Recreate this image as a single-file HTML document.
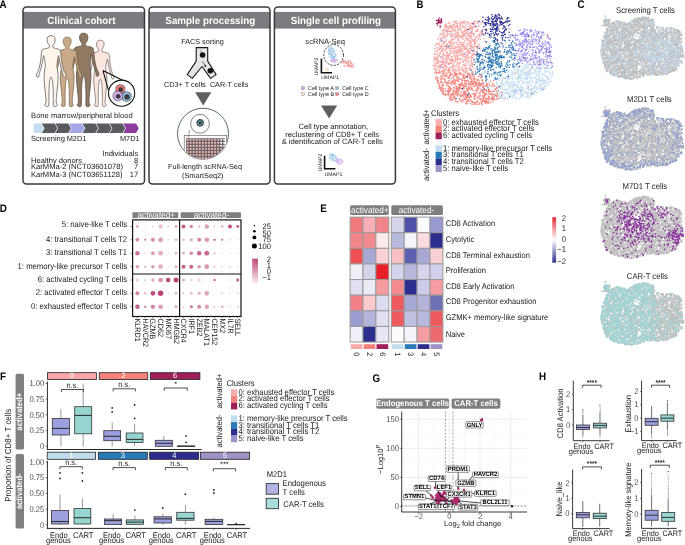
<!DOCTYPE html>
<html><head><meta charset="utf-8"><title>Figure</title>
<style>html,body{margin:0;padding:0;background:#fff;}svg{display:block;}text{font-family:"Liberation Sans", Arial, Helvetica, sans-serif;text-rendering:geometricPrecision;}</style>
</head><body>
<svg width="685" height="545" viewBox="0 0 685 545" font-family='"Liberation Sans", Arial, Helvetica, sans-serif'>
<rect x="23" y="7" width="121.5" height="177" fill="#fff" rx="3.5"/>
<rect x="23" y="11.9" width="121.5" height="16.7" fill="#7b7c80"/>
<rect x="23" y="7" width="121.5" height="177" fill="none" stroke="#3a3a3a" stroke-width="1.5" rx="3.5"/>
<text x="81.4" y="24.3" font-size="10.29" textLength="68.06" lengthAdjust="spacingAndGlyphs" text-anchor="middle" font-weight="bold" fill="#fff">Clinical cohort</text>
<rect x="149" y="7" width="121" height="177" fill="#fff" rx="3.5"/>
<rect x="149" y="11.9" width="121" height="16.7" fill="#7b7c80"/>
<rect x="149" y="7" width="121" height="177" fill="none" stroke="#3a3a3a" stroke-width="1.5" rx="3.5"/>
<text x="210.3" y="24.3" font-size="10.29" textLength="89.87" lengthAdjust="spacingAndGlyphs" text-anchor="middle" font-weight="bold" fill="#fff">Sample processing</text>
<rect x="274.4" y="7" width="121" height="177" fill="#fff" rx="3.5"/>
<rect x="274.4" y="11.9" width="121" height="16.7" fill="#7b7c80"/>
<rect x="274.4" y="7" width="121" height="177" fill="none" stroke="#3a3a3a" stroke-width="1.5" rx="3.5"/>
<text x="335.9" y="24.3" font-size="10.29" textLength="90.39" lengthAdjust="spacingAndGlyphs" text-anchor="middle" font-weight="bold" fill="#fff">Single cell profiling</text>
<text x="-0.4" y="7.8" font-size="11.07" textLength="7.08" lengthAdjust="spacingAndGlyphs" font-weight="bold">A</text>
<path d="M100.3 40.3C101.05 40.3 101.97 40.28 102.56 40.68C103.16 41.07 103.65 41.9 103.88 42.66C104.12 43.41 104.1 44.35 103.98 45.2C103.85 46.05 103.44 47.07 103.13 47.75C102.81 48.42 102.28 48.68 102.09 49.26C101.9 49.84 101.57 50.73 102 51.24C102.42 51.74 103.68 51.98 104.64 52.27C105.6 52.57 107.01 52.62 107.75 53.03C108.49 53.44 108.77 53.86 109.07 54.73C109.37 55.59 109.37 56.69 109.54 58.21C109.71 59.74 109.82 61.99 110.11 63.87C110.39 65.76 110.83 67.91 111.24 69.53C111.65 71.15 112.15 72.56 112.56 73.58C112.97 74.6 113.45 74.92 113.69 75.66C113.92 76.4 114.11 77.4 113.97 78.01C113.83 78.63 113.22 79.26 112.84 79.33C112.46 79.41 111.96 79.05 111.71 78.49C111.46 77.92 111.69 77.35 111.33 75.94C110.97 74.53 110.04 71.93 109.54 70C109.04 68.07 108.69 66.18 108.31 64.34C107.94 62.5 107.61 59.13 107.28 58.97C106.95 58.81 106.59 61.88 106.33 63.4C106.08 64.92 105.78 66.62 105.77 68.11C105.75 69.61 106.07 70.86 106.24 72.36C106.41 73.85 106.73 75.19 106.81 77.07C106.88 78.96 106.85 81.31 106.71 83.67C106.57 86.03 106.18 89.01 105.96 91.21C105.74 93.41 105.53 94.99 105.39 96.87C105.25 98.76 105 101.15 105.11 102.53C105.22 103.91 106.08 104.51 106.05 105.17C106.02 105.83 105.47 106.3 104.92 106.49C104.37 106.68 103.19 106.83 102.75 106.3C102.31 105.77 102.34 104.85 102.28 103.28C102.22 101.71 102.39 99.04 102.37 96.87C102.36 94.7 102.31 92.63 102.19 90.27C102.06 87.91 101.93 84.61 101.62 82.73C101.31 80.84 100.74 78.96 100.3 78.96C99.86 78.96 99.29 80.84 98.98 82.73C98.67 84.61 98.54 87.91 98.41 90.27C98.29 92.63 98.24 94.7 98.23 96.87C98.21 99.04 98.38 101.71 98.32 103.28C98.26 104.85 98.29 105.77 97.85 106.3C97.41 106.83 96.23 106.68 95.68 106.49C95.13 106.3 94.58 105.83 94.55 105.17C94.52 104.51 95.38 103.91 95.49 102.53C95.6 101.15 95.35 98.76 95.21 96.87C95.07 94.99 94.86 93.41 94.64 91.21C94.42 89.01 94.03 86.03 93.89 83.67C93.75 81.31 93.72 78.96 93.79 77.07C93.87 75.19 94.19 73.85 94.36 72.36C94.53 70.86 94.85 69.61 94.83 68.11C94.82 66.62 94.52 64.92 94.27 63.4C94.01 61.88 93.65 58.81 93.32 58.97C92.99 59.13 92.66 62.5 92.29 64.34C91.91 66.18 91.56 68.07 91.06 70C90.56 71.93 89.63 74.53 89.27 75.94C88.91 77.35 89.14 77.92 88.89 78.49C88.64 79.05 88.14 79.41 87.76 79.33C87.38 79.26 86.77 78.63 86.63 78.01C86.49 77.4 86.68 76.4 86.91 75.66C87.15 74.92 87.63 74.6 88.04 73.58C88.45 72.56 88.95 71.15 89.36 69.53C89.77 67.91 90.21 65.76 90.49 63.87C90.78 61.99 90.89 59.74 91.06 58.21C91.23 56.69 91.23 55.59 91.53 54.73C91.83 53.86 92.11 53.44 92.85 53.03C93.59 52.62 95 52.57 95.96 52.27C96.92 51.98 98.18 51.74 98.6 51.24C99.03 50.73 98.7 49.84 98.51 49.26C98.32 48.68 97.79 48.42 97.47 47.75C97.16 47.07 96.75 46.05 96.62 45.2C96.5 44.35 96.48 43.41 96.72 42.66C96.95 41.9 97.44 41.07 98.04 40.68C98.63 40.28 99.55 40.3 100.3 40.3Z" fill="#fce6de" stroke="#7a7070" stroke-width="0.8" stroke-linejoin="round"/>
<path d="M83.7 33.3C84.53 33.3 85.54 33.28 86.2 33.72C86.86 34.15 87.4 35.07 87.66 35.91C87.92 36.74 87.91 37.78 87.77 38.72C87.63 39.66 87.18 40.79 86.83 41.54C86.48 42.29 85.89 42.56 85.68 43.21C85.47 43.85 85.11 44.84 85.58 45.4C86.05 45.95 87.44 46.21 88.5 46.54C89.56 46.87 91.12 46.93 91.94 47.38C92.76 47.83 93.07 48.3 93.4 49.26C93.73 50.21 93.73 51.43 93.92 53.11C94.11 54.8 94.23 57.29 94.55 59.37C94.86 61.46 95.35 63.84 95.8 65.63C96.25 67.42 96.81 68.98 97.26 70.11C97.71 71.24 98.25 71.59 98.51 72.41C98.77 73.22 98.98 74.34 98.82 75.01C98.66 75.69 97.99 76.39 97.57 76.47C97.15 76.56 96.6 76.16 96.32 75.54C96.04 74.91 96.3 74.28 95.9 72.72C95.5 71.16 94.48 68.29 93.92 66.15C93.36 64.01 92.98 61.93 92.56 59.89C92.15 57.86 91.78 54.12 91.42 53.95C91.05 53.77 90.65 57.16 90.37 58.85C90.1 60.54 89.77 62.41 89.75 64.06C89.73 65.72 90.08 67.11 90.27 68.76C90.46 70.41 90.81 71.89 90.9 73.97C90.98 76.06 90.95 78.66 90.79 81.27C90.63 83.88 90.2 87.18 89.96 89.61C89.71 92.05 89.49 93.79 89.33 95.87C89.18 97.96 88.9 100.6 89.02 102.13C89.14 103.66 90.1 104.32 90.06 105.05C90.03 105.78 89.42 106.3 88.81 106.51C88.2 106.72 86.9 106.89 86.41 106.3C85.92 105.71 85.96 104.7 85.89 102.96C85.82 101.22 86.01 98.27 85.99 95.87C85.98 93.47 85.92 91.18 85.79 88.57C85.65 85.96 85.51 82.31 85.16 80.23C84.81 78.14 84.19 76.06 83.7 76.06C83.21 76.06 82.59 78.14 82.24 80.23C81.89 82.31 81.75 85.96 81.61 88.57C81.48 91.18 81.42 93.47 81.41 95.87C81.39 98.27 81.58 101.22 81.51 102.96C81.44 104.7 81.48 105.71 80.99 106.3C80.5 106.89 79.2 106.72 78.59 106.51C77.98 106.3 77.37 105.78 77.34 105.05C77.3 104.32 78.26 103.66 78.38 102.13C78.5 100.6 78.22 97.96 78.07 95.87C77.91 93.79 77.69 92.05 77.44 89.61C77.2 87.18 76.77 83.88 76.61 81.27C76.45 78.66 76.42 76.06 76.5 73.97C76.59 71.89 76.94 70.41 77.13 68.76C77.32 67.11 77.67 65.72 77.65 64.06C77.63 62.41 77.3 60.54 77.03 58.85C76.75 57.16 76.35 53.77 75.98 53.95C75.62 54.12 75.25 57.86 74.84 59.89C74.42 61.93 74.04 64.01 73.48 66.15C72.92 68.29 71.9 71.16 71.5 72.72C71.1 74.28 71.36 74.91 71.08 75.54C70.8 76.16 70.25 76.56 69.83 76.47C69.41 76.39 68.74 75.69 68.58 75.01C68.42 74.34 68.63 73.22 68.89 72.41C69.15 71.59 69.69 71.24 70.14 70.11C70.59 68.98 71.15 67.42 71.6 65.63C72.05 63.84 72.54 61.46 72.85 59.37C73.17 57.29 73.29 54.8 73.48 53.11C73.67 51.43 73.67 50.21 74 49.26C74.33 48.3 74.64 47.83 75.46 47.38C76.28 46.93 77.84 46.87 78.9 46.54C79.96 46.21 81.35 45.95 81.82 45.4C82.29 44.84 81.93 43.85 81.72 43.21C81.51 42.56 80.92 42.29 80.57 41.54C80.22 40.79 79.77 39.66 79.63 38.72C79.49 37.78 79.48 36.74 79.74 35.91C80 35.07 80.54 34.15 81.2 33.72C81.86 33.28 82.87 33.3 83.7 33.3Z" fill="#8f7963" stroke="#5e4e40" stroke-width="0.8" stroke-linejoin="round"/>
<path d="M67.2 37.2C67.99 37.2 68.94 37.18 69.57 37.59C70.19 38.01 70.7 38.88 70.95 39.66C71.19 40.45 71.18 41.44 71.04 42.33C70.91 43.21 70.49 44.28 70.16 44.99C69.83 45.69 69.27 45.96 69.07 46.56C68.88 47.17 68.53 48.11 68.97 48.63C69.42 49.16 70.73 49.41 71.73 49.72C72.74 50.03 74.22 50.08 74.99 50.51C75.76 50.93 76.06 51.38 76.37 52.28C76.68 53.19 76.68 54.34 76.86 55.93C77.04 57.52 77.16 59.87 77.45 61.84C77.75 63.81 78.21 66.07 78.63 67.76C79.06 69.45 79.59 70.93 80.01 72C80.44 73.06 80.95 73.39 81.2 74.16C81.44 74.94 81.64 75.99 81.49 76.63C81.34 77.27 80.7 77.93 80.31 78.01C79.92 78.09 79.39 77.71 79.13 77.12C78.86 76.53 79.11 75.94 78.73 74.46C78.36 72.98 77.39 70.27 76.86 68.25C76.33 66.23 75.97 64.26 75.58 62.34C75.18 60.41 74.84 56.88 74.49 56.72C74.15 56.55 73.77 59.76 73.51 61.35C73.25 62.94 72.93 64.72 72.92 66.28C72.9 67.84 73.23 69.15 73.41 70.71C73.59 72.28 73.92 73.67 74 75.64C74.08 77.61 74.05 80.08 73.9 82.54C73.75 85.01 73.34 88.13 73.11 90.43C72.88 92.73 72.67 94.37 72.52 96.34C72.38 98.31 72.11 100.81 72.23 102.26C72.34 103.7 73.25 104.33 73.21 105.02C73.18 105.71 72.61 106.2 72.03 106.4C71.45 106.59 70.22 106.76 69.76 106.2C69.3 105.64 69.34 104.69 69.27 103.05C69.2 101.4 69.39 98.61 69.37 96.34C69.35 94.08 69.3 91.91 69.17 89.44C69.04 86.98 68.91 83.53 68.58 81.56C68.25 79.59 67.66 77.61 67.2 77.61C66.74 77.61 66.15 79.59 65.82 81.56C65.49 83.53 65.36 86.98 65.23 89.44C65.1 91.91 65.05 94.08 65.03 96.34C65.02 98.61 65.2 101.4 65.13 103.05C65.06 104.69 65.1 105.64 64.64 106.2C64.18 106.76 62.95 106.59 62.37 106.4C61.8 106.2 61.22 105.71 61.19 105.02C61.15 104.33 62.06 103.7 62.17 102.26C62.29 100.81 62.02 98.31 61.88 96.34C61.73 94.37 61.52 92.73 61.29 90.43C61.06 88.13 60.65 85.01 60.5 82.54C60.35 80.08 60.32 77.61 60.4 75.64C60.48 73.67 60.81 72.28 60.99 70.71C61.17 69.15 61.5 67.84 61.48 66.28C61.47 64.72 61.15 62.94 60.89 61.35C60.63 59.76 60.25 56.55 59.91 56.72C59.56 56.88 59.22 60.41 58.82 62.34C58.43 64.26 58.07 66.23 57.54 68.25C57.01 70.27 56.05 72.98 55.67 74.46C55.29 75.94 55.54 76.53 55.27 77.12C55.01 77.71 54.48 78.09 54.09 78.01C53.7 77.93 53.05 77.27 52.91 76.63C52.76 75.99 52.96 74.94 53.2 74.16C53.45 73.39 53.96 73.06 54.39 72C54.81 70.93 55.34 69.45 55.77 67.76C56.19 66.07 56.65 63.81 56.95 61.84C57.24 59.87 57.36 57.52 57.54 55.93C57.72 54.34 57.72 53.19 58.03 52.28C58.35 51.38 58.64 50.93 59.41 50.51C60.19 50.08 61.66 50.03 62.67 49.72C63.67 49.41 64.98 49.16 65.43 48.63C65.87 48.11 65.52 47.17 65.33 46.56C65.13 45.96 64.57 45.69 64.24 44.99C63.91 44.28 63.49 43.21 63.36 42.33C63.22 41.44 63.21 40.45 63.45 39.66C63.7 38.88 64.21 38.01 64.83 37.59C65.46 37.18 66.41 37.2 67.2 37.2Z" fill="#c9a987" stroke="#7e684f" stroke-width="0.8" stroke-linejoin="round"/>
<path d="M51.1 35.7C51.91 35.7 52.88 35.68 53.52 36.1C54.16 36.52 54.68 37.41 54.93 38.22C55.18 39.02 55.16 40.03 55.03 40.94C54.89 41.84 54.46 42.93 54.12 43.66C53.79 44.38 53.22 44.65 53.01 45.27C52.81 45.89 52.46 46.85 52.91 47.38C53.37 47.92 54.71 48.17 55.73 48.49C56.76 48.81 58.27 48.86 59.06 49.3C59.85 49.73 60.15 50.19 60.47 51.11C60.79 52.03 60.79 53.21 60.97 54.84C61.15 56.46 61.27 58.86 61.57 60.88C61.88 62.89 62.35 65.19 62.78 66.92C63.22 68.65 63.76 70.16 64.19 71.25C64.63 72.34 65.15 72.68 65.4 73.47C65.65 74.26 65.85 75.33 65.7 75.99C65.55 76.64 64.9 77.31 64.5 77.4C64.09 77.48 63.55 77.09 63.29 76.49C63.02 75.88 63.27 75.28 62.88 73.77C62.5 72.26 61.51 69.49 60.97 67.42C60.43 65.36 60.06 63.35 59.66 61.38C59.26 59.42 58.91 55.81 58.55 55.64C58.2 55.47 57.81 58.75 57.55 60.38C57.28 62 56.96 63.82 56.94 65.41C56.92 67.01 57.26 68.35 57.45 69.94C57.63 71.54 57.97 72.96 58.05 74.98C58.13 76.99 58.1 79.51 57.95 82.03C57.8 84.55 57.38 87.74 57.14 90.09C56.91 92.44 56.69 94.11 56.54 96.13C56.39 98.14 56.12 100.69 56.24 102.17C56.35 103.65 57.28 104.29 57.24 104.99C57.21 105.7 56.62 106.2 56.04 106.4C55.45 106.6 54.19 106.77 53.72 106.2C53.25 105.63 53.28 104.66 53.22 102.98C53.15 101.3 53.33 98.45 53.32 96.13C53.3 93.81 53.25 91.6 53.11 89.08C52.98 86.56 52.85 83.04 52.51 81.02C52.17 79.01 51.57 76.99 51.1 76.99C50.63 76.99 50.03 79.01 49.69 81.02C49.35 83.04 49.22 86.56 49.09 89.08C48.95 91.6 48.9 93.81 48.88 96.13C48.87 98.45 49.05 101.3 48.98 102.98C48.92 104.66 48.95 105.63 48.48 106.2C48.01 106.77 46.75 106.6 46.16 106.4C45.58 106.2 44.99 105.7 44.96 104.99C44.92 104.29 45.85 103.65 45.96 102.17C46.08 100.69 45.81 98.14 45.66 96.13C45.51 94.11 45.29 92.44 45.06 90.09C44.82 87.74 44.4 84.55 44.25 82.03C44.1 79.51 44.07 76.99 44.15 74.98C44.23 72.96 44.57 71.54 44.76 69.94C44.94 68.35 45.28 67.01 45.26 65.41C45.24 63.82 44.92 62 44.65 60.38C44.39 58.75 44 55.47 43.65 55.64C43.29 55.81 42.94 59.42 42.54 61.38C42.14 63.35 41.77 65.36 41.23 67.42C40.69 69.49 39.7 72.26 39.32 73.77C38.93 75.28 39.18 75.88 38.91 76.49C38.65 77.09 38.11 77.48 37.7 77.4C37.3 77.31 36.65 76.64 36.5 75.99C36.35 75.33 36.55 74.26 36.8 73.47C37.05 72.68 37.57 72.34 38.01 71.25C38.44 70.16 38.98 68.65 39.42 66.92C39.85 65.19 40.32 62.89 40.63 60.88C40.93 58.86 41.05 56.46 41.23 54.84C41.41 53.21 41.41 52.03 41.73 51.11C42.05 50.19 42.35 49.73 43.14 49.3C43.93 48.86 45.44 48.81 46.47 48.49C47.49 48.17 48.83 47.92 49.29 47.38C49.74 46.85 49.39 45.89 49.19 45.27C48.98 44.65 48.41 44.38 48.08 43.66C47.74 42.93 47.31 41.84 47.17 40.94C47.04 40.03 47.02 39.02 47.27 38.22C47.52 37.41 48.05 36.52 48.68 36.1C49.32 35.68 50.29 35.7 51.1 35.7Z" fill="#fdf4ec" stroke="#5f5f5f" stroke-width="0.8" stroke-linejoin="round"/>
<path d="M103 70.6L108.4 90.2M103 70.6L123 80.4" fill="none" stroke="#111" stroke-width="1.1"/>
<circle cx="121.6" cy="93.2" r="13.1" fill="#fff" stroke="#111" stroke-width="1.1"/>
<path d="M125.5 89.4L124.56 90.37L124.99 91.66L123.72 92.12L123.54 93.47L122.2 93.34L121.46 94.47L120.3 93.77L119.14 94.47L118.4 93.34L117.06 93.47L116.88 92.12L115.61 91.66L116.04 90.37L115.1 89.4L116.04 88.43L115.61 87.14L116.88 86.68L117.06 85.33L118.4 85.46L119.14 84.33L120.3 85.03L121.46 84.33L122.2 85.46L123.54 85.33L123.72 86.68L124.99 87.14L124.56 88.43Z" fill="#f07b7b" stroke="#333" stroke-width="0.5"/>
<circle cx="120.7" cy="89.7" r="2.4" fill="#3b3b3b"/>
<path d="M131.9 96.6L130.94 97.59L131.38 98.9L130.08 99.38L129.9 100.74L128.53 100.61L127.78 101.77L126.6 101.05L125.42 101.77L124.67 100.61L123.3 100.74L123.12 99.38L121.82 98.9L122.26 97.59L121.3 96.6L122.26 95.61L121.82 94.3L123.12 93.82L123.3 92.46L124.67 92.59L125.42 91.43L126.6 92.15L127.78 91.43L128.53 92.59L129.9 92.46L130.08 93.82L131.38 94.3L130.94 95.61Z" fill="#8cbae2" stroke="#333" stroke-width="0.5"/>
<circle cx="127" cy="96.9" r="2.6" fill="#3b3b3b"/>
<path d="M123.1 96L122.14 96.99L122.58 98.3L121.28 98.78L121.1 100.14L119.73 100.01L118.98 101.17L117.8 100.45L116.62 101.17L115.87 100.01L114.5 100.14L114.32 98.78L113.02 98.3L113.46 96.99L112.5 96L113.46 95.01L113.02 93.7L114.32 93.22L114.5 91.86L115.87 91.99L116.62 90.83L117.8 91.55L118.98 90.83L119.73 91.99L121.1 91.86L121.28 93.22L122.58 93.7L122.14 95.01Z" fill="#d4aeee" stroke="#333" stroke-width="0.5"/>
<circle cx="118.2" cy="96.3" r="2.4" fill="#3b3b3b"/>
<text x="31.1" y="117.9" font-size="7.58" fill="#1a1a1a">Bone marrow/peripheral blood</text>
<path d="M33.7 123.5L41.1 123.5L43.8 128.3L41.1 133.1L33.7 133.1Z" fill="#c6dcf0"/>
<path d="M41.8 123.5L54.67 123.5L57.37 128.3L54.67 133.1L41.8 133.1L44.5 128.3Z" fill="#5a5b5e"/>
<path d="M55.37 123.5L68.24 123.5L70.94 128.3L68.24 133.1L55.37 133.1L58.07 128.3Z" fill="#5a5b5e"/>
<path d="M68.94 123.5L81.81 123.5L84.51 128.3L81.81 133.1L68.94 133.1L71.64 128.3Z" fill="#a3a6e4"/>
<path d="M82.51 123.5L95.38 123.5L98.08 128.3L95.38 133.1L82.51 133.1L85.21 128.3Z" fill="#5a5b5e"/>
<path d="M96.08 123.5L108.95 123.5L111.65 128.3L108.95 133.1L96.08 133.1L98.78 128.3Z" fill="#5a5b5e"/>
<path d="M109.65 123.5L122.52 123.5L125.22 128.3L122.52 133.1L109.65 133.1L112.35 128.3Z" fill="#5a5b5e"/>
<path d="M123.22 123.5L136.09 123.5L138.79 128.3L136.09 133.1L123.22 133.1L125.92 128.3Z" fill="#8e3b9e"/>
<text x="31" y="141.3" font-size="7.55" fill="#1a1a1a">Screening</text>
<text x="66.7" y="141.3" font-size="7.4" fill="#1a1a1a">M2D1</text>
<text x="139.6" y="141.3" font-size="7.4" text-anchor="end" fill="#1a1a1a">M7D1</text>
<text x="138.2" y="156.4" font-size="7.6" text-anchor="end" fill="#1a1a1a">Individuals</text>
<text x="31" y="162.6" font-size="7.6" fill="#1a1a1a">Healthy donors</text>
<text x="138.2" y="162.6" font-size="7.6" text-anchor="end" fill="#1a1a1a">8</text>
<text x="31" y="169.2" font-size="7.6" fill="#1a1a1a">KarMMa-2 (NCT03601078)</text>
<text x="138.2" y="169.2" font-size="7.6" text-anchor="end" fill="#1a1a1a">7</text>
<text x="31" y="176.9" font-size="7.6" fill="#1a1a1a">KarMMa-3 (NCT03651128)</text>
<text x="138.2" y="176.9" font-size="7.6" text-anchor="end" fill="#1a1a1a">17</text>
<text x="202.5" y="43.9" font-size="7.25" text-anchor="middle" fill="#1a1a1a">FACS sorting</text>
<path d="M196.2 47.6L207.7 47.6L207.7 61.1L216.1 74.6L210.6 78.4L202 66.5L192.3 78.4L187.2 74.6L196.2 61.1Z" fill="#e6e6e6" stroke="#1a1a1a" stroke-width="1.1" stroke-linejoin="round"/>
<circle cx="202.6" cy="55" r="2.8" fill="#111"/>
<circle cx="210.3" cy="70.7" r="2.8" fill="#111"/>
<line x1="200.2" y1="50.3" x2="201.6" y2="52.4" stroke="#333" stroke-width="0.5"/>
<line x1="202.3" y1="61.4" x2="205" y2="65.6" stroke="#222" stroke-width="0.6"/>
<path d="M203.9 65.9L206.2 67.2L205.9 64.6Z" fill="#222"/>
<text x="164" y="86.8" font-size="7.3" fill="#1a1a1a">CD3+ T cells</text>
<text x="209.9" y="86.8" font-size="7.24" fill="#1a1a1a">CAR-T cells</text>
<path d="M195.2 92.2L211.3 92.2L203.2 105.4Z" fill="#5e5f62"/>
<defs><clipPath id="cpB"><circle cx="203" cy="133.7" r="25.2"/></clipPath></defs>
<circle cx="203" cy="133.7" r="25.5" fill="#fff" stroke="#5d6b6c" stroke-width="1"/>
<g clip-path="url(#cpB)">
<rect x="184.2" y="135.5" width="42.5" height="30" fill="#fff" stroke="#555" stroke-width="0.6"/>
<rect x="186" y="138.2" width="39" height="28" fill="#6c6565"/>
<circle cx="187.6" cy="139.8" r="1.05" fill="#f4b9b9"/><circle cx="190.65" cy="139.8" r="1.05" fill="#f4b9b9"/><circle cx="193.7" cy="139.8" r="1.05" fill="#f4b9b9"/><circle cx="196.75" cy="139.8" r="1.05" fill="#f4b9b9"/><circle cx="199.8" cy="139.8" r="1.05" fill="#f4b9b9"/><circle cx="202.85" cy="139.8" r="1.05" fill="#f4b9b9"/><circle cx="205.9" cy="139.8" r="1.05" fill="#f4b9b9"/><circle cx="208.95" cy="139.8" r="1.05" fill="#f4b9b9"/><circle cx="212" cy="139.8" r="1.05" fill="#f4b9b9"/><circle cx="215.05" cy="139.8" r="1.05" fill="#f4b9b9"/><circle cx="218.1" cy="139.8" r="1.05" fill="#f4b9b9"/><circle cx="221.15" cy="139.8" r="1.05" fill="#ffffff"/><circle cx="224.2" cy="139.8" r="1.05" fill="#ffffff"/><circle cx="187.6" cy="142.85" r="1.05" fill="#f4b9b9"/><circle cx="190.65" cy="142.85" r="1.05" fill="#f4b9b9"/><circle cx="193.7" cy="142.85" r="1.05" fill="#f4b9b9"/><circle cx="196.75" cy="142.85" r="1.05" fill="#f4b9b9"/><circle cx="199.8" cy="142.85" r="1.05" fill="#f4b9b9"/><circle cx="202.85" cy="142.85" r="1.05" fill="#f4b9b9"/><circle cx="205.9" cy="142.85" r="1.05" fill="#f4b9b9"/><circle cx="208.95" cy="142.85" r="1.05" fill="#f4b9b9"/><circle cx="212" cy="142.85" r="1.05" fill="#f4b9b9"/><circle cx="215.05" cy="142.85" r="1.05" fill="#f4b9b9"/><circle cx="218.1" cy="142.85" r="1.05" fill="#f4b9b9"/><circle cx="221.15" cy="142.85" r="1.05" fill="#ffffff"/><circle cx="224.2" cy="142.85" r="1.05" fill="#ffffff"/><circle cx="187.6" cy="145.9" r="1.05" fill="#f4b9b9"/><circle cx="190.65" cy="145.9" r="1.05" fill="#f4b9b9"/><circle cx="193.7" cy="145.9" r="1.05" fill="#f4b9b9"/><circle cx="196.75" cy="145.9" r="1.05" fill="#f4b9b9"/><circle cx="199.8" cy="145.9" r="1.05" fill="#f4b9b9"/><circle cx="202.85" cy="145.9" r="1.05" fill="#f4b9b9"/><circle cx="205.9" cy="145.9" r="1.05" fill="#f4b9b9"/><circle cx="208.95" cy="145.9" r="1.05" fill="#f4b9b9"/><circle cx="212" cy="145.9" r="1.05" fill="#f4b9b9"/><circle cx="215.05" cy="145.9" r="1.05" fill="#f4b9b9"/><circle cx="218.1" cy="145.9" r="1.05" fill="#f4b9b9"/><circle cx="221.15" cy="145.9" r="1.05" fill="#ffffff"/><circle cx="224.2" cy="145.9" r="1.05" fill="#ffffff"/><circle cx="187.6" cy="148.95" r="1.05" fill="#f4b9b9"/><circle cx="190.65" cy="148.95" r="1.05" fill="#f4b9b9"/><circle cx="193.7" cy="148.95" r="1.05" fill="#f4b9b9"/><circle cx="196.75" cy="148.95" r="1.05" fill="#f4b9b9"/><circle cx="199.8" cy="148.95" r="1.05" fill="#f4b9b9"/><circle cx="202.85" cy="148.95" r="1.05" fill="#f4b9b9"/><circle cx="205.9" cy="148.95" r="1.05" fill="#f4b9b9"/><circle cx="208.95" cy="148.95" r="1.05" fill="#f4b9b9"/><circle cx="212" cy="148.95" r="1.05" fill="#f4b9b9"/><circle cx="215.05" cy="148.95" r="1.05" fill="#f4b9b9"/><circle cx="218.1" cy="148.95" r="1.05" fill="#f4b9b9"/><circle cx="221.15" cy="148.95" r="1.05" fill="#f4b9b9"/><circle cx="224.2" cy="148.95" r="1.05" fill="#f4b9b9"/><circle cx="187.6" cy="152" r="1.05" fill="#f4b9b9"/><circle cx="190.65" cy="152" r="1.05" fill="#f4b9b9"/><circle cx="193.7" cy="152" r="1.05" fill="#f4b9b9"/><circle cx="196.75" cy="152" r="1.05" fill="#f4b9b9"/><circle cx="199.8" cy="152" r="1.05" fill="#f4b9b9"/><circle cx="202.85" cy="152" r="1.05" fill="#f4b9b9"/><circle cx="205.9" cy="152" r="1.05" fill="#f4b9b9"/><circle cx="208.95" cy="152" r="1.05" fill="#f4b9b9"/><circle cx="212" cy="152" r="1.05" fill="#f4b9b9"/><circle cx="215.05" cy="152" r="1.05" fill="#f4b9b9"/><circle cx="218.1" cy="152" r="1.05" fill="#f4b9b9"/><circle cx="221.15" cy="152" r="1.05" fill="#f4b9b9"/><circle cx="224.2" cy="152" r="1.05" fill="#f4b9b9"/><circle cx="187.6" cy="155.05" r="1.05" fill="#f4b9b9"/><circle cx="190.65" cy="155.05" r="1.05" fill="#f4b9b9"/><circle cx="193.7" cy="155.05" r="1.05" fill="#f4b9b9"/><circle cx="196.75" cy="155.05" r="1.05" fill="#f4b9b9"/><circle cx="199.8" cy="155.05" r="1.05" fill="#f4b9b9"/><circle cx="202.85" cy="155.05" r="1.05" fill="#f4b9b9"/><circle cx="205.9" cy="155.05" r="1.05" fill="#f4b9b9"/><circle cx="208.95" cy="155.05" r="1.05" fill="#f4b9b9"/><circle cx="212" cy="155.05" r="1.05" fill="#f4b9b9"/><circle cx="215.05" cy="155.05" r="1.05" fill="#f4b9b9"/><circle cx="218.1" cy="155.05" r="1.05" fill="#f4b9b9"/><circle cx="221.15" cy="155.05" r="1.05" fill="#f4b9b9"/><circle cx="224.2" cy="155.05" r="1.05" fill="#f4b9b9"/><circle cx="187.6" cy="158.1" r="1.05" fill="#f4b9b9"/><circle cx="190.65" cy="158.1" r="1.05" fill="#f4b9b9"/><circle cx="193.7" cy="158.1" r="1.05" fill="#f4b9b9"/><circle cx="196.75" cy="158.1" r="1.05" fill="#f4b9b9"/><circle cx="199.8" cy="158.1" r="1.05" fill="#f4b9b9"/><circle cx="202.85" cy="158.1" r="1.05" fill="#f4b9b9"/><circle cx="205.9" cy="158.1" r="1.05" fill="#f4b9b9"/><circle cx="208.95" cy="158.1" r="1.05" fill="#f4b9b9"/><circle cx="212" cy="158.1" r="1.05" fill="#f4b9b9"/><circle cx="215.05" cy="158.1" r="1.05" fill="#f4b9b9"/><circle cx="218.1" cy="158.1" r="1.05" fill="#f4b9b9"/><circle cx="221.15" cy="158.1" r="1.05" fill="#f4b9b9"/><circle cx="224.2" cy="158.1" r="1.05" fill="#f4b9b9"/><circle cx="187.6" cy="161.15" r="1.05" fill="#f4b9b9"/><circle cx="190.65" cy="161.15" r="1.05" fill="#f4b9b9"/><circle cx="193.7" cy="161.15" r="1.05" fill="#f4b9b9"/><circle cx="196.75" cy="161.15" r="1.05" fill="#f4b9b9"/><circle cx="199.8" cy="161.15" r="1.05" fill="#f4b9b9"/><circle cx="202.85" cy="161.15" r="1.05" fill="#f4b9b9"/><circle cx="205.9" cy="161.15" r="1.05" fill="#f4b9b9"/><circle cx="208.95" cy="161.15" r="1.05" fill="#f4b9b9"/><circle cx="212" cy="161.15" r="1.05" fill="#f4b9b9"/><circle cx="215.05" cy="161.15" r="1.05" fill="#f4b9b9"/><circle cx="218.1" cy="161.15" r="1.05" fill="#f4b9b9"/><circle cx="221.15" cy="161.15" r="1.05" fill="#f4b9b9"/><circle cx="224.2" cy="161.15" r="1.05" fill="#f4b9b9"/><circle cx="187.6" cy="164.2" r="1.05" fill="#f4b9b9"/><circle cx="190.65" cy="164.2" r="1.05" fill="#f4b9b9"/><circle cx="193.7" cy="164.2" r="1.05" fill="#f4b9b9"/><circle cx="196.75" cy="164.2" r="1.05" fill="#f4b9b9"/><circle cx="199.8" cy="164.2" r="1.05" fill="#f4b9b9"/><circle cx="202.85" cy="164.2" r="1.05" fill="#f4b9b9"/><circle cx="205.9" cy="164.2" r="1.05" fill="#f4b9b9"/><circle cx="208.95" cy="164.2" r="1.05" fill="#f4b9b9"/><circle cx="212" cy="164.2" r="1.05" fill="#f4b9b9"/><circle cx="215.05" cy="164.2" r="1.05" fill="#f4b9b9"/><circle cx="218.1" cy="164.2" r="1.05" fill="#f4b9b9"/><circle cx="221.15" cy="164.2" r="1.05" fill="#f4b9b9"/><circle cx="224.2" cy="164.2" r="1.05" fill="#f4b9b9"/>
</g>
<circle cx="200" cy="123.8" r="9.4" fill="#fff" stroke="#333" stroke-width="0.6"/>
<line x1="189.6" y1="130" x2="188.2" y2="137.8" stroke="#444" stroke-width="0.5"/>
<path d="M204 122.8L203.31 123.51L203.62 124.45L202.7 124.79L202.57 125.77L201.58 125.68L201.05 126.5L200.2 125.99L199.35 126.5L198.82 125.68L197.83 125.77L197.7 124.79L196.78 124.45L197.09 123.51L196.4 122.8L197.09 122.09L196.78 121.15L197.7 120.81L197.83 119.83L198.82 119.92L199.35 119.1L200.2 119.61L201.05 119.1L201.58 119.92L202.57 119.83L202.7 120.81L203.62 121.15L203.31 122.09Z" fill="#3d3d3d" stroke="#333" stroke-width="0.5"/>
<circle cx="200.6" cy="123.1" r="0.1" fill="#3b3b3b"/>
<circle cx="200.2" cy="122.8" r="2.6" fill="#5f9aa0"/>
<circle cx="200.2" cy="122.8" r="1.4" fill="#333"/>
<text x="205" y="168.8" font-size="7.28" text-anchor="middle" fill="#1a1a1a">Full-length scRNA-Seq</text>
<text x="202.8" y="177.6" font-size="7.34" text-anchor="middle" fill="#1a1a1a">(SmartSeq2)</text>
<text x="325.2" y="43.9" font-size="7.6" text-anchor="middle" fill="#1a1a1a">scRNA-Seq</text>
<path d="M329.23 49.11h0M331.09 47.33h0M331.63 51.25h0M329.04 54.18h0M328.57 53.32h0M332.97 57.24h0M328.2 50.5h0M334.89 58.24h0M332.05 51.53h0M333.47 49.51h0M332.14 57.39h0M330.21 54.8h0M332.36 51.07h0M330.34 47.46h0M332.89 51.66h0M331.13 54.52h0M330.78 50.63h0M334.89 54.74h0M330.61 54.55h0M333.87 57.59h0M332.59 49.8h0M332.61 56.39h0M329.6 53.72h0M329.64 56.22h0M334.12 53.25h0M333.7 49.76h0M333.75 53.69h0M332.34 52.26h0M332.57 55.1h0M329.94 56.58h0M333.2 49.53h0M331.99 55.37h0M328.6 53.7h0M328.35 50.79h0M332.94 57.87h0M328.93 53.41h0M334.07 57.63h0M335.81 56.73h0M330.12 52.5h0M332.78 58.11h0M328.6 50.48h0M330.13 53.47h0M331.53 49.84h0M331.42 54.15h0M335.93 54.24h0M332.64 54.42h0M331.17 47.03h0M335.97 55.49h0M335.88 55.77h0M330.81 52.01h0M329.93 55.64h0M328.5 49.53h0M328.89 47.85h0M328.69 52.29h0M331.18 48.36h0M329.63 51.72h0M329.37 48.66h0M331.7 52.88h0M329.87 50.47h0M332.69 47.99h0M330.59 48.55h0M330.15 47.03h0M334.36 58.86h0M335.35 54.54h0M329.78 51.94h0M330.98 57.19h0M333.48 56.38h0M329.59 49.99h0M335.77 55.92h0M335.24 55.19h0M330.23 53.89h0M328.89 47.52h0M331.24 55.98h0M334.85 51.22h0M334.46 50.2h0M328.87 50.3h0M328.61 50.08h0M334.65 57.66h0M334.21 51.9h0M334.39 56.34h0M329.92 56.02h0M336.05 55.49h0M333.59 52.11h0M331.13 57.38h0M332.23 57.14h0M334.72 50.54h0M333.36 58.78h0M332.03 48.35h0M331.08 57.92h0M331.21 53.97h0M335.86 53.69h0M334.14 58.31h0M333.23 57.77h0M332.9 48.61h0M329.38 51.05h0" fill="none" stroke="#9cc6e6" stroke-width="1.1" stroke-linecap="round"/>
<path d="M332.13 60.93h0M332.27 60.29h0M332.95 60.44h0M334.6 62.14h0M333.43 62.19h0M334.01 60.72h0M334.17 58.77h0M333.57 59.4h0M331.64 60.5h0M335.62 60.81h0M332.75 60.67h0M334.4 61.68h0M331.16 60.83h0M332.19 59.75h0M335.96 60.63h0M334.44 61.59h0M336.97 60.38h0M334.81 60.62h0M334.09 61.33h0M333.66 60.73h0M333.84 62.28h0M335.43 62.03h0M334.43 62.28h0M336.45 59.22h0M331.28 60.38h0M330.92 59.61h0M330.93 61.24h0M336.04 62.11h0M331.51 61.42h0M335.15 59.24h0M333.27 60.55h0M331.56 60.34h0M334.11 59.99h0M331.81 59.91h0M334.39 60.37h0M334.89 60.65h0M331.15 59.71h0M332.35 59.19h0M333.44 62.16h0M336.3 59.68h0" fill="none" stroke="#cfaaee" stroke-width="1.1" stroke-linecap="round"/>
<path d="M348.51 65.39h0M350.6 64.07h0M349.14 66.3h0M347.72 62.57h0M347.83 66.79h0M345.73 60.46h0M348.88 62.21h0M345.95 61.78h0M351.79 63.48h0M348.65 61.71h0M350.93 65.07h0M344.02 62.39h0M352.28 64.64h0M347.26 65.95h0M346.6 63.41h0M345.29 65.33h0M350.41 65.51h0M347.07 62.43h0M341.94 63.64h0M345.5 60.63h0M352.47 66.4h0M345.68 61.25h0M345.39 62.7h0M343.66 62.07h0M354.05 66.01h0M345.81 62.1h0M347.67 63.72h0M344.11 62.63h0M342.87 61.5h0M345.99 61.28h0M349.05 64.33h0M350.94 65.83h0M350.04 67.13h0M346.91 62.23h0M350.62 65.63h0M352.84 66.2h0M350.41 66.77h0M343.27 62.5h0M347.38 65.99h0M351.3 67.14h0M348.3 66.69h0M349.99 65.79h0M343.51 61.42h0M348.5 64.87h0M349.28 65.48h0M348.86 60.53h0M351.37 66.61h0M347.97 64.04h0M350.94 61.62h0M351.57 63.14h0M342.94 60.57h0M351.57 62.81h0M348.16 63.01h0M347.36 64.91h0M351.23 65.63h0M350.7 61.63h0M343.91 60.78h0M351.55 63.51h0M349.86 60.91h0M342.76 60.53h0M349.85 65.74h0M350.7 63.15h0M348.29 63.64h0M348.33 61.19h0M353.72 63.43h0M341.81 61.59h0M347.81 62.09h0M344.08 63.17h0M343.3 62.52h0M352.14 65.14h0M352.62 66.68h0M343.71 65.3h0M348.77 60.66h0M341.57 61.75h0M347.76 62.32h0M343.65 61.34h0M344.93 65.27h0M353.11 66.9h0M353.64 64.05h0M346.56 62.59h0M346.33 62.77h0M344.34 65.77h0M345.21 61.27h0M348.77 61.83h0M345.44 66.25h0" fill="none" stroke="#f39a9a" stroke-width="1.1" stroke-linecap="round"/>
<path d="M327.98 70.27h0M327.07 70.56h0M328.19 69.54h0M327.44 69.26h0M327.51 69.8h0M325.83 68.14h0M326.5 68.96h0M325.87 70.07h0M327.16 68.84h0M326.81 69.1h0M325.4 68.45h0M326.59 68.62h0" fill="none" stroke="#f6d4b4" stroke-width="1.1" stroke-linecap="round"/>
<ellipse cx="333.6" cy="55.0" rx="9.8" ry="10.4" fill="none" stroke="#222" stroke-width="0.9" stroke-dasharray="2 1.4"/>
<path d="M321.4 58.8V72.8H332" fill="none" stroke="#111" stroke-width="1.6"/>
<text x="318.5" y="66.6" font-size="5.2" text-anchor="middle" fill="#1a1a1a" transform="rotate(-90 318.5 66.6)">UMAP2</text>
<text x="330.3" y="79.4" font-size="5.2" text-anchor="middle" fill="#1a1a1a">UMAP1</text>
<rect x="301.6" y="86.8" width="2.8" height="2.8" fill="#c9a6ea" stroke="#666" stroke-width="0.3"/>
<text x="308" y="90.1" font-size="5.4" fill="#1a1a1a">Cell type A</text>
<rect x="335.8" y="86.8" width="2.8" height="2.8" fill="#8fbfe0" stroke="#666" stroke-width="0.3"/>
<text x="342.2" y="90.1" font-size="5.4" fill="#1a1a1a">Cell type C</text>
<rect x="301.6" y="92.8" width="2.8" height="2.8" fill="#f8dcc0" stroke="#666" stroke-width="0.3"/>
<text x="308" y="96.1" font-size="5.4" fill="#1a1a1a">Cell type B</text>
<rect x="335.8" y="92.8" width="2.8" height="2.8" fill="#f08080" stroke="#666" stroke-width="0.3"/>
<text x="342.2" y="96.1" font-size="5.4" fill="#1a1a1a">Cell type D</text>
<path d="M321 105.4L337.2 105.4L329.1 118.5Z" fill="#5e5f62"/>
<text x="333.3" y="129.4" font-size="7.66" text-anchor="middle" fill="#1a1a1a">Cell type annotation,</text>
<text x="332.2" y="136.9" font-size="7.66" text-anchor="middle" fill="#1a1a1a">reclustering of CD8+ T cells</text>
<text x="332.2" y="144.3" font-size="7.66" text-anchor="middle" fill="#1a1a1a">&amp; identification of CAR-T cells</text>
<path d="M334.12 155.04h0M333.48 154.22h0M332.09 154.57h0M332.33 159.61h0M335.41 158.04h0M332.46 156.88h0M332.85 155.71h0M330.68 153.75h0M332.76 157.9h0M336.98 157.58h0M332.37 154.68h0M332.63 156.39h0M336.3 159.11h0M330.83 158.89h0M334.39 160.77h0M332.71 158.28h0M335.75 160.66h0M333.36 159.36h0M332.69 157.25h0M329.65 158.03h0M335.01 156.92h0M331.27 153.96h0M333.52 158.96h0M333.09 157.76h0M333.35 155.16h0M335.74 155.14h0M331.83 155.96h0M336.16 160.35h0M336.2 159.06h0M332.1 154.49h0M332.56 158.11h0M333.47 155.5h0M332.93 160.32h0M332.26 155.94h0M335.68 156.55h0M334.59 160.01h0M334.3 155.67h0M336.6 157.44h0M330.14 157.13h0M330.01 158.52h0M334.3 155.53h0M331.4 155.32h0M332.83 160.43h0M330.9 154.8h0M330.25 154.35h0M337.09 158.54h0M334.89 157.41h0M332.85 155.66h0M332.06 155.27h0M330.95 158.15h0M335.89 158.52h0M329.87 154.72h0M330.72 158.75h0M331.36 154.89h0M331.4 158.38h0M337.27 158.1h0M333.64 160.59h0M332.8 155.16h0M336.25 160.2h0M330.61 157.11h0M332.62 155.06h0M335.88 160.07h0M331.27 155.69h0M333.24 155.3h0M332.69 156.8h0M334.64 160.03h0M334.66 160.32h0M334.64 156.85h0M332.33 155.53h0M329.99 156.96h0M329.47 155.06h0M332.92 153.78h0M330.14 155.1h0M334.98 158.01h0M331.48 155.38h0" fill="none" stroke="#9cc6e6" stroke-width="1.1" stroke-linecap="round"/>
<path d="M340.27 162.64h0M341.19 163.68h0M340.58 159.33h0M341.85 160.36h0M339.88 160.84h0M341.11 159.8h0M337.58 160.07h0M339.96 160.56h0M339.45 159.99h0M341.62 162.52h0M339.22 163.51h0M336.66 159.74h0M342.81 162.1h0M342.5 160.83h0M342.04 161.29h0M337.67 163.27h0M340.09 162.32h0M337.37 160.81h0M336.82 159.82h0M337.64 162.2h0M340.49 159.82h0M340.68 159.71h0M338.05 159.82h0M341.53 161.89h0M338.65 161.9h0M340.4 159.15h0M336.98 162.77h0M338.75 160.3h0M338.01 164.32h0M338.05 162h0M338.37 161.1h0M338.42 159.78h0M341.04 159.82h0M338.85 163.52h0M338.72 163.9h0M339.12 159.58h0M335.91 161.91h0M340.41 164.06h0M336.44 162.33h0M338.47 161.63h0M336.85 160.3h0M339.55 164.15h0M336.58 161.54h0M337.22 159.36h0M339.28 158.92h0M342.47 160.93h0M342.31 162.32h0M341.74 159.56h0M341.46 159.93h0M338.71 163.68h0M341.77 159.7h0M337.37 161h0M339.53 160.9h0M336.69 160.08h0M341.02 163.98h0" fill="none" stroke="#d4b4f0" stroke-width="1.1" stroke-linecap="round"/>
<path d="M324.6 155.7V168.8H335.4" fill="none" stroke="#111" stroke-width="1.6"/>
<text x="321.8" y="162.5" font-size="5.2" text-anchor="middle" fill="#1a1a1a" transform="rotate(-90 321.8 162.5)">UMAP2</text>
<text x="333.4" y="176.2" font-size="5.2" text-anchor="middle" fill="#1a1a1a">UMAP1</text>
<text x="416.4" y="7.7" font-size="10.85" textLength="6.93" lengthAdjust="spacingAndGlyphs" font-weight="bold">B</text>
<path d="M433.2 65.3h0m.7-5.7h0m.1 8.1h0m.1-5.8h0m.1-2.8h0m0 6.8h0m.1-11.6h0m0 15h0m.2-13.1h0m0 3.1h0m.1-10.7h0m0 23.6h0m.2-20.6h0m0 18h0m.2-11.9h0m.1 5.9h0m0 1.8h0m.1-5.4h0m.1-5.8h0m.1 4.9h0m0 5.6h0m0 7.2h0m.2-18.1h0m0 6h0m.1-14.1h0m0 11.9h0m0 15.8h0m.2-29h0m0 25.2h0m.1-11.5h0m0 8.1h0m.1-8.6h0m.1 8.1h0m.1 7.9h0m0 3.1h0m.2-7.2h0m.1 2.5h0m.1-18.7h0m0 4.5h0m0 1.2h0m0 11.4h0m.1-10.6h0m0 3.1h0m.1-12.2h0m0 7.2h0m0 3.6h0m0 6.7h0m.1-20.2h0m0 11.8h0m.1-11.4h0m0 3h0m0 12h0m0 4.8h0m.2-5.7h0m.2-12h0m.1 5.1h0m.1 4.7h0m.1-20.8h0m0 20.1h0m0 13.3h0m.1-33.2h0m0 17.6h0m.1 3.4h0m.1-16.9h0m0 12.9h0m0 8.5h0m.1-17.8h0m0 19.1h0m.2-5.1h0m.1-23.1h0m.1 17.6h0m0 7.3h0m.1-.3h0m.2-6.9h0m0 11h0m.1-17h0m0 20.3h0m.1-17.1h0m0 2h0m0 17.1h0m0 5.6h0m.1-10h0m.1-.2h0m.1-2.6h0m0 5.8h0m.1-27.1h0m0 5.8h0m0 22.9h0m.1-22.2h0m.1-1.8h0m0 21.4h0m0 1.5h0m.1-35.4h0m0 25.1h0m0 5.8h0m.1-22h0m.1-3.2h0m0 4.7h0m0 6.9h0m0 .6h0m.1 13.1h0m.1-33h0m0 23.8h0m0 16h0m.1-35.3h0m0 15h0m.2 8.5h0m0 10h0m.1-9.8h0m.1-23.4h0m0 8.3h0m0 19.8h0m0 9.2h0m.1-27.9h0m0 3.8h0m0 12.7h0m.1 2.7h0m0 1.3h0m0 7.8h0m.1-42.4h0m0 6.7h0m.1-7.3h0m0 31.6h0m0 .7h0m0 .8h0m.1-28.6h0m.2 9.3h0m0 4h0m.1-2.3h0m.1 22.8h0m.1-26.3h0m0 12.3h0m0 3.7h0m.1-31h0m.1 16.2h0m0 13.3h0m0 4.2h0m.2-33.8h0m0 19.7h0m0 11.8h0m0 .6h0m.1-16.2h0m.3 3.8h0m0 4.4h0m.1-4.6h0m0 14.7h0m.1-26.6h0m0 5.8h0m0 13.3h0m0 5.6h0m0 12.4h0m.1-42h0m0 1.5h0m0 .3h0m0 16.7h0m0 21.1h0m.1-5.2h0m.2-19.3h0m0 22.8h0m0 2.3h0m.1-42.5h0m0 42.6h0m.1-14.7h0m0 2.6h0m0 9.1h0m.1-37.5h0m0 15.8h0m0 4.5h0m0 3.1h0m0 7.6h0m.1-34.3h0m0 7.3h0m0 5h0m0 .6h0m0 13h0m0 6.3h0m0 .7h0m.1-26.4h0m0 19.3h0m0 15h0m.1-17.7h0m0 14.3h0m.1-8.5h0m.1-23.5h0m0 8.9h0m0 16.4h0m.1-28.1h0m0 14.3h0m0 15.3h0m0 6.9h0m.1-32.6h0m0 1.4h0m0 20.8h0m0 8.1h0m0 12.6h0m.1-46.7h0m0 9h0m0 20.3h0m.1-6.8h0m0 9.3h0m.1 7.5h0m.1-45.5h0m.2 16.5h0m0 22.9h0m0 8.2h0m.2-43.8h0m0 19.5h0m.1-21.3h0m0 10.6h0m0 2.3h0m0 25.2h0m0 2.7h0m.1-23h0m0 1h0m0 23.4h0m.1-6.2h0m.1-37.8h0m0 2.3h0m.1 22.2h0m.1-26h0m.1 17.3h0m0 13.7h0m.1-6.4h0m0 10.1h0m.1-24h0m.1-8.2h0m0 3.8h0m0 15.1h0m0 12.9h0m0 3.8h0m0 2.9h0m0 2.9h0m.1-34.3h0m.2-10.3h0m0 24.4h0m.1-23.3h0m0 35.4h0m0 6.2h0m.1-35h0m0 12.5h0m0 13.2h0m0 7.9h0m.1-8.7h0m0 9.3h0m0 7.5h0m.1-47.2h0m0 29.3h0m0 12.2h0m0 2.6h0m.1-33.4h0m0 3.1h0m0 7.9h0m0 5.2h0m0 5.6h0m.1-31.4h0m0 24.7h0m0 2.8h0m0 12.6h0m.1-40.9h0m.1 33.4h0m0 15.5h0m.1-45.9h0m0 6.4h0m0 15.8h0m0 7.6h0m0 2.3h0m0 13.8h0m0 1.4h0m.1-47.6h0m0 1.5h0m.1 2.8h0m0 12.7h0m0 10.4h0m.1-23.9h0m0 2.9h0m0 36.7h0m.1-28.5h0m0 1.3h0m.1-18.1h0m0 26.1h0m.1-5.5h0m.1-2.9h0m0 10.8h0m0 7.2h0m0 1.3h0m.2-19.2h0m.1 4.2h0m0 6.7h0m.1-21.5h0m.1-11.9h0m0 58.4h0m.1-34.3h0m0 11.4h0m.1-26.5h0m0 23.1h0m.1-25.7h0m0 13.2h0m0 21h0m.1-36.2h0m0 1.9h0m0 41.6h0m0 2.3h0m.1-8.2h0m.1-7.6h0m.1-33.4h0m0 18.6h0m0 26.4h0m0 1.8h0m0 2.9h0m0 3.5h0m.1-42.6h0m0 21h0m0 9.6h0m0 4.9h0m.1-38.6h0m.1 40.5h0m0 6.9h0m.1-15.3h0m.1-14.6h0m0 10.3h0m0 1.4h0m.1-32h0m0 18.3h0m.1-20.1h0m0 4.8h0m0 22.2h0m0 14.2h0m0 2.8h0m.1-27.1h0m0 12.2h0m0 7.6h0m0 .8h0m0 16.1h0m.1-54.7h0m0 2.9h0m0 12.9h0m0 4.2h0m.1-4.2h0m.1-9.8h0m0 31.1h0m0 5.5h0m.1-42.2h0m0 23.3h0m0 1.6h0m.1-23.6h0m0 .3h0m0 26.1h0m.1-16.9h0m.1-13.3h0m0 12.3h0m0 24.2h0m0 7.9h0m0 5.5h0m.1-45.6h0m0 14.6h0m0 17.7h0m0 .3h0m.1-33.9h0m.1 25h0m0 1.2h0m.1-21.8h0m0 12.7h0m.1 2.7h0m0 21.3h0m.1-34.1h0m0 11.7h0m0 18.2h0m.1-37.3h0m0 17.3h0m0 4h0m0 26.7h0m.1-42.5h0m0 3.6h0m0 4.4h0m0 22.8h0m.1-30.5h0m0 10.9h0m.1 32.2h0m.1-25.8h0m0 7.7h0m0 6.6h0m0 7.3h0m0 4.8h0m.1-14.1h0m0 13.7h0m.1-46.7h0m0 12.3h0m.1-14.6h0m0 9.4h0m0 23h0m0 15.9h0m.1-20.8h0m.1-10.5h0m0 20.7h0m0 11.3h0m.1-37.5h0m.1-1.9h0m0 1.5h0m0 30h0m.1-39.7h0m0 13.1h0m0 16.8h0m0 2.3h0m.1-25.3h0m0 26h0m.1-33.2h0m0 2h0m0 2h0m.1 8.5h0m0 29h0m.1-20.4h0m0 16.6h0m0 1.1h0m.1-19.1h0m0 4.4h0m0 9.5h0m.1-.3h0m0 10.3h0m.2 .8h0m.1-47h0m0 1.4h0m0 41.7h0m0 4.2h0m0 3.3h0m.1-53.1h0m0 23h0m.1-.9h0m0 22.1h0m.1-29.2h0m0 7.4h0m0 15.9h0m.1-35.5h0m0 4h0m0 37.1h0m.1-44.1h0m0 26.9h0m0 4.6h0m0 2.6h0m0 19.5h0m.1-35.9h0m.1 21.9h0m.1-7.5h0m0 11.9h0m0 3.9h0m.1-28h0m0 1.7h0m0 8.6h0m.1-26.3h0m0 10.4h0m.1-4.1h0m0 20.9h0m0 1h0m0 9.2h0m0 9.7h0m.1-42.8h0m0 5.7h0m0 .6h0m0 7.2h0m0 25.7h0m.1-30.5h0m.1-13.3h0m0 8.6h0m0 16.1h0m.1-28.5h0m.1 9.2h0m0 3.5h0m0 14.1h0m.1-20.6h0m0 30.2h0m.1-27.1h0m0 4.6h0m0 10.9h0m0 2h0m0 22.8h0m.1-37.6h0m0 14.7h0m0 3.1h0m0 .2h0m0 18.4h0m.1-39.5h0m0 25.9h0m0 10.3h0m.1-43.6h0m0 33.6h0m0 2.4h0m0 .7h0m0 1.8h0m0 8.4h0m0 .6h0m.1-48.5h0m0 8.4h0m0 45.2h0m0 .5h0m.1-28.8h0m.1-9.6h0m0 19.4h0m.1-30.4h0m0 2.9h0m0 44.2h0m.2-47.5h0m0 1.1h0m0 9.1h0m0 18.1h0m.1-6.6h0m0 8.2h0m0 3.7h0m.1-24.3h0m0 .8h0m0 18.8h0m0 5.2h0m.2-36.8h0m0 29.2h0m0 20.5h0m0 2.8h0m0 4.2h0m.1-47h0m0 9.4h0m0 4.6h0m0 6h0m0 13.7h0m.1-45.3h0m0 15.2h0m0 14.9h0m0 19.4h0m.1-44.6h0m0 .2h0m0 15.8h0m0 4.4h0m0 3.2h0m.1-5.5h0m0 20.1h0m.1-6h0m.1-37.5h0m0 3.8h0m0 52.3h0m.2-44.6h0m.1-7h0m0 36.4h0m0 1.2h0m0 5.9h0m.1-16.7h0m0 4.2h0m.1-22.4h0m0 2.1h0m0 1.9h0m0 12.3h0m.1-17.5h0m0 40.7h0m.1-42.3h0m0 12.9h0m.1-20.9h0m0 5.5h0m0 11.5h0m0 6.7h0m0 5.5h0m0 2.9h0m0 4.5h0m.1-32.7h0m0 47h0m.1-47.6h0m0 9.7h0m0 21.4h0m0 16h0m.2-37.9h0m0 11.4h0m0 6.1h0m0 11.7h0m0 .6h0m.1-35.9h0m0 5.3h0m0 2.8h0m0 2.2h0m0 11.9h0m.1-12.8h0m0 10.3h0m0 13.5h0m.1-30.1h0m0 25.5h0m0 12.3h0m.1-47h0m0 41.9h0m.1-16.4h0m0 .8h0m0 17.5h0m0 1.9h0m.1-23.1h0m.1-4.1h0m.1-.2h0m0 16.6h0m0 13.5h0m.1-27.7h0m0 6.2h0m0 15.2h0m0 3.4h0m.1-40.1h0m0 6.3h0m0 6h0m0 3.4h0m0 .2h0m.1 6.6h0m.1 7.6h0m.1-3.9h0m0 .3h0m0 3.1h0m.1 5.1h0m0 6.1h0m.1-44h0m0 41.8h0m.1-31.6h0m.1 11.9h0m0 2.9h0m0 1.4h0m0 2.5h0m.1-29.5h0m0 21.9h0m0 7.6h0m0 .2h0m.1-27.5h0m0 2.1h0m0 14.3h0m0 19.3h0m.1-33.7h0m0 6.8h0m0 12.9h0m0 1.5h0m.1-27.9h0m0 .4h0m0 12.6h0m0 26.5h0m.1-34.5h0m0 33.5h0m.1-34.5h0m0 2.1h0m0 29.8h0m0 13.4h0m0 1.6h0m.1-49.3h0m0 12.9h0m.1-16.5h0m0 21h0m.2 17.6h0m.1-36.7h0m0 9.1h0m0 12.2h0m.1 6.1h0m0 1.7h0m.2-16.3h0m0 15h0m0 3.5h0m.1-21.9h0m0 3.4h0m0 2.2h0m0 11.4h0m0 19h0m.1-21.3h0m0 2.1h0m.1-2.9h0m0 7.3h0m.1-17.3h0m0 9h0m.2-14.6h0m0 18.5h0m.1-25.8h0m0 47h0m.1-27.5h0m0 1.6h0m0 11.5h0m.1-30.8h0m0 23.4h0m0 19.1h0m.2-42.5h0m0 8.1h0m0 21.9h0m0 5.9h0m0 8.5h0m.1-42h0m0 31h0m.1-36.3h0m0 29h0m0 14.7h0m.1-38.3h0m0 5.4h0m0 18.2h0m0 18.4h0m.2-47.8h0m0 .2h0m0 5.4h0m0 23.3h0m.1-24.2h0m0 9.4h0m0 1h0m0 1.6h0m0 .2h0m0 1h0m0 5.9h0m0 .7h0m.1-11.2h0m0 10h0m0 .7h0m.1 10.5h0m.2-24.5h0m0 2.2h0m0 19.3h0m0 1h0m0 17.6h0m.1-50.2h0m0 14.6h0m0 24.7h0m0 1.6h0m.1-39.4h0m0 19.8h0m0 18.2h0m.1-25.3h0m0 28.6h0m.1-30.9h0m0 2.1h0m0 9.4h0m0 9h0m.1-31h0m0 24.4h0m0 28.2h0m.1-49.1h0m0 48h0m.1-48.2h0m0 22.5h0m.1-18.1h0m0 29.2h0m.1-13.2h0m0 1.9h0m0 7.8h0m.1-13.8h0m.1-7.8h0m0 5.7h0m0 24.7h0m0 7.1h0m.1-50.9h0m0 8.6h0m0 19h0m0 .5h0m0 4.8h0m0 15h0m.1-37.8h0m.1-7.8h0m.1 13.3h0m0 10.7h0m.1-16.6h0m0 21.3h0m.1-22.4h0m0 .8h0m0 3.9h0m0 21.5h0m.1 3.8h0m0 6.8h0m0 5h0m.1-44.8h0m0 1h0m0 17.5h0m0 23h0m.1-35.2h0m.2 15.4h0m.1-15.6h0m0 5.7h0m0 13.7h0m0 7.5h0m0 13.2h0m.1-15.3h0m.1-30.6h0m0 33.7h0m.1-4.1h0m0 13.7h0m.1-40.5h0m0 8.8h0m0 26.6h0m.1-35h0m0 14.8h0m0 3.4h0m0 16.9h0m0 7h0m0 5.1h0m.1-19.6h0m.1-26h0m.1-7.3h0m0 7.8h0m0 3.6h0m0 .4h0m0 23.1h0m0 8.2h0m0 3.9h0m.1-49.7h0m.1-.4h0m0 10h0m0 1.1h0m.1-10.2h0m0 18.5h0m0 6.7h0m0 7.6h0m0 2.3h0m0 13.7h0m.1-37.7h0m.1 9.7h0m0 3.1h0m0 2.8h0m0 2h0m.3-13h0m0 23.3h0m0 7.4h0m.2-29.8h0m0 11.4h0m.1-16.9h0m0 15.6h0m.1 4.9h0m.1-14.5h0m0 12.2h0m0 3.4h0m.1-32.6h0m0 30h0m0 4.8h0m.2-28.6h0m0 2.1h0m0 19h0m0 7h0m0 .3h0m0 5.1h0m.1 .6h0m.2-40.5h0m.1 .5h0m0 4.8h0m0 1.5h0m0 5h0m0 .7h0m0 18.8h0m0 21.5h0m.1-36.7h0m.1 1.9h0m.1 25h0m.1-29.1h0m0 14.4h0m0 8.2h0m0 10.2h0m0 4.5h0m.1-30.4h0m0 1.1h0m0 .4h0m0 7.6h0m0 7.9h0m0 13.1h0m.1-40.5h0m0 2.9h0m0 14.5h0m0 6.9h0m0 12.9h0m.1-32h0m.2 5.9h0m.1-2h0m0 3.9h0m0 6.9h0m.1-24h0m0 7.2h0m0 16.4h0m.1-19h0m0 15.1h0m.1-22.1h0m0 3.7h0m0 2.9h0m0 34.5h0m.1-15.8h0m.1-25.6h0m0 15.5h0m0 33.7h0m.2-51.9h0m0 12h0m0 .7h0m0 .7h0m.1 9.7h0m.1-22.1h0m0 .6h0m0 36.8h0m.1-13.1h0m0 17.4h0m.1-36.4h0m0 6.1h0m0 4.4h0m0 3.6h0m0 9.3h0m0 10.7h0m.1-37.1h0m0 1h0m0 2h0m0 3h0m0 9h0m0 4.2h0m0 2.6h0m0 19.8h0m0 .3h0m.1-40.3h0m0 15.5h0m.1-14.6h0m0 7.7h0m0 12.5h0m.1-6.8h0m0 13.8h0m.1-33.3h0m0 5.2h0m0 30.6h0m.1 15.7h0m.1-42.2h0m0 1.1h0m0 5.5h0m0 8.6h0m0 17.3h0m.1-37.7h0m0 14.7h0m.1 .3h0m0 3.1h0m0 .6h0m.1-11h0m0 22.8h0m0 2.9h0m.1-29.4h0m0 48.6h0m.1-32h0m0 8.3h0m0 6.4h0m0 7.6h0m.1-32.9h0m0 8.3h0m0 .6h0m0 32.4h0m.2-31.1h0m0 11.2h0m0 18.5h0m.1-50.8h0m0 4.6h0m.1-7.1h0m0 21.9h0m0 8.8h0m0 9.3h0m.2-36.3h0m0 1h0m0 38.9h0m.1-37.8h0m0 3.9h0m0 7.3h0m0 14.8h0m0 9.6h0m.1-25.7h0m.1 1.5h0m0 13.4h0m0 .6h0m0 11.4h0m.1-33.3h0m0 14.4h0m.1-24.6h0m0 34.5h0m0 7.9h0m.1-17.2h0m0 4h0m.1 22.4h0m.1-41.1h0m0 29.1h0m0 9.4h0m.1-31.3h0m0 9.4h0m0 9.6h0m.1-32.4h0m0 .6h0m0 26.9h0m.1-32.8h0m0 1.6h0m0 20.4h0m0 3.9h0m0 .7h0m0 2.8h0m.1-16.8h0m.1-11.2h0m0 4h0m.1-3.9h0m0 18.3h0m.1-5.4h0m0 4.1h0m0 6.3h0m.1-22h0m0 9.2h0m.1 20.3h0m.1-31.7h0m0 28h0m0 9.2h0m.1-15.6h0m0 55h0m.1-76.9h0m0 3.1h0m0 .2h0m0 9h0m0 8.9h0m0 11.4h0m.1-8.6h0m.1-7h0m.1 1.8h0m.1-19.4h0m0 20.6h0m.3 .7h0m.1-16.6h0m0 .1h0m.1-5.5h0m0 22.7h0m0 11.1h0m0 14.5h0m.1-30.8h0m.1 13.7h0m.1-21.5h0m.2 1.2h0m.1 11h0m.1 2.7h0m0 .8h0m.2-9.1h0m0 10.3h0m.4-16.8h0m0 10.1h0m0 15.3h0m.1-1.9h0m.1-6.4h0m.1-10.9h0m.1-13.5h0m0 25h0m.1-19.3h0m0 11.2h0m0 6.5h0m0 22.7h0m.1-18.6h0m.4-15.4h0m.1-6.2h0m0 1h0m0 20.3h0m.2-19.9h0m.1 .7h0m.3-8.8h0m.1 22h0m.1-6.4h0m0 .7h0m.1-13.5h0m0 23.1h0m.1-21.9h0m.1 49.7h0m.2-39.3h0m0 9.9h0m0 6.8h0m.1-18.4h0m0 1.5h0m.1-3.4h0m.1 10.9h0m.1-9.8h0m.3 .6h0m0 11.5h0m0 14.4h0m.5-21.7h0m.2-3.6h0m0 14.4h0m.1-14.7h0m.1-11.5h0m.1 8.3h0m.6 22.6h0m.1-32.4h0m.3 10.4h0m.2 28.2h0m.1-29.2h0m.2-1.8h0m.1 3.2h0m.3-3.9h0m.3 4.2h0m.3 36.1h0m.5-22.3h0m.2-8.6h0m1.1 13.4h0m.1-25.5h0m0 5.4h0m0 24.3h0m.1-14.5h0m2.9-7.2h0m4.8-14.4h0m7.2 33h0m27.1 43.3h0m3.9-59.8h0m.7 53.8h0m1.2-40.1h0m1.9 41.6h0m4.6-11.7h0" fill="none" stroke="#f9aaa8" stroke-width="1.5" stroke-linecap="round"/>
<path d="M435.9 77.6h0m0 1.4h0m.6-5.7h0m.8 7.6h0m.1-.8h0m.1-36.4h0m0 34.2h0m.1 4.8h0m.1-3.5h0m.1 4.1h0m.5-11h0m.3 8.5h0m.2 7.5h0m.1-15.3h0m.1 15.3h0m.1-5.6h0m0 5h0m.2-2.7h0m.1 1.3h0m.1-13.9h0m0 12.8h0m.1-.5h0m0 .2h0m.1 .6h0m0 .5h0m.7 2.1h0m.1 1.6h0m.2-10.5h0m0 3.2h0m.1-1h0m.2 6.4h0m.1-8.9h0m0 11.9h0m.1-14.3h0m.4 10.9h0m.1 2.8h0m.1-9h0m.1 7.5h0m.1-10.8h0m0 .9h0m0 13.2h0m.2-8.1h0m0 1.5h0m0 .2h0m0 .5h0m.2-14.6h0m0 18.9h0m.3-2.4h0m0 5.5h0m.1-10.2h0m.1-9.6h0m0 1.3h0m0 18.4h0m.3-5h0m.1-18h0m0 6.7h0m0 16.8h0m.1-8.7h0m.2 5.4h0m.1 2.2h0m.4-13.4h0m.3 15.1h0m.1-19.1h0m.2 7.2h0m.1-9.5h0m0 5.6h0m0 1h0m.1 2.9h0m.1 11.7h0m.1-3.1h0m.1-10.1h0m0 7.5h0m.1-6.5h0m.3-6.3h0m.1 15.3h0m0 4.3h0m.4-18.9h0m0 17.9h0m.5-9.2h0m.1-2.9h0m.1-7.3h0m.1 9h0m.4 7.8h0m.1-8.2h0m.2 10.3h0m.3-23.5h0m0 12.1h0m.1-4.2h0m0 7.8h0m0 3.8h0m0 1.6h0m.1-1.9h0m0 6.4h0m.1-6.8h0m.1 4.5h0m.2-2h0m.1-14h0m0 11.2h0m0 5.6h0m.1-25h0m0 11.2h0m0 5.2h0m0 6.8h0m.1-9.7h0m.4 3.7h0m.1-15h0m0 15.7h0m0 3.1h0m.1-13.8h0m.1-1.6h0m.2 16.5h0m0 6.7h0m0 .9h0m.1-16h0m0 8.4h0m.1-3.1h0m.1 0h0m.2-5h0m0 3.4h0m0 7.6h0m.2 4.1h0m.1-23h0m0 21.1h0m.1-23.5h0m0 16h0m0 5.5h0m.1-4.9h0m0 1h0m.1-1.6h0m0 6.9h0m.3-14.2h0m0 15.5h0m0 3h0m.1-11.9h0m.1-14h0m0 3.6h0m0 4.2h0m.2-.6h0m0 13h0m.1 5.4h0m.1-.5h0m0 .6h0m.2-16.4h0m.1-23.6h0m0 22.4h0m.1 11.2h0m.1 .4h0m.1-13.3h0m0 3.8h0m.2 8.3h0m.1 5.7h0m.2-8.8h0m.2 5h0m0 4h0m.3-2.8h0m.1-15.8h0m.1 2.5h0m.1-5.7h0m0 15.1h0m0 1h0m.1-5.4h0m0 6.4h0m.2-12.4h0m0 15.3h0m.2-9.5h0m.1-4.5h0m0 7.4h0m.1-.2h0m.1-10.9h0m0 4.8h0m0 12h0m.1-22.9h0m0 10.5h0m0 12.8h0m0 .7h0m0 .7h0m.2-10h0m.1-13h0m.1 16.5h0m.2-9.5h0m0 18.5h0m.1-27h0m0 25.1h0m.1-25.6h0m0 7.9h0m.1-6h0m0 19.4h0m0 4.8h0m.1-13h0m.1 15h0m.1-8.6h0m.1-8.7h0m0 10.9h0m0 3.7h0m.1-6.8h0m.1-11.5h0m0 8.9h0m.1-2.8h0m.2-11.7h0m.1 1.3h0m0 1.7h0m.3 24h0m.1-14.4h0m0 1.5h0m0 .7h0m0 4.6h0m.1-2h0m.2-11.1h0m0 9.7h0m.2 2.2h0m0 1.5h0m0 1.7h0m.1-3.8h0m.1 3.6h0m.1-16.6h0m.2 2h0m0 8h0m.1-1.5h0m.1-7h0m0 8.9h0m0 12.5h0m.1-11.5h0m.1-13.8h0m0 2.4h0m.1 .4h0m0 14.3h0m.2-8.9h0m0 9.4h0m.1-3.5h0m.1-12.6h0m0 3.6h0m.1 8.7h0m.1 1.1h0m.3-17.3h0m0 13h0m0 12.5h0m.1-10.7h0m.2-4.9h0m0 13.8h0m.1-12.3h0m0 2.5h0m0 11.4h0m.1-11.9h0m.1-14.4h0m.2 21.8h0m.1-16.4h0m0 6h0m.1 2.4h0m.1-2h0m.1 10.9h0m.1-16.9h0m0 9h0m.1-3h0m0 7.8h0m.1-9.1h0m0 12.5h0m.1-22.2h0m.1-.5h0m0 9.9h0m.1-3.9h0m0 20.6h0m.3-15.4h0m0 7.5h0m0 9.3h0m.2-16.3h0m0 10.2h0m.1-6.5h0m0 7.3h0m.2-16.5h0m0 .6h0m.1-.2h0m0 5.6h0m.2-1.7h0m0 11.5h0m.2-21h0m0 .3h0m0 7.6h0m.2 17.6h0m.3-19.7h0m0 14.4h0m.1-4.1h0m0 8.8h0m.1-14.5h0m.2-7.7h0m0 10.3h0m0 7.5h0m.1-16.9h0m0 23h0m.1-30.9h0m.1 15.5h0m0 6.8h0m.1-16.5h0m0 .4h0m0 10.8h0m0 .1h0m0 .6h0m0 5.6h0m.1-18.3h0m.1 21.1h0m.2-7.7h0m0 4.1h0m0 1.5h0m.2 3.7h0m.1-3.5h0m.1-17h0m0 5.6h0m.1-3.2h0m0 11.7h0m0 3.2h0m0 4.2h0m.1-21h0m0 8.7h0m.1 7.6h0m.1-1.9h0m.1-9.4h0m0 3.6h0m.1-5.5h0m0 3.7h0m0 9.5h0m.2-11h0m.1-19.4h0m0 16.9h0m0 18.9h0m.1-14.6h0m0 13.8h0m.1-21.7h0m0 14.9h0m.2-.8h0m.1-15.5h0m0 18h0m0 2h0m0 1.3h0m0 5.2h0m.1-18.2h0m0 .1h0m0 14.8h0m.1-17.4h0m0 2.5h0m0 12.4h0m.1-12.5h0m0 19.7h0m.1-17.1h0m.1-6.2h0m.1 14.5h0m0 .1h0m.1-6.3h0m0 8.4h0m.1-10.6h0m0 15.1h0m.1-7.5h0m0 3.6h0m.1-20.4h0m0 20.4h0m.1-13.6h0m0 12.9h0m.1-8.1h0m0 6.8h0m.1-5.1h0m.1 5.9h0m0 6.9h0m.1-28.4h0m0 21h0m0 1.1h0m0 4.2h0m.1-.5h0m.2-27.5h0m.1 26.7h0m.1-11.1h0m0 6.9h0m.2-15.5h0m.1 11.6h0m0 4.2h0m.1-14.5h0m0 5.5h0m0 3.1h0m.1 7.4h0m.1 3.3h0m.1-19.8h0m0 13.6h0m0 5.4h0m.2-16.9h0m0 4.9h0m.1 .4h0m.1-3.9h0m.1-11.1h0m0 1.5h0m0 .2h0m0 9.1h0m0 .6h0m0 16.3h0m.2-13.1h0m0 .2h0m0 5.5h0m0 3.7h0m.1-14h0m.1-5.7h0m.1 .1h0m0 11.2h0m0 8.7h0m.1-22.2h0m.1-.3h0m.2 8.8h0m.1 12h0m.1-27h0m0 9.6h0m.2 8.3h0m0 8.8h0m0 1.3h0m.1 2.5h0m0 4h0m.1-9.1h0m.1-18.3h0m0 1.2h0m0 4.9h0m0 1.1h0m.2-1.8h0m0 .7h0m0 13.8h0m.1-11.7h0m0 16.9h0m.2-12.4h0m.2-4.1h0m.1-3.1h0m.2-8.8h0m0 23.5h0m.1-16.4h0m0 2.3h0m0 7.3h0m.1-2.5h0m.1-5h0m0 18.9h0m.1-12.8h0m0 16.1h0m.4-28.8h0m0 14.1h0m0 12.5h0m.1-8h0m0 7.4h0m0 .8h0m.1-19.3h0m0 .4h0m0 1.4h0m.1-12.7h0m0 12.9h0m.3 8.8h0m.2-12.5h0m.1 3.1h0m.1-2.9h0m0 2h0m.1 7.1h0m.1-11.8h0m0 25.4h0m.2-26.2h0m.1 24.5h0m.1-22.2h0m.1-3.8h0m0 2.9h0m0 7h0m.1-33h0m0 24.9h0m.1-3.5h0m0 4.1h0m0 4.7h0m0 10.1h0m0 5h0m0 3.7h0m.1-15.8h0m0 8.6h0m.1 1.9h0m.1 5.6h0m.2-19.8h0m.1 12h0m0 4.1h0m.2-17.4h0m0 12.2h0m.1-10.2h0m0 15.2h0m0 4.3h0m.1-20.6h0m.1 3.2h0m.1 10.6h0m.2-6.3h0m0 5.2h0m0 7.6h0m.1 1.3h0m.1-18.4h0m0 18.5h0m.1-25h0m.1 5.5h0m.1 8.3h0m.1-18.7h0m0 17h0m.2-9.5h0m0 1.3h0m.1 18.7h0m.1-17.5h0m.2 4.3h0m0 15.8h0m.3-2.4h0m.1-10.9h0m.1-69.5h0m0 58.6h0m0 17.5h0m.1 .5h0m.1-11.5h0m.1 .9h0m0 .7h0m.1 9.7h0m0 2.7h0m.2-10.9h0m.1-10.4h0m0 6.2h0m.1-1.6h0m.1-4.3h0m.1 6.1h0m0 2.2h0m0 7.9h0m.1-12.8h0m.2 13.5h0m.1-20.1h0m.2 16.8h0m.1-12.4h0m0 22h0m0 1.5h0m.3-21.3h0m0 20.1h0m.1-18.1h0m0 13.7h0m.1-14.4h0m.1 8.6h0m.2 5.3h0m.1-11.6h0m.1-1.7h0m0 3.9h0m0 6.3h0m0 .7h0m.1-2.9h0m0 2.6h0m.1-10h0m.2-10.4h0m0 2.3h0m0 22.4h0m.2-16.5h0m.1 7.7h0m.2 8.5h0m.1-21.8h0m.2 7.2h0m0 16.7h0m0 1.6h0m0 .5h0m.1-28h0m.1 4.5h0m0 18.7h0m.1-8.9h0m.1-6.6h0m.1 .6h0m0 6.6h0m.4-7h0m0 14.7h0m0 3.7h0m0 2.4h0m.2-24.6h0m.1 .8h0m0 2.5h0m0 8.5h0m0 4.4h0m.1-8.6h0m.2 2.2h0m0 3.1h0m0 7.9h0m.1-8.8h0m.1-5.5h0m0 5.5h0m0 9.6h0m.2-13.7h0m.1 4.9h0m.1-10.1h0m0 9.4h0m0 6.9h0m.1-14.1h0m0 12.4h0m0 3h0m.2-4.5h0m.2-3.7h0m.1-1.7h0m.1-4.3h0m0 2.4h0m.1-.3h0m0 8.4h0m.1-3.5h0m0 2.2h0m0 6.6h0m.1-4.8h0m.3-2.9h0m0 7h0m.3 .8h0m.1-8h0m0 1.5h0m0 3.1h0m.1-4.7h0m.1 4.4h0m0 2.1h0m0 3.2h0m.1-13.8h0m.3-3.6h0m.1 8.3h0m0 3.7h0m.2 2.2h0m.1 2.5h0m.1-19.5h0m.1 8.4h0m0 2h0m0 7.4h0m.1-15.5h0m.1-1.5h0m0 17.3h0m0 .1h0m.1-11.7h0m0 .7h0m.1-11.1h0m0 .3h0m.1 6.7h0m0 4.7h0m.2-5.6h0m0 13.8h0m0 3.3h0m.6-18.4h0m.2 17.2h0m0 1.6h0m.2-8.6h0m0 8.3h0m.1-4.5h0m.1-.9h0m.1 4.3h0m.2-9.2h0m.1-3.2h0m0 .5h0m0 1.9h0m0 .6h0m0 7.4h0m.1-9.2h0m.1-.8h0m0 6.7h0m.2 6.7h0m.1-19.9h0m.1 2.1h0m.1 6.1h0m.1 5.7h0m0 1h0m.4-8.2h0m.2-4h0m0 7.6h0m0 .8h0m.2 5.8h0m.2-8.6h0m.1-10.1h0m.4 12.9h0m0 8.4h0m.5-8.7h0m0 5.3h0m.1-1.5h0m.4-6h0m0 2.5h0m.2-7.7h0m.1-3.1h0m.1-20.7h0m0 33h0m0 2.6h0m.1 1h0m.3-2.1h0m.1-12.3h0m.1 9.2h0m0 7.4h0m.1-2h0m.1-.8h0m.1-7.3h0m.3-11h0m.1 16.4h0m.2 2.2h0m.1-2.2h0m.2-11.9h0m0 1.3h0m0 12.2h0m.1-7.3h0m.1 8.8h0m.1-5.6h0m.1-4.3h0m.4-48.4h0m0 53.8h0m.3-6.7h0m.1 1.1h0m.5 5.4h0m.4 1.5h0m.1 2.8h0m.2-9h0m.2-2.8h0m.1 .6h0m0 4.4h0m0 2.9h0m.2-.3h0m.1-.3h0m.4-74.7h0m0 67.7h0m0 10.6h0m.1-4.8h0m0 2.4h0m.1-8.1h0m1.2 10.5h0m1.6-1.1h0m.5 .4h0m.1-35.4h0m0 29.2h0m.4 1h0m.1 2.5h0m.9 .6h0m2.8 2.9h0m2.7-16.8h0m1.3-53.1h0m6.1 44.6h0m2.3 14.2h0m5 7.3h0m5.5-7.2h0m10.1-23.3h0m.4-2.3h0m5.4 18.8h0m3.2-46.3h0m0 2.1h0" fill="none" stroke="#f4837c" stroke-width="1.5" stroke-linecap="round"/>
<path d="M445.7 36h0m5-3.3h0m3.9 2.8h0m1.9 8.1h0m3.5-15.7h0m13.3 18.6h0m13.7 30.4h0m5.9 0h0m.6-2.6h0m.1 12.6h0m.4 10h0m.3-18.6h0m.3 1.2h0m0 10.6h0m0 7.4h0m.8-11.2h0m.2 7.5h0m.1-18.2h0m.4-12.5h0m.4 20.6h0m.5-4.5h0m.1 2.4h0m.1 1.1h0m0 2.5h0m.3-6h0m.2 3.8h0m.4-4.3h0m.3-2.8h0m0 2h0m.1 17.8h0m.5-15.4h0m.1 6.6h0m.1-1.1h0m.4-12h0m.2 5h0m0 16.9h0m0 1.7h0m.1-12.6h0m.2-17.9h0m0 30.8h0m.2-3.5h0m.1-15.5h0m0 6.4h0m0 3.3h0m.1 4.8h0m0 3.8h0m.1-13.7h0m.2-16.3h0m0 26.4h0m.3-10.2h0m0 14.7h0m.1-10.9h0m.1-1.7h0m.1-4.2h0m.2 2h0m0 13.4h0m.1-8.2h0m.1-7.7h0m.1 3h0m.2-4.4h0m0 8h0m.1 8.8h0m.2-14.6h0m.1-2.5h0m.1 13.5h0m.1 1.6h0m0 3.5h0m.1-3.1h0m.1-14.7h0m0 5.3h0m0 4.7h0m.2 2.8h0m0 2.4h0m.1-17.4h0m.2 6h0m.2 15.2h0m.3-13.7h0m.1 7.2h0m.4-14.8h0m.1 20.2h0m.1-8.1h0m0 .7h0m.1-11.6h0m0 6.3h0m.4-7.6h0m0 5.4h0m.1 5.2h0m0 5.7h0m.2-15.3h0m.1 19.1h0m.5-19.6h0m0 4.4h0m0 7.3h0m.1 2h0m.1-7.9h0m0 .2h0m.1 9h0m.1-14.6h0m0 2.2h0m0 .7h0m0 12.9h0m.2-1.4h0m.4-15.4h0m0 12h0m.1 3.8h0m.1-10.6h0m0 2.9h0m.3-17.6h0m0 9.3h0m0 12.6h0m0 9.2h0m.1-23.5h0m0 3.2h0m.1-8.6h0m.1 7.1h0m0 4.9h0m.1-9.5h0m0 17.2h0m0 7.7h0m.1-35.1h0m0 16.6h0m0 14.8h0m.1-17.4h0m0 5.4h0m0 8h0m0 3.8h0m.1 .9h0m.1-26.7h0m0 4.3h0m.1 14.5h0m0 3.4h0m.1-11h0m.1-11.3h0m0 7.5h0m0 14.6h0m0 9.2h0m.1-24.3h0m.1-4.5h0m0 19.2h0m.1-4.1h0m.2 7.1h0m.1-8h0m.1 2.3h0m0 7.3h0m.1-18h0m0 11.4h0m.2-4.2h0m0 10.9h0m.1-15.2h0m0 9h0m.2-10.9h0m.2 19.5h0m0 1.3h0m.2-9.8h0m.1 3.1h0m.2-6.4h0m.3-10.8h0m.1 17.8h0m.2-5.5h0m0 3.6h0m.1 4.8h0m.1-23.6h0m0 7.5h0m.1 3.6h0m0 2h0m.1-13.1h0m0 13.4h0m.2-13.2h0m0 10.7h0m0 5.1h0m.1 10.6h0m.1-24.6h0m0 3.3h0m.2 12h0m.1 .1h0m0 2.8h0m0 4.4h0m.1-23.1h0m0 2.6h0m0 6.7h0m.1 4.4h0m.1-7.1h0m0 9h0m0 3.5h0m.1-7.3h0m0 3.8h0m.2-20.1h0m.1 16.5h0m0 13.1h0m.1-23.6h0m0 16.7h0m.2-24.9h0m0 30h0m.1-17.9h0m0 16h0m.2-15.2h0m0 3.7h0m0 9.9h0m0 .9h0m0 2.5h0m.1-5h0m.2-4.9h0m.1 .9h0m0 4.9h0m.1-20.3h0m0 22.6h0m.2-26.5h0m0 18.1h0m.2-2.3h0m0 10.5h0m.1 2.4h0m.1-11.9h0m0 .7h0m.1-12.2h0m0 13.1h0m.1-18.6h0m0 26.2h0m.2-23.7h0m0 20.1h0m0 1.7h0m.1-20.7h0m0 13.4h0m0 5.2h0m.1-19.9h0m0 21.5h0m0 1.9h0m.2-8h0m.1-20.5h0m0 15.5h0m0 17.5h0m.1-33.2h0m.2 27h0m.1-1.2h0m.2 3h0m0 1h0m0 5.1h0m.1-32.6h0m0 27.8h0m.2-34h0m0 7h0m.2 25.2h0m.1-2.9h0m0 9h0m.1-21.1h0m0 2.2h0m0 6.1h0m0 .4h0m.1 4.6h0m.2-17.7h0m0 11.9h0m.1-24.8h0m0 21.5h0m0 0h0m.1-10.1h0m0 .8h0m.1-2.7h0m.1 17.5h0m.1-21.1h0m0 11.9h0m.1-9.5h0m0 .3h0m0 12.9h0m.1 1.9h0m0 3.1h0m.1-24.1h0m0 1.8h0m0 6.6h0m0 1.4h0m0 .8h0m.1 6.4h0m.1-1.8h0m.1-4.8h0m0 3h0m0 .7h0m0 12.6h0m.1-18h0m0 7.7h0m0 12.5h0m.1-20.4h0m0 5.6h0m.2 1.2h0m.1-7.3h0m0 23.1h0m.1-17.9h0m0 14.4h0m.1-12.7h0m.1-3h0m.1 7.6h0m0 8.2h0m0 8.6h0m.1-29.7h0m0 7.1h0m0 12h0m.3-13.4h0m.1-14.9h0m0 16.4h0m0 1.8h0m.1-14.7h0m.2-3.1h0m0 6h0m0 15.5h0m0 3.3h0m0 4.6h0m.1-8.8h0m.1-21.9h0m.1 17.9h0m0 17.9h0m.1-28.3h0m.1 8h0m0 4h0m.1-6.4h0m0 1.4h0m0 23.4h0m.1-6.4h0m.1-19.6h0m0 6.4h0m0 10.4h0m.1 5.2h0m0 3.3h0m.2-9.9h0m0 7.9h0m.1-19.2h0m.1 22.9h0m.1-1.7h0m.1-27.2h0m.1 18.8h0m0 .1h0m.1 1.2h0m0 1.9h0m.1-21.1h0m0 10.2h0m.1-14.5h0m0 4h0m0 22.6h0m.1-8.2h0m.1 5.5h0m0 5.3h0m.1-24h0m0 .9h0m0 15.6h0m0 2.8h0m.1-11.9h0m.2-2.3h0m.1 18.1h0m.1-21.1h0m0 .3h0m0 9.8h0m.1 9h0m.1-3h0m.1 8.1h0m.1-1.7h0m.2-26.6h0m0 11.5h0m.1-5h0m0 6.5h0m.2 1.4h0m.1-8.2h0m.1 12.3h0m.1-20.3h0m0 5.6h0m.2-13.1h0m.2 6.4h0m0 24.1h0m0 .4h0m.2-20.8h0m0 3h0m0 18.2h0m0 .1h0m.1-36.7h0m.1 12.1h0m0 31.2h0m.1-18.2h0m0 13.5h0m.2-19.7h0m.1 9.8h0m.1-5.2h0m.2-10.7h0m0 5.4h0m0 .5h0m0 2h0m0 18.7h0m.1-14.8h0m.1-3.7h0m.1-10.6h0m0 14.3h0m.1-10.2h0m0 5.2h0m0 4.1h0m.2 14.7h0m.1-10.1h0m.1-14.7h0m0 8.1h0m0 12.8h0m.1-16.3h0m0 20.5h0m.1-11h0m.1-7.5h0m.2 3.6h0m.1 1.8h0m0 1.7h0m0 10.3h0m.2-27.8h0m0 6.8h0m0 2.8h0m0 23.9h0m.2-17.8h0m0 6.4h0m.1-23h0m0 2.8h0m0 1h0m0 18.6h0m0 .5h0m.1-13.9h0m0 5.1h0m0 19h0m.1-22h0m0 3.1h0m0 10.6h0m0 6.6h0m.1-11.5h0m0 5h0m.1-11.3h0m0 16.4h0m0 2.5h0m.1-29.2h0m0 8.8h0m0 2.8h0m0 11.4h0m.2-.3h0m0 6.1h0m.1-11.3h0m.1-16.5h0m0 .5h0m0 14.7h0m0 13.9h0m.1-24.5h0m0 6h0m0 11.6h0m0 7.2h0m.1-23.7h0m.1 16.2h0m.2-24.9h0m0 7.1h0m0 2.7h0m0 .9h0m0 20h0m.1-22.6h0m0 14h0m0 5.6h0m.1-9.9h0m.1 .3h0m0 15.3h0m.4-27.5h0m0 2.4h0m0 12.9h0m.1 .7h0m.1-16.2h0m.1-7.5h0m0 12.2h0m0 6h0m.1-.2h0m0 9.1h0m0 2.7h0m.2-22.6h0m.1 7.8h0m0 .7h0m0 2.7h0m.1-10h0m0 5.8h0m.1-.4h0m.1 13.5h0m.1-11.9h0m0 4.4h0m.1-11.1h0m0 3h0m0 7.7h0m0 8.5h0m.2-21.1h0m0 18.9h0m0 6.4h0m0 1.6h0m.3-4.8h0m.1-5.4h0m.1-17.5h0m.1 17.6h0m0 7.7h0m.1-20.5h0m.1 22.7h0m.1-23.2h0m0 5.8h0m.1-11.1h0m0 .3h0m0 5.7h0m.1 10.8h0m.1 4.3h0m0 1.2h0m0 .1h0m.3-22.5h0m0 14.5h0m.2-14.7h0m.1-.1h0m0 11.1h0m0 14.8h0m.1-19.6h0m.1-8.6h0m0 16.2h0m.2 .7h0m.2-16.1h0m0 22.5h0m0 4.6h0m.1 1.6h0m.1-20.7h0m.1-7.9h0m.2-.7h0m.2 22.4h0m0 4h0m0 1.3h0m.1-15.4h0m0 16.5h0m.1-28.9h0m.4 4.6h0m0 8.5h0m0 8.2h0m0 2.9h0m.1 2.9h0m.2-18.9h0m.1 14.6h0m.1-14.9h0m.1 13h0m.1-13.8h0m0 .2h0m.2-1.5h0m.1 7.1h0m0 6.6h0m0 6.3h0m.2-8.4h0m.1-18.5h0m0 6.3h0m0 7.2h0m.1-7.2h0m0 11.2h0m.1 .6h0m.2-2.2h0m.1 3.5h0m.1 3.3h0m0 1h0m0 5.1h0m.1-29.1h0m0 12h0m0 6.5h0m0 6.3h0m.1 .1h0m.1-25.4h0m0 16.2h0m.1-8h0m0 .8h0m0 9.2h0m.3 8.5h0m.4-24h0m0 17h0m.1-19.1h0m0 5.7h0m0 6.4h0m0 4.3h0m.1 9.6h0m.1-7.1h0m.1-7.7h0m.3-5.9h0m0 4.1h0m.1-3.9h0m.2 23.4h0m.2-24.6h0m0 10.6h0m0 1.5h0m0 6.9h0m.2-15.5h0m0 3h0m0 3.5h0m.2 3.2h0m0 9.3h0m.3-20.4h0m0 7.3h0m.1-12.2h0m0 18.1h0m0 2.1h0m0 2.9h0m.2-16.5h0m0 1.6h0m.1 6.7h0m0 8.5h0m.1-27.1h0m0 6.1h0m0 1.4h0m.2 19.5h0m.2-1.9h0m.1-10h0m.1-5.2h0m.1-5.5h0m0 23.4h0m.1-5.3h0m.1-12.8h0m.1-2.9h0m.1 10.7h0m.1 2.4h0m.1 4.5h0m0 .7h0m0 3.3h0m.3-5.5h0m.2-23.4h0m0 19.4h0m0 10.4h0m.1-2.2h0m.1-20.8h0m0 6.1h0m.2-9.3h0m0 16.7h0m.4 8h0m.3-14h0m0 13.4h0m.1-8.5h0m0 7.7h0m.1-3.8h0m0 4.1h0m.3-9.6h0m.1 3.3h0m0 7.3h0m.1-23.4h0m.1 22.4h0m0 1h0m.1-.2h0m.1-.1h0m.1-15.3h0m0 .3h0m.1-3.9h0m0 4.1h0m.1 9.4h0m.1-9.1h0m.1-14.3h0m0 26.1h0m.1-4h0m0 1.3h0m.1-20.2h0m.1 12.3h0m.1 11.2h0m.2-5.4h0m0 7.1h0m.1-16.7h0m0 11.5h0m.4-3h0m.3-21h0m.1 26.8h0m.1-13.8h0m.3-1.5h0m0 5.3h0m.1 10.3h0m.2-24.8h0m.1 10.3h0m.2 11.4h0m.1-.9h0m.2-5.8h0m0 1h0m.2 4.2h0m.2-14.6h0m0 1.1h0m.2 10.7h0m.3-.4h0m.2-1.7h0m.2-6.5h0m0 13.7h0m0 .7h0m.3-4.9h0m.1-14.1h0m.2 5.6h0m.1 8h0m.2-10.8h0m.1 14.3h0m.3-9.8h0m0 .6h0m.2 8h0m.2-13.2h0m.2-4.6h0m.4 5.2h0m0 6.3h0m0 2h0m.1 .2h0m.1-8.9h0m.3 12.2h0m.4-15.6h0m.5-.3h0m.1 7.4h0m.1 1.3h0m.4 2h0m.4-3.6h0" fill="none" stroke="#c4def0" stroke-width="1.5" stroke-linecap="round"/>
<path d="M440.4 66.2h0m.6-9.5h0m.2-16.9h0m1.1 27.5h0m2.9-5h0m2.3-31.3h0m5.6 47h0m12.4-23.7h0m6-22.3h0m.2 18.5h0m18.9-20.9h0m2.2 23.9h0m10.7-7.9h0m6.1-10.5h0m.3 5.1h0m.2-4.4h0m.1 1.4h0m.3 14h0m1-16.5h0m.8 11.4h0m0 3.8h0m.3-9.2h0m.8-3.8h0m0 9.8h0m0 1.2h0m.1 2.2h0m.7 .4h0m.4 9.7h0m.2-24.5h0m0 30.7h0m.1-11.2h0m0 35.4h0m.2-52.4h0m.1 20.5h0m.2-24.3h0m.4 3.4h0m0 2.4h0m0 5.4h0m.2-10.1h0m.1 14.9h0m.2 3.2h0m.1-13.5h0m0 5.2h0m.1-1.4h0m0 9.5h0m.1-8.2h0m.6-.3h0m.1-5.3h0m.4-4.3h0m.2 15.8h0m.1-.4h0m.1 0h0m0 3.4h0m.1 5.6h0m0 2.1h0m.3-17.7h0m0 7.1h0m.1-11.1h0m.3-9.4h0m0 18h0m.1 .5h0m.2-3.2h0m.2-4.6h0m0 3.1h0m.1 14.1h0m.1-2.3h0m0 3.3h0m.4-1.1h0m.1-25.1h0m0 9.6h0m.1 .8h0m.1-13.6h0m0 21.4h0m.2 39.1h0m.1-56.3h0m0 10.1h0m0 16.8h0m.1-17.4h0m0 16.5h0m.2-17.1h0m.2 11h0m.1-8.9h0m0 5.5h0m.2-3.9h0m0 4.4h0m0 8.3h0m.1-26.8h0m0 .9h0m0 .4h0m.3 17.5h0m0 4.7h0m.2-20.2h0m.2-3.6h0m0 13.4h0m0 .5h0m0 3.4h0m.1 13.4h0m.1-21.1h0m.1 1.1h0m.1-9.8h0m0 12.8h0m0 1.2h0m0 13.4h0m.2-28.1h0m0 8.1h0m0 16.8h0m.1-7.8h0m0 5.4h0m.3-21h0m0 6.1h0m0 1.5h0m.1 2.5h0m0 .2h0m0 10.7h0m.1-10.5h0m0 12.5h0m.1-25.6h0m.1 21.7h0m.3-24.1h0m0 3.9h0m.1 15.4h0m.2 6.7h0m.1-23.8h0m.1 10.4h0m.1-5.9h0m0 .3h0m.3-6.8h0m0 5.2h0m0 25.6h0m.1-20.4h0m0 4.5h0m0 8.7h0m0 7.3h0m.2-21.6h0m0 .6h0m0 18.1h0m.1-19.6h0m0 19.8h0m.1-6.8h0m0 7.8h0m.1-16.8h0m.3 7.6h0m.1-13.3h0m.1 6.1h0m.1-7.2h0m0 4.3h0m.1-.7h0m0 2.1h0m0 13.4h0m.1-23.8h0m0 20.2h0m0 4.6h0m0 5h0m.3-18.8h0m0 4.8h0m0 .9h0m0 2.4h0m.2-16.3h0m0 25.3h0m0 3.5h0m.1-21.5h0m0 12.7h0m.2-18.8h0m.1-.6h0m.1-4h0m.1 12.3h0m.1-5.6h0m0 21.3h0m.1-12.6h0m.1 2.7h0m.1-14.7h0m0 11.2h0m.2 8.9h0m.2-9.4h0m0 17.3h0m.1-25.4h0m.3 5.6h0m.3-1.7h0m.1-4.9h0m.1 16.1h0m.3 4.4h0m.1-12.4h0m.1 17.2h0m.2-12.7h0m.1-17.2h0m0 13.4h0m0 2.6h0m0 18.1h0m.6-32.6h0m.1 26.7h0m0 1.6h0m.1-13.1h0m.1-3h0m.1-13.6h0m0 10.9h0m.3-11.1h0m0 26.9h0m.1-26.9h0m.2 7.1h0m.1 28.1h0m.2-30.2h0m0 19.2h0m.1 5.2h0m.1-28.3h0m0 13.1h0m.1-3.2h0m0 8.7h0m.1-10.4h0m0 1.9h0m0 2.6h0m.3 23.8h0m.1-25.4h0m0 5.2h0m0 6.5h0m.1-9.8h0m.1 11.6h0m0 3.3h0m.3-.1h0m.1-8.4h0m.2-15.5h0m0 4.8h0m0 12.8h0m.3 5.4h0m0 4.4h0m.1-27.9h0m0 3.1h0m0 23.2h0m.2-13.6h0m.1 15.2h0m.1-29.7h0m.1 2.5h0m.1 6.6h0m.2 4.9h0m.1 9h0m.2-9.1h0m.1 17.5h0m.3-24.6h0m0 19.2h0m.1-28.7h0m0 9.7h0m0 10.7h0m0 .1h0m.1-11h0m0 17.4h0m.2 7.5h0m.2-9.1h0m.3-23.7h0m0 22.5h0m.1-13.4h0m0 11.5h0m0 5.4h0m.1-14.1h0m.2-7h0m0 4.1h0m.1-6.9h0m0 5.9h0m.2 18.8h0m.1-11.3h0m.1 11.7h0m.1-10.3h0m0 12.9h0m.1-25.7h0m0 31.6h0m.1-33.2h0m0 27.2h0m.6-29.4h0m.3 11.9h0m0 13.2h0m.1-20.2h0m.1 9.3h0m0 3.2h0m.2-18h0m0 1.3h0m0 9.8h0m0 9.8h0m.3-20.4h0m0 33h0m.1-24.3h0m.1-7.1h0m0 8.6h0m0 18.7h0m.1-22.7h0m.1 1.1h0m0 11.3h0m0 2.8h0m0 5.8h0m.1-18.7h0m0 20.6h0m.1-3.9h0m.2-15.8h0m0 10.6h0m.1 12.1h0m.1-17.9h0m.1 16.5h0m.1-17.3h0m.3-7.5h0m0 22.5h0m.1-10.5h0m.2-13.1h0m.1 9.8h0m.1-9.1h0m0 27.2h0m.1-14.5h0m0 .9h0m0 13h0m0 4.2h0m.2-21.7h0m0 2.6h0m.1 1.5h0m.3-14.9h0m0 .6h0m0 23.9h0m.1-28h0m0 6.4h0m0 6.8h0m0 3h0m.2 10.4h0m.1-26.8h0m0 11.4h0m.2-9.3h0m.1 13.3h0m.2 .9h0m.2-6.6h0m.1 5.9h0m.2 5h0m.1 37h0m.1-57.1h0m0 29.8h0m.1-18.2h0m0 18.6h0m.1-16.3h0m.1 15.2h0m.1-29.4h0m0 27.6h0m.1-6.1h0m0 6.4h0m.2 1.2h0m.1-26.8h0m0 28.8h0m.7-14.5h0m.3-3.7h0m0 19.4h0m0 3.4h0m.1-25.4h0m.2-1.5h0m0 3.4h0m0 .6h0m.1 11.5h0m.1-11.5h0m0 7.3h0m0 4.5h0m.4-2h0m.1-6.4h0m0 4.2h0m.1-4.4h0m0 2.4h0m.2-.6h0m.2 1h0m0 10.8h0m0 6.1h0m.1-19.9h0m0 .9h0m.2-1.7h0m.1 1.5h0m0 3.6h0m0 5.6h0m0 2h0m0 2h0m.1-18.8h0m.2 7.9h0m0 11.8h0m0 2.7h0m.2-15.9h0m.1 5.8h0m.3-12.9h0m0 14.3h0m0 8.6h0m.1-30h0m.3 1.5h0m.1 19h0m.2-12.6h0m0 19.2h0m.1-10.1h0m.1-14.2h0m0 4.2h0m.2-.5h0m0 13.9h0m.1-12h0m.2 3.4h0m.1 1h0m0 1.3h0m0 .1h0m.1-5.2h0m.1 4.6h0m0 9.5h0m.1-6.2h0m0 2.1h0m0 .1h0m.3 2h0m0 6h0m.1-23.7h0m0 16.7h0m.2-15.9h0m.1 5.4h0m.2 15.7h0m.1-9.8h0m0 1.5h0m.4-6h0m.2 10h0m.1-9.5h0m.1 9.9h0m.2 5.8h0m.1 4.8h0m.4-3.9h0m.5 3.1h0" fill="none" stroke="#9e90f0" stroke-width="1.5" stroke-linecap="round"/>
<path d="M441.9 41h0m4.3 5.3h0m2.6 .4h0m7.4 51.9h0m11.5-3.9h0m1.1-1.5h0m2.4-22.7h0m1.2-19.7h0m.3 23.2h0m1.5-13.9h0m.1 4.3h0m1-1.9h0m.3 9.4h0m.4 1.9h0m.4-15.1h0m.3-3.7h0m0 3.6h0m.1-5.6h0m.3 8.5h0m0 6.6h0m.1-15.4h0m.1 13.5h0m.1-6.9h0m.2-12.6h0m.1 6.9h0m.1 6.6h0m0 9.2h0m.1-12.7h0m0 15.9h0m.1-10.6h0m.1-7.2h0m0 16.4h0m.1-17h0m.2 5.3h0m.4 2h0m.1-3.1h0m0 3.7h0m.2-6.2h0m.2 .7h0m.2-8.2h0m0 22.9h0m.1-13.9h0m0 7.6h0m0 3.1h0m.1-13.8h0m0 1.5h0m0 18.5h0m.1-4.2h0m.4-6.7h0m0 2.2h0m.1-10.4h0m.1 14.6h0m.1-6h0m.1-1.5h0m.1-6.5h0m.5-1.5h0m.1 13.4h0m.2-4.9h0m.4 11.3h0m.1-14.7h0m.1 17.4h0m.4-21h0m.1-5.6h0m0 9.4h0m.1-8h0m0 10.2h0m.1-11.3h0m.1 19h0m.1-5.8h0m0 .1h0m.3-1.5h0m.2 6.1h0m.1-19.4h0m.5 17.2h0m0 1.3h0m.1 21.7h0m.1-38.3h0m.1 17h0m.2-17.9h0m0 10.4h0m.3 11.5h0m.2-4.4h0m.1-11h0m.1-23.1h0m.3 16.1h0m0 5.1h0m0 21.8h0m0 4.5h0m.2-39.5h0m0 6.5h0m.1 30.4h0m.1-28.2h0m0 7.3h0m.2 18.1h0m.1-28.1h0m0 14.6h0m.1 14.9h0m.1-34.8h0m.1 37.6h0m.3-27.8h0m.2 .8h0m.2 1.7h0m.1 11.5h0m.1-17.4h0m0 24.9h0m.2-8.6h0m.2-6.8h0m.1-10.2h0m0 14.5h0m0 9.4h0m0 16.1h0m.1-18.1h0m.2-22.3h0m0 1.7h0m0 9.9h0m0 10h0m.1-7.5h0m0 5.5h0m.1-2.8h0m.1-2.2h0m.2-15.4h0m0 8.1h0m.1-1.6h0m.1 3.8h0m.1 1.1h0m0 3.6h0m0 12.5h0m.2-26.6h0m0 17.4h0m.2-6.7h0m0 18.1h0m.2-16.4h0m.1 1.2h0m.1 6.7h0m.1-22.6h0m0 .6h0m0 11.5h0m0 8.5h0m.1-12.5h0m.1 1.3h0m.1 4.9h0m.1-5.7h0m.2 8.8h0m.2-13.7h0m0 18.6h0m0 2.1h0m.1-4.9h0m.1-3h0m0 8.8h0m.1-5.1h0m.2-31.3h0m0 26.4h0m0 5.1h0m.2-47.6h0m0 19h0m.1 25.9h0m0 4.4h0m0 7.4h0m.1-7.9h0m.1-17.8h0m0 13h0m.2-3.1h0m0 2.4h0m.1-9.7h0m0 1h0m0 3.3h0m0 10.7h0m.2-11.7h0m.1-4.3h0m0 14.6h0m.3-14.1h0m.1 2.3h0m.1-11.8h0m0 18.3h0m0 5.6h0m.1 4.1h0m.2-28.5h0m0 15.6h0m0 6h0m0 1.1h0m.1-6.7h0m.2-19.2h0m.1 22.7h0m.1-30.9h0m.1 20.2h0m0 19.6h0m.2 4.1h0m.1-31.4h0m.1 30h0m0 1.6h0m.3-24.6h0m.1 1.9h0m.1-3.8h0m0 13.3h0m.1-19.3h0m0 11.4h0m.1-.9h0m.1 3.1h0m.1 2.1h0m.2-1.7h0m0 7.5h0m0 14.9h0m.1-34.2h0m0 4.6h0m0 6.4h0m0 24.6h0m.1-39.5h0m0 14.3h0m.1 18.4h0m.1-23.2h0m0 10.6h0m.1-5.6h0m0 4.2h0m.1-19.3h0m0 6.6h0m0 6.1h0m0 10.1h0m.1 1.2h0m0 10.3h0m.1-17.9h0m0 23.9h0m.1-24.1h0m0 4h0m0 8.2h0m.1-23.7h0m0 1.6h0m0 18.8h0m.1-19.3h0m.1-21.4h0m0 31.1h0m0 3.3h0m.1-1.7h0m.2-3.5h0m.1 6.6h0m.1 .1h0m0 2.2h0m.2-13.6h0m0 16.4h0m0 14.2h0m.1-38.8h0m0 3.6h0m.1 8.3h0m.1-2.7h0m.1 0h0m0 13.2h0m.2-7h0m0 1.8h0m0 17.8h0m.2-11.6h0m0 1.6h0m.1-2h0m0 9.9h0m.1-58h0m0 28.9h0m0 3.8h0m.1 4.5h0m0 .6h0m.1 12.2h0m0 26.3h0m.2-32.4h0m.2-13.7h0m0 14.5h0m0 1.5h0m0 4.1h0m0 1.8h0m.2-15.8h0m.1 7.1h0m0 6.6h0m.1-8h0m0 .3h0m.1 15.2h0m.1-15.6h0m0 7.1h0m.3-17h0m.3 29.1h0m.2-24h0m.1 14.1h0m0 1.5h0m0 .5h0m.1-11.9h0m0 .2h0m0 1.2h0m.1 14.6h0m.1-16.1h0m.2 20h0m.1-18.7h0m.1 17.1h0m.3-16.2h0m0 3.8h0m0 2.2h0m.2-.5h0m.1-7.8h0m0 10.4h0m.2-8.6h0m.1-1.4h0m.1 9.1h0m.2 6h0m.1-13.7h0m.1-18.7h0m0 5.3h0m.6 3h0m.4 21.9h0m.2-11.9h0m.1 14.3h0m.2-14.9h0m.3-4.2h0m0 5.2h0m.1-17.2h0m.2 28.2h0m0 3.1h0m.2-21.8h0m0 20.4h0m.1-18.7h0m.2 20.7h0m.4-31.2h0m.3 24.9h0m.3-18.5h0m.3 7.1h0m.2 9.5h0m.1 3.2h0m0 3.4h0m.1-18.8h0m0 .2h0m.2 .8h0m.4 10h0m.3-1.7h0m.1 4.2h0m.1 0h0m.1-12.3h0m.1-2.3h0m0 14.8h0m.1-28.1h0m.7 9.7h0m0 4.6h0m.2-11.5h0m0 7.3h0m0 3.8h0m.2-6h0m.1 22h0m.1-5.7h0m.2-11.7h0m0 46.4h0m.2-35.5h0m.1-3.7h0m.1 7.7h0m.4-19.3h0m.3 7.3h0m.3-5.1h0m.3 9.6h0m.1-14.6h0m.1 9.9h0m.3-8.3h0m.1 3.7h0m0 6.2h0m.1 .9h0m.1-6.4h0m.1 10.9h0m.4-12.5h0m.1-5.4h0m.1 24.3h0m.2-1.3h0m.3 2.2h0m.2-16.8h0m.3 3.6h0m0 .1h0m.1-5h0m0 14.8h0m.1-5.2h0m.3-3.2h0m.3-11.9h0m.3 14.1h0m.6-6.8h0m.3 5.2h0m.5 8.6h0m1.1-.7h0m1.4-.6h0m12.8 30.6h0" fill="none" stroke="#2d79b5" stroke-width="1.5" stroke-linecap="round"/>
<path d="M462.4 88.4h0m4.9-11.7h0m.4-47.2h0m5.4-5.8h0m2.9 2.7h0m1 28.4h0m2.1-33.5h0m2.9 9.6h0m0 3.2h0m.7-12.8h0m.2-4h0m.9 9.4h0m0 .1h0m.1 8.2h0m.2-12.2h0m.7 .3h0m.4 6.4h0m.1-10.3h0m0 5.3h0m.4-2.1h0m0 1.6h0m0 9.1h0m.4-7.8h0m.1-.4h0m.1 5.6h0m.3-1h0m.1-9.2h0m.5 2.5h0m.7-5.2h0m0 15.6h0m.1-13.5h0m.3-2.1h0m.1-.6h0m0 6.6h0m.2-1.9h0m.3-1.5h0m.2-1.3h0m.4 15.7h0m.2-15.8h0m0 5h0m.1 13.2h0m.1-1.5h0m.3-12.1h0m.1 2h0m.2 3.3h0m0 2.7h0m.1-6h0m.3-.4h0m0 4.6h0m.1-5.9h0m.4 10h0m.1-12.3h0m.2-2.9h0m.2-3.8h0m0 16.6h0m.3-9.7h0m0 .5h0m0 5.7h0m.2 1.7h0m.1-13.1h0m0 3.4h0m.3 4.1h0m.2 1.3h0m.1-2.5h0m0 2.8h0m.1-3.2h0m.1 1.5h0m0 .6h0m0 1.7h0m0 7h0m.2-13.8h0m0 7.8h0m.6-1.8h0m0 10.3h0m.1-17.4h0m.1 22.2h0m.1-18.9h0m0 7.2h0m.2-3.8h0m0 9.7h0m.3-18.3h0m0 21.4h0m.1-20.1h0m0 6.4h0m0 5.6h0m.1-.9h0m.1-7.4h0m0 3.7h0m.2-10h0m0 9h0m0 8.7h0m.1 5.7h0m.1-23.4h0m0 5.8h0m0 11h0m.1-6.1h0m.1-5.4h0m.3-2.6h0m0 11.9h0m.1-13.6h0m0 13.7h0m0 4.3h0m.2-16.1h0m0 4.1h0m0 11.7h0m.2-5.8h0m.1-6.4h0m0 5.7h0m0 3.6h0m.2-11.9h0m0 5.9h0m0 0h0m0 9.4h0m.1-5h0m.1-13.3h0m.1 3.8h0m0 20.3h0m.1-20.3h0m0 8.5h0m0 .2h0m.1-4.6h0m0 7.3h0m0 3.8h0m.1-15.8h0m0 5.2h0m0 16.6h0m.3-14.7h0m0 .7h0m.4-9.5h0m.4 16.6h0m.2-4.7h0m.1-15h0m.2 .6h0m.1 3.6h0m0 68.3h0m.2-68.8h0m.1 7.3h0m.1 6.1h0m.1-15.7h0m.1 6.5h0m.2-.7h0m.2-.5h0m.1-2.3h0m.3 5h0m.5-1.4h0m.1 10.3h0m0 10.4h0m.1-21.6h0m.1 .6h0m0 2.4h0m0 11h0m.1-18.3h0m.3 1.5h0m.1 5.6h0m.1-2h0m.1 .2h0m0 2.3h0m.1 12.9h0m.2-18.5h0m0 13.8h0m.2 7.2h0m.1-4.8h0m.2-12.4h0m0 5.7h0m.6-5.2h0m0 12.7h0m.2-10.1h0m0 6.4h0m.1-.7h0m.2-4.6h0m.3-4.6h0m.2 7.9h0m0 1.3h0m0 2.9h0m.1-8.1h0m.4 .5h0m.2 1.9h0m.2 5.3h0m.4-13h0m0 16.3h0m.2-15h0m.1 7.4h0m.2-8.3h0m0 7.3h0m.8-10.4h0m.1 1.6h0m.3-2.4h0m.2 4.3h0m.6-.7h0m0 55.1h0m.2-58.7h0m.1 7.9h0m.5 6.7h0m.2-11.3h0m.5-.2h0m0 3.7h0m2.8 10.7h0m6.6 31.4h0m4.7-8.5h0m4.7-21.8h0m7.1 15.9h0m14.1-.8h0" fill="none" stroke="#2f2f8f" stroke-width="1.5" stroke-linecap="round"/>
<path d="M436.5 20.4h0m0 3h0m.9 1.5h0m.4-4.1h0m0 2.1h0m.5-3.4h0m.1 2.2h0m.2-.9h0m.1-.6h0m0 .2h0m.1 2.5h0m.4-5h0m.2 4.3h0m.6-1.9h0m0 1.1h0m0 1.2h0m.1 3.2h0m.2-3.4h0m0 4.5h0m.2-5h0m.1 0h0m.4 1h0m.3-1h0m.1-3.1h0m0 .9h0m0 .2h0m0 2.2h0m.5-1.2h0" fill="none" stroke="#9c1b5a" stroke-width="1.5" stroke-linecap="round"/>
<text x="429.2" y="127" font-size="8.28" textLength="34.86" lengthAdjust="spacingAndGlyphs" text-anchor="middle" fill="#1a1a1a" transform="rotate(-90 429.2 127)">activated+</text>
<text x="429.2" y="164.6" font-size="8.28" textLength="32.95" lengthAdjust="spacingAndGlyphs" text-anchor="middle" fill="#1a1a1a" transform="rotate(-90 429.2 164.6)">activated-</text>
<text x="430.9" y="115.9" font-size="8.39" textLength="28.24" lengthAdjust="spacingAndGlyphs" fill="#1a1a1a">Clusters</text>
<rect x="435.6" y="119.1" width="6.2" height="6.75" fill="#f9aeae"/>
<text x="442.9" y="124.5" font-size="8.39" textLength="95.88" lengthAdjust="spacingAndGlyphs" fill="#1a1a1a">0: exhausted effector T cells</text>
<rect x="435.6" y="125.8" width="6.2" height="6.75" fill="#f5837a"/>
<text x="442.9" y="131.2" font-size="8.39" textLength="91.17" lengthAdjust="spacingAndGlyphs" fill="#1a1a1a">2: activated effector T cells</text>
<rect x="435.6" y="132.5" width="6.2" height="6.75" fill="#9e1f5a"/>
<text x="442.9" y="137.9" font-size="8.39" textLength="89.16" lengthAdjust="spacingAndGlyphs" fill="#1a1a1a">6: activated cycling T cells</text>
<rect x="435.6" y="145.2" width="6.2" height="6.75" fill="#c0dcee"/>
<text x="442.9" y="150.6" font-size="8.39" textLength="109.26" lengthAdjust="spacingAndGlyphs" fill="#1a1a1a">1: memory-like precursor T cells</text>
<rect x="435.6" y="151.9" width="6.2" height="6.75" fill="#2a7ab8"/>
<text x="442.9" y="157.3" font-size="8.39" textLength="80.89" lengthAdjust="spacingAndGlyphs" fill="#1a1a1a">3: transitional T cells T1</text>
<rect x="435.6" y="158.6" width="6.2" height="6.75" fill="#2b2e8c"/>
<text x="442.9" y="164" font-size="8.39" textLength="80.89" lengthAdjust="spacingAndGlyphs" fill="#1a1a1a">4: transitional T cells T2</text>
<rect x="435.6" y="165.3" width="6.2" height="6.75" fill="#9d94c8"/>
<text x="442.9" y="170.7" font-size="8.39" textLength="65.19" lengthAdjust="spacingAndGlyphs" fill="#1a1a1a">5: naive-like T cells</text>
<text x="577.4" y="7.7" font-size="11.07" textLength="7.08" lengthAdjust="spacingAndGlyphs" font-weight="bold">C</text>
<defs><g id="grayC">
<path d="M601.1 34.1h0m.1-.8h0m0 1.9h0m.1 1.9h0m.1-1.9h0m.1 1.1h0m.1-5.7h0m0 3.4h0m0 4.7h0m.2-6.8h0m0 1.8h0m0 4.9h0m.3-29.9h0m0 22.2h0m0 8.6h0m.1-16h0m0 .8h0m0 4.5h0m0 1.6h0m0 1.9h0m.1-7.1h0m0 15.7h0m.1-13.1h0m.1 7.8h0m0 6.2h0m.1-13.4h0m0 .6h0m0 1.3h0m0 2.3h0m.2-6.2h0m0 12.2h0m.3-11.4h0m0 9.9h0m.1-13.2h0m0 11h0m0 2.4h0m0 7.5h0m0 .9h0m.2-17h0m.1 12.8h0m0 2.5h0m0 .1h0m.1-14.7h0m.1-24.9h0m0 15.7h0m0 4.8h0m0 2.1h0m.1-7.6h0m0 8.4h0m0 .3h0m0 4.9h0m0 .9h0m0 11.8h0m.1-41.8h0m0 37.1h0m0 3.7h0m0 2h0m.1-12.3h0m0 8.7h0m.1-38.6h0m0 4.5h0m0 15.7h0m0 10h0m.1-14h0m0 11.8h0m.1-27.3h0m0 .9h0m0 32.7h0m0 3.4h0m0 1.9h0m.1-38.6h0m0 21.9h0m0 7.7h0m0 .5h0m.1-1.3h0m0 10.4h0m.1-41.3h0m0 4.2h0m0 28.9h0m0 9.1h0m.1-39.6h0m0 1.9h0m0 12.8h0m0 7.7h0m0 12.9h0m0 .5h0m0 5.8h0m0 1.4h0m.1-27.8h0m0 11.2h0m0 18h0m.1-44h0m0 34.6h0m.1-37.2h0m0 3.8h0m0 9h0m0 11.7h0m0 4.1h0m0 11h0m.1-38h0m0 .6h0m0 17h0m0 6.3h0m0 .7h0m0 21.2h0m.1-51.7h0m0 7.8h0m0 11.5h0m0 1.2h0m0 1.8h0m0 .7h0m0 15.1h0m0 4.7h0m0 2.4h0m.1-41.9h0m0 13h0m0 7.4h0m0 8h0m.1-26.6h0m.1 .9h0m0 39.8h0m.1-43h0m0 1.8h0m0 4.6h0m0 11.5h0m0 .2h0m.1-15.8h0m0 .5h0m0 10.8h0m0 6.6h0m0 6.1h0m0 4.6h0m.1-15.7h0m0 5.4h0m.1-17.9h0m0 .2h0m0 20.5h0m0 1h0m0 6h0m.1-27.2h0m0 .8h0m0 .7h0m0 29.6h0m0 .1h0m0 8.1h0m0 2.2h0m0 1.7h0m0 1.6h0m.1-32h0m0 13.8h0m0 19.6h0m0 .2h0m.1-34h0m0 33.8h0m.1-49.5h0m0 2.7h0m0 1.1h0m0 33.3h0m0 14.7h0m.1-49.6h0m0 1.5h0m0 13.8h0m0 .2h0m0 3.3h0m0 15.8h0m0 6.5h0m.1-41.9h0m0 .6h0m0 2.3h0m0 6.8h0m0 8.2h0m0 7.9h0m0 11.9h0m0 11.4h0m.1-48.6h0m0 .9h0m0 .7h0m0 21.9h0m.1-21.1h0m0 1h0m0 .5h0m0 7.7h0m0 10.2h0m0 12.3h0m0 13.7h0m.1-47.6h0m0 0h0m0 1.1h0m0 7h0m0 2.8h0m0 .3h0m0 1.2h0m0 30.1h0m0 1.7h0m0 2.2h0m0 .5h0m.1-42.4h0m0 5.9h0m0 1.5h0m0 3.1h0m0 5.7h0m0 8.4h0m0 7.6h0m.1-37.7h0m0 2.3h0m0 28.5h0m0 4h0m0 .2h0m0 6.9h0m0 .8h0m0 8.7h0m.1-50.3h0m0 7.6h0m0 18.5h0m0 1.4h0m0 5.8h0m0 12.5h0m.1-32.7h0m0 17.4h0m0 9.5h0m0 .2h0m.1-30.6h0m0 2.1h0m0 6.6h0m0 3.4h0m0 14h0m0 13.1h0m0 .8h0m.1-39h0m0 13h0m0 2.7h0m0 3.3h0m0 20.1h0m.1-48.3h0m0 2.2h0m0 7.8h0m0 30.4h0m.1-39.2h0m0 6.1h0m0 28h0m0 10.6h0m.1-45.9h0m0 27.5h0m0 7.6h0m0 .8h0m0 .4h0m0 4.5h0m.1-42.7h0m0 .3h0m0 .7h0m0 .6h0m0 1.1h0m0 12.8h0m0 10.3h0m0 13.2h0m0 3.7h0m.1-43h0m0 1.8h0m0 13.6h0m0 21.4h0m.1-32h0m0 12.1h0m0 33.1h0m.1-50.5h0m0 8.3h0m0 9.6h0m0 9.3h0m0 15.4h0m0 6.5h0m.1-31.8h0m0 3.8h0m0 4.5h0m0 1h0m0 9.8h0m.1-16.9h0m.1 10h0m.1-6.3h0m0 7.3h0m0 5h0m0 9.2h0m0 1.2h0m0 1.1h0m.1-29.4h0m0 4.4h0m0 4.4h0m0 12.8h0m0 0h0m0 7.8h0m.1-43.6h0m0 16.5h0m0 27.1h0m.1-27h0m0 8.2h0m0 20.9h0m.1-43.7h0m0 1.3h0m0 .3h0m.1-4.7h0m0 1.4h0m0 10.4h0m0 1.6h0m0 1.8h0m0 30.4h0m0 1.2h0m.1-42.8h0m0 13.2h0m0 6h0m0 3.8h0m0 11.9h0m.1-31.2h0m0 14.4h0m0 13.5h0m0 4.4h0m.1-41.8h0m0 5.5h0m0 10.6h0m0 11.7h0m0 9.9h0m0 .6h0m0 2.7h0m0 1h0m0 2.3h0m.1-33.2h0m0 15.7h0m0 12.6h0m.2-40.4h0m0 17h0m0 22.7h0m0 12.6h0m.1-50.3h0m0 30.9h0m0 12.6h0m.1-24h0m0 15.1h0m0 10.4h0m0 .9h0m.1-40.2h0m0 4.8h0m0 2.7h0m0 8.6h0m0 6h0m.1-16.8h0m0 12.6h0m0 27.9h0m.1-37h0m0 6h0m0 7.6h0m0 6.7h0m0 8.9h0m.1-34.7h0m0 33.8h0m0 2.9h0m0 3.1h0m.1-40.6h0m0 2.2h0m.1 3h0m0 15.5h0m0 .9h0m0 12.2h0m0 7.4h0m.1-27.6h0m0 5.7h0m0 4.8h0m0 7.2h0m0 3.3h0m0 .2h0m0 5.8h0m0 2.6h0m.1-42h0m0 34.1h0m.1-36.2h0m0 4.6h0m0 5.9h0m0 24.7h0m0 0h0m0 9.3h0m.1-15.3h0m0 5.2h0m0 10.8h0m.1-46.7h0m0 4.6h0m0 1.8h0m0 16.4h0m0 20.3h0m0 2.1h0m.1-48.1h0m0 16.2h0m0 23.8h0m0 1.1h0m0 8.5h0m.1-48.5h0m0 12.9h0m0 5.4h0m.1-18.9h0m0 3.5h0m0 18h0m0 13.9h0m.1-36.4h0m0 6h0m0 12.7h0m0 11.1h0m0 8.7h0m0 1.7h0m.1-38.7h0m0 37.9h0m0 9.3h0m.1-39h0m0 7h0m0 .3h0m0 11.4h0m0 12.5h0m0 5.1h0m0 1.2h0m0 1.9h0m.1-45.9h0m0 1.6h0m0 26.6h0m0 7.4h0m0 8.8h0m0 .2h0m.1-21.6h0m0 7.3h0m0 2.1h0m0 .2h0m0 8.7h0m0 .9h0m0 .8h0m0 4.3h0m.1-39.6h0m0 5.7h0m0 12.2h0m0 2.9h0m0 5.8h0m.1-37.9h0m0 22.2h0m0 8.5h0m0 .5h0m0 4.6h0m.1-32h0m0 6.6h0m0 26.1h0m0 .4h0m.1-34h0m0 18.1h0m0 9.1h0m0 9.2h0m0 1.2h0m0 8h0m.1-41.4h0m0 20.6h0m0 6.8h0m0 2.6h0m.1-37.3h0m0 36.6h0m0 9.7h0m0 3.6h0m.1-39h0m0 7.3h0m0 2.3h0m0 2.3h0m0 3.6h0m.1-4.2h0m0 .6h0m0 10.3h0m0 7.2h0m.1-38.8h0m0 .2h0m0 19.8h0m0 6h0m0 3h0m0 7h0m0 4.3h0m.1-33.6h0m0 3.4h0m0 3.5h0m0 2.9h0m0 11.5h0m0 6.4h0m0 10h0m0 3h0m0 1.6h0m.1-44.3h0m0 2.8h0m0 2.5h0m0 29.1h0m0 4.4h0m0 2.5h0m.1-35.7h0m0 7.4h0m0 1h0m0 4.5h0m.1-23.2h0m0 12.2h0m0 26.2h0m0 6.5h0m.1-46.9h0m0 6.1h0m0 31.4h0m0 5h0m.1-30.2h0m0 6.8h0m0 10.7h0m0 2.1h0m0 15.9h0m.1-45.5h0m0 7.3h0m0 3.2h0m0 3h0m0 21h0m0 7.1h0m0 3.3h0m0 .1h0m.1-12.3h0m0 1.8h0m0 1.5h0m0 9.4h0m0 5.1h0m.1-51.9h0m0 5.9h0m0 2.7h0m0 16.7h0m0 3.3h0m.1-29.1h0m0 4.4h0m0 9h0m0 2.4h0m0 1.3h0m0 4.2h0m0 .9h0m0 8.4h0m.1-22h0m0 16.4h0m.2-25.2h0m0 31.1h0m0 2h0m0 16.5h0m.1-25h0m0 14.9h0m0 1.2h0m0 6.6h0m.1-39.6h0m.1-3.4h0m0 13.6h0m0 20.4h0m0 8.3h0m0 4.7h0m.1-28h0m0 3.2h0m0 3.1h0m0 14.1h0m0 .3h0m0 1.8h0m.1-35.9h0m0 1h0m0 1.9h0m0 2.4h0m0 5.6h0m.1-16.9h0m0 10.8h0m0 9h0m0 .1h0m0 9.4h0m0 15.5h0m.1-37.4h0m0 .1h0m0 10.4h0m0 5.9h0m0 1.4h0m.1-30.1h0m0 5.8h0m0 2.2h0m0 13.7h0m0 4h0m0 2h0m0 4.7h0m0 2.7h0m0 14.2h0m.1-47.1h0m0 5.9h0m0 6.5h0m0 38.4h0m0 .1h0m0 .8h0m.1-47.9h0m0 2.8h0m0 0h0m0 7.9h0m0 18.9h0m0 15h0m.1-47.3h0m0 15.2h0m0 20.6h0m0 10.1h0m.1-16.3h0m0 17.5h0m.1-30.7h0m0 33.7h0m.1-46.9h0m0 1h0m0 6.4h0m0 3.3h0m0 36h0m.1-27.7h0m0 3.8h0m0 11.1h0m0 3.4h0m0 5.7h0m.1-45.4h0m0 25.6h0m0 7.3h0m0 7h0m0 5.9h0m.1-30.4h0m0 6.8h0m0 2.9h0m0 21.1h0m.1-46.3h0m0 18.3h0m0 4.3h0m0 4.4h0m0 4.2h0m0 9.6h0m0 3.3h0m.1-6.7h0m0 11.8h0m0 .4h0m.1-39.5h0m0 .2h0m0 24.5h0m0 4h0m.1-34.3h0m0 3.5h0m0 .7h0m0 .2h0m0 21.2h0m0 .6h0m0 3.3h0m.1-36.3h0m0 7.3h0m0 13.9h0m0 3.8h0m0 .9h0m0 14.5h0m0 3.9h0m.1-39.7h0m0 20.5h0m0 .3h0m0 13.4h0m0 11h0m.1-45.2h0m0 7.9h0m0 29.9h0m0 .9h0m.1-39.8h0m0 33.6h0m0 12.3h0m.1-44.4h0m0 5.8h0m0 4.7h0m0 1.6h0m0 20.1h0m.1-39.5h0m0 33.3h0m0 .1h0m0 9.6h0m0 2.4h0m0 3h0m.1-37.2h0m0 13h0m0 6.9h0m0 6.3h0m0 14.7h0m.1-52.1h0m0 5.5h0m0 24.1h0m0 .3h0m0 12h0m0 7.5h0m0 3h0m0 1.8h0m.1-51.7h0m0 18.7h0m0 9.1h0m0 10.1h0m0 1.7h0m.1-30.7h0m0 15.6h0m.1-24.4h0m0 .5h0m0 23.8h0m0 3.7h0m0 3.8h0m0 12.9h0m.1-37.4h0m0 2h0m0 9.5h0m0 .9h0m0 10.2h0m0 17.6h0m.1-41.7h0m0 3.5h0m0 37.5h0m0 3.6h0m.1-53h0m0 2.2h0m0 13.6h0m0 .9h0m0 11.9h0m0 1.4h0m0 22.4h0m0 2.3h0m.1-52.9h0m0 21.5h0m0 13.5h0m0 1.1h0m0 3.1h0m0 4h0m.1-18.6h0m0 12.3h0m.1-38h0m0 8.9h0m0 14.6h0m0 2.6h0m0 .6h0m0 14h0m.1-33.7h0m0 10.6h0m0 .6h0m0 21h0m0 3.9h0m0 .5h0m0 6.4h0m0 4.1h0m.1-42.6h0m0 11.5h0m.1 3h0m0 2.2h0m0 4.7h0m.1-7.5h0m0 .6h0m0 13.9h0m0 8.2h0m.1-47h0m0 28.9h0m.1-30.7h0m0 18.1h0m0 13.8h0m0 6.5h0m0 17.7h0m.1-51.1h0m0 9.3h0m0 12h0m0 6.5h0m0 3.3h0m0 18.1h0m.1-49.7h0m0 .5h0m0 2.5h0m0 2.6h0m0 4.4h0m0 4.8h0m0 3.4h0m0 13.3h0m0 8.5h0m0 3.2h0m0 4.7h0m.1-47h0m0 30.2h0m0 .9h0m0 3.3h0m0 8.5h0m.1-30.7h0m0 .3h0m0 2.4h0m0 2.2h0m0 22.6h0m.1-44.8h0m0 1h0m0 10.5h0m0 1.6h0m0 32.5h0m.1-26.6h0m0 26.3h0m.1-44.2h0m0 3h0m0 21.5h0m0 20h0m0 9.1h0m.1-52.5h0m0 8.8h0m0 21.8h0m0 4.1h0m.1-36.7h0m0 1.1h0m0 26.8h0m.1-7.3h0m0 27.1h0m.1-34.2h0m0 .8h0m0 8.6h0m0 15.1h0m0 7.8h0m0 2.4h0m.1-36.9h0m0 11.5h0m0 10.9h0m0 12.1h0m.1-45.6h0m0 10.9h0m0 1.9h0m0 2h0m0 13.8h0m0 3.8h0m0 7.8h0m0 10.1h0m.1-45.5h0m0 11.8h0m0 10.6h0m0 6.7h0m0 .5h0m0 1.3h0m0 3.9h0m.1-20.1h0m0 4.1h0m0 12.9h0m0 18.5h0m.1-40h0m0 13.4h0m0 4h0m0 5.3h0m0 3.2h0m0 3h0m.1-41.6h0m0 20.8h0m0 6.8h0m0 7h0m.1-33.3h0m0 2.2h0m0 5.8h0m0 .2h0m0 11.4h0m.1-18.1h0m0 10.5h0m0 18.4h0m0 4.2h0m0 .1h0m0 3.4h0m0 8.3h0m.1-49.2h0m0 9.6h0m0 7.1h0m0 6.8h0m0 3.7h0m0 26h0m0 .5h0m.1-54.6h0m0 21.5h0m0 4h0m.1-21.1h0m0 1.1h0m0 6.1h0m0 14.9h0m0 19.8h0m0 2.5h0m0 5.7h0m.1-44.6h0m0 5.7h0m0 28.7h0m0 2.8h0m0 2.5h0m.1-46.2h0m0 13.1h0m0 6.7h0m0 10.4h0m0 11h0m0 2.6h0m.1-45.7h0m0 4.1h0m0 4.3h0m0 3.2h0m0 .4h0m0 9.1h0m0 5.9h0m0 13.8h0m.1-33.3h0m0 1.1h0m0 15.1h0m0 7h0m0 3h0m0 5.2h0m0 11.3h0m0 2.4h0m.1-45.5h0m0 4.4h0m0 4.5h0m0 .1h0m0 14.7h0m0 6.3h0m0 4.1h0m0 9.1h0m.1-43.4h0m0 9.1h0m0 21.9h0m0 4.1h0m0 9.9h0m.1-32.6h0m0 2h0m0 1h0m0 17.9h0m0 .4h0m.1-39h0m0 2.4h0m0 44.6h0m.1-49.1h0m0 7.9h0m0 32.1h0m0 5.1h0m.1-27.7h0m.1-17.9h0m0 22.3h0m0 9.1h0m0 18.7h0m.1-38.6h0m0 7.6h0m.1-17.2h0m0 7.7h0m0 6.2h0m0 3.4h0m0 7.8h0m0 4.2h0m0 .2h0m0 6h0m0 16.7h0m.1-19.4h0m0 .5h0m0 9.5h0m0 6.1h0m0 3.9h0m.1-37.3h0m0 10.3h0m0 9.8h0m.1-35.1h0m0 16.3h0m0 27h0m.1-24.2h0m0 6.6h0m0 12.7h0m0 .2h0m0 10.2h0m0 3.4h0m.1-47.9h0m0 1.9h0m0 4.7h0m0 29.5h0m0 10.5h0m.1-12.9h0m0 1.2h0m.1-30.9h0m0 5.9h0m0 27.4h0m0 1.4h0m0 6.5h0m0 .6h0m.1-52.2h0m0 30h0m0 8.3h0m0 12.7h0m.1-42.3h0m0 19.9h0m0 13.4h0m0 3h0m.1-40.1h0m0 6.3h0m0 9.6h0m0 25.7h0m0 2.3h0m.1-46.7h0m0 3h0m0 12.6h0m0 26.3h0m0 10h0m.1-40.1h0m0 1.1h0m0 21.5h0m.1-32.7h0m0 2.8h0m0 2.2h0m0 19h0m0 22.2h0m.1-40.3h0m0 5.7h0m0 11.2h0m0 24.3h0m0 .6h0m.1-35.5h0m0 .1h0m0 23.5h0m0 1.2h0m0 12.9h0m0 .3h0m.1-47.5h0m0 25.1h0m0 19.8h0m0 .4h0m.1-48.2h0m0 3.6h0m0 8h0m0 10.7h0m0 1h0m0 14.7h0m0 8.7h0m.1-32.4h0m0 12.8h0m.1-19.3h0m0 15.5h0m0 11h0m0 1.8h0m0 4.1h0m.1-41.6h0m0 11.8h0m0 21.7h0m0 10.6h0m0 .5h0m0 3h0m0 .5h0m0 .7h0m.1-39.7h0m.1-11.4h0m0 4.4h0m0 6.4h0m0 13.5h0m0 2.6h0m.1 19.9h0m0 2h0m0 6.3h0m.1-50.3h0m0 1.3h0m0 1.7h0m0 6.3h0m0 1.1h0m0 36.7h0m.1-49.9h0m0 7.3h0m0 6.5h0m0 .5h0m0 13.5h0m0 4h0m0 11.2h0m0 8h0m.1-25.1h0m0 23.7h0m.1-51.6h0m0 10.4h0m0 9.1h0m0 5.2h0m0 10.8h0m0 4.3h0m.1-10.7h0m0 7.6h0m0 2.1h0m0 15.2h0m.1-53.7h0m0 17.1h0m0 3.1h0m.1-7.9h0m0 7.3h0m0 1.3h0m0 5.5h0m0 3.1h0m0 9.8h0m0 7.7h0m.1-30.2h0m0 5.7h0m0 10.1h0m0 15.5h0m0 4.1h0m.1-50.5h0m0 .6h0m0 13.3h0m0 9.2h0m0 1.9h0m0 15.9h0m0 1.9h0m.1-27.8h0m0 33.4h0m.1-39.9h0m0 .1h0m0 2.4h0m0 5.1h0m0 3.6h0m0 7.9h0m0 8.9h0m.1-15.5h0m0 1h0m0 .7h0m0 1.2h0m0 26h0m0 4.3h0m.1-8.8h0m0 1.6h0m0 3.3h0m.1-45.8h0m0 6h0m0 .8h0m0 .5h0m0 .9h0m0 17.2h0m0 0h0m0 .4h0m0 3.3h0m0 17.7h0m.1-51.6h0m0 13.8h0m0 3.1h0m0 4.2h0m0 8.7h0m0 15.1h0m0 8.1h0m.1-52.3h0m0 6.4h0m.1-3.5h0m0 26.7h0m0 14.1h0m.1-23.3h0m.1-17.9h0m0 1.3h0m0 .5h0m0 8.4h0m0 2.7h0m0 20.8h0m0 10.8h0m0 3.1h0m.1-45h0m0 7.7h0m0 24h0m0 10h0m.1-28.9h0m0 0h0m.1-7.6h0m0 8.3h0m0 1.7h0m.1-20.2h0m0 31.1h0m0 7.8h0m0 .9h0m0 11.8h0m.1-46h0m0 14.4h0m0 18.6h0m.1-38.6h0m0 21.7h0m0 4.5h0m0 20.8h0m.1-29.2h0m0 14.9h0m0 11.6h0m0 9.4h0m.1-44h0m0 9.5h0m0 3.6h0m0 3.4h0m0 18.9h0m0 5.1h0m0 2.6h0m.1-40.5h0m0 12h0m0 15.2h0m0 1.8h0m0 8.6h0m.1-50.6h0m0 3.6h0m0 5.7h0m0 2.3h0m0 19.3h0m.1-29.4h0m0 19.2h0m0 10.5h0m.1-30.9h0m0 2.3h0m0 7.2h0m0 7h0m0 7.7h0m0 15.3h0m0 11.2h0m0 .1h0m.1-51.6h0m0 1.3h0m0 23h0m0 13.2h0m0 7.1h0m.1-39.7h0m0 7.5h0m0 20.7h0m0 8.8h0m0 3.7h0m.1-39.6h0m0 1.4h0m0 4.7h0m0 1.4h0m0 3.9h0m0 3.4h0m.1-6.9h0m0 8.1h0m0 .7h0m0 3.6h0m0 7h0m0 5.8h0m0 6.1h0m0 1.2h0m0 7.5h0m0 .6h0m.1-40.8h0m0 2h0m0 1.7h0m0 18.2h0m0 2.8h0m0 6.1h0m0 9.5h0m.1-13.6h0m.1-40.3h0m0 12.1h0m0 2.2h0m0 10.7h0m0 18.3h0m0 1.7h0m0 1.5h0m.1-17.3h0m0 8.3h0m0 .7h0m0 1.1h0m0 1.1h0m0 13.8h0m.1-5.2h0m0 2h0m.1-50.8h0m0 4.5h0m0 3.7h0m0 2.6h0m.1-5.8h0m0 4.1h0m0 7.3h0m0 7.8h0m0 13.8h0m0 4.5h0m.1-23.8h0m0 .9h0m0 17.9h0m.1-28.3h0m0 13.7h0m0 1.5h0m0 3.3h0m0 15.1h0m.1-41.6h0m0 19.5h0m0 15h0m0 4.3h0m.1-40.3h0m0 1.1h0m0 6.4h0m0 13.4h0m0 14.3h0m0 2.2h0m.1-15.6h0m0 4.8h0m0 5.1h0m0 .5h0m0 8.3h0m0 6.9h0m0 5.1h0m.1-49.8h0m0 15.9h0m0 9.6h0m0 20h0m0 5.3h0m.1-54.1h0m0 9.2h0m0 21.9h0m.1-21.4h0m0 2.7h0m0 8h0m0 .4h0m0 2.6h0m0 5.7h0m0 7.9h0m0 15.5h0m.1-52.4h0m0 1.4h0m0 8.1h0m0 27.3h0m.1-29.5h0m0 2.6h0m0 2.1h0m0 7.6h0m0 5h0m0 2.7h0m.1-18.5h0m0 13h0m0 13.7h0m.1-21.1h0m0 3.6h0m0 5.2h0m0 22.6h0m.1-46.2h0m0 9.5h0m0 .5h0m0 4.7h0m0 15.1h0m0 10.1h0m0 7.7h0m0 4.1h0m0 1.1h0m.1-52.1h0m0 22.8h0m0 2.8h0m0 1.5h0m0 .8h0m0 9.3h0m0 11.6h0m0 6.1h0m.1-56.2h0m0 5.3h0m0 10.1h0m0 27.5h0m0 .6h0m0 2.4h0m0 2.7h0m.1-47.8h0m.1 7.5h0m0 6.8h0m0 6h0m0 16h0m.1-22.3h0m0 .2h0m0 2.9h0m0 1.2h0m0 1.2h0m0 2.2h0m.1-9.7h0m0 .6h0m0 6.2h0m0 8.7h0m0 6.4h0m0 13.9h0m0 4.6h0m.1-43h0m0 .9h0m0 18.8h0m0 3.4h0m.1-23.8h0m0 43.5h0m.1-51.9h0m0 4.5h0m0 27.4h0m0 9.3h0m0 0h0m0 1.1h0m0 7.6h0m0 2.1h0m.1-40.2h0m0 4.8h0m0 2.3h0m0 8.8h0m0 6.9h0m0 21h0m.1-44.5h0m0 5.5h0m0 21.4h0m0 1.2h0m0 15.6h0m.1-56.3h0m0 2.2h0m0 30.2h0m0 2h0m.1-32.8h0m0 2.7h0m0 8.4h0m0 20.7h0m0 4.7h0m0 15.8h0m0 2.8h0m.1-28h0m0 2.7h0m0 13.6h0m0 .9h0m0 10h0m.1-53.6h0m0 7.6h0m0 .1h0m0 3.7h0m0 10.3h0m0 12.9h0m.1-33.7h0m0 1h0m0 5.9h0m0 3.6h0m0 4.7h0m0 14h0m0 4.7h0m.1-29.2h0m0 14.6h0m.1-23.1h0m0 8.4h0m0 19.8h0m0 5.6h0m0 1.7h0m0 1.9h0m0 4.6h0m0 10.9h0m0 .6h0m.1-47.9h0m0 4.5h0m0 2.9h0m0 23.5h0m0 1.3h0m0 4h0m0 5.4h0m.1-40.2h0m0 10.4h0m0 11.6h0m0 18.1h0m.1-43.8h0m0 9.4h0m0 18.2h0m0 19.7h0m.1-5.6h0m0 7.3h0m0 5.6h0m.1-30.3h0m0 8.8h0m0 16.1h0m.1-52.3h0m0 5h0m0 8.1h0m0 16h0m0 10.3h0m0 5.2h0m.1-45.1h0m0 6.3h0m0 1.3h0m0 6.8h0m0 28.6h0m.1-31h0m0 20.8h0m0 3.4h0m0 4.8h0m0 .4h0m0 4.5h0m0 .8h0m0 7.5h0m.1-13.4h0m0 6.9h0m.1-39.8h0m0 10.4h0m0 1.9h0m0 7.5h0m0 .9h0m0 5.4h0m0 16.2h0m.1-39.6h0m0 12.2h0m0 .4h0m0 3.4h0m0 .4h0m0 23.3h0m.1-8h0m0 8.9h0m.1-50.6h0m0 11.4h0m0 30.2h0m.1-41.3h0m0 15.4h0m0 15.9h0m0 8.7h0m0 11.2h0m0 2.4h0m0 3h0m.1-23.9h0m0 4.9h0m0 7.1h0m0 6.8h0m.1-44.9h0m.1-4.3h0m0 2.2h0m0 1.4h0m0 3h0m0 6h0m0 7.8h0m0 19.6h0m0 5.9h0m.1-49.6h0m0 7h0m0 25h0m0 .3h0m0 7.3h0m0 1.4h0m0 11.5h0m.1-44.8h0m0 28.9h0m0 4.6h0m0 14.4h0m.1-18.1h0m0 11.4h0m0 3.3h0m.1-44.4h0m0 16.3h0m0 17.2h0m0 15.5h0m0 .2h0m.1-45.3h0m0 18.3h0m0 6.6h0m0 5.7h0m0 2.2h0m0 4.1h0m0 2.8h0m.1-48.4h0m0 11.4h0m0 11.8h0m0 6.1h0m0 .2h0m0 .2h0m0 24.4h0m0 .4h0m.1-57.1h0m0 3.4h0m0 26.2h0m0 4.5h0m0 6.4h0m0 13.2h0m0 3h0m.1-34.7h0m0 2.2h0m0 3.3h0m0 13.1h0m0 14.7h0m.1-45.5h0m0 8.5h0m0 12h0m0 19.2h0m.1-39.5h0m0 27h0m0 .2h0m0 13.8h0m.1-45.2h0m0 .4h0m0 16.9h0m0 22.7h0m.1-47.6h0m0 14.1h0m0 7.5h0m0 10.2h0m0 22h0m.1-26.4h0m0 23.3h0m0 1.2h0m0 0h0m0 2h0m.1-50.9h0m0 5.4h0m0 .8h0m0 10.5h0m0 19.1h0m0 3.8h0m0 10.7h0m0 1.3h0m.1-45.4h0m0 19.2h0m0 3.1h0m0 15.8h0m0 2.4h0m0 3.2h0m.1-53h0m0 5.9h0m0 2.4h0m0 1.4h0m0 1.5h0m0 .8h0m0 2.2h0m0 17h0m0 8.1h0m0 3.8h0m0 4.7h0m0 9.6h0m0 0h0m.1-36.9h0m0 5.8h0m0 15.4h0m.1-40.2h0m0 3.1h0m0 .9h0m0 18.3h0m0 8.7h0m0 .1h0m0 11.1h0m.1-32.1h0m0 12.3h0m0 15.2h0m0 2.3h0m0 10.4h0m0 2.8h0m.1-49.9h0m0 .3h0m.1-5h0m0 1.8h0m0 27.7h0m0 8.5h0m0 19.4h0m.1-53.3h0m0 20.5h0m0 6.9h0m0 7.9h0m0 3.8h0m0 10.5h0m.1-32.6h0m0 33.1h0m0 3.1h0m.1-49.9h0m0 14h0m0 18h0m0 6.8h0m.1-35.5h0m0 12h0m0 1.4h0m0 13.8h0m0 6.9h0m0 7.5h0m0 2.1h0m.1-19.5h0m0 18.3h0m.1-50.4h0m0 26.9h0m0 5.6h0m0 19.6h0m.1-54.8h0m0 6.9h0m0 13.9h0m0 14.6h0m0 .6h0m.1-24.6h0m0 16.4h0m0 21.9h0m0 9.5h0m.1-55.8h0m0 2.6h0m0 7h0m0 .1h0m0 3.4h0m0 5.6h0m0 3.7h0m0 4.1h0m0 3.1h0m0 9.3h0m0 6.9h0m0 1.4h0m0 1.7h0m.1-19.3h0m0 5.1h0m0 12.7h0m.1-45.9h0m0 20.9h0m0 24.9h0m0 3.6h0m.1-47.9h0m0 23.1h0m0 3.1h0m0 11.5h0m0 2.1h0m0 1h0m.1-10.3h0m0 2h0m0 14.8h0m.1-53.1h0m0 4.4h0m0 0h0m0 1.7h0m.1 14.5h0m0 2.3h0m0 6.3h0m0 7.7h0m.1-35.7h0m0 31.5h0m0 1.4h0m0 1h0m.1-24.9h0m0 15.2h0m0 3.4h0m.1-19.6h0m0 38.9h0m.1-46.4h0m0 1.8h0m0 6.3h0m0 16.4h0m0 15.6h0m0 16.2h0m.1-35.3h0m0 15.8h0m0 3.2h0m0 13.5h0m.1-27h0m0 20.3h0m.1-47.1h0m0 5.7h0m0 21.3h0m0 2.7h0m0 13.5h0m0 2h0m0 6.8h0m0 3.5h0m.1-57.6h0m0 1.3h0m0 11.9h0m0 16.8h0m.1-26.8h0m0 33.4h0m0 16.1h0m.1-53.7h0m0 14.7h0m0 25.4h0m0 1.4h0m.1-36.8h0m0 4.3h0m0 49.5h0m.1-56.1h0m0 .4h0m0 4.6h0m0 8.5h0m0 26.7h0m0 2.5h0m.1-29.8h0m0 7.6h0m0 5.2h0m0 7.9h0m0 9.5h0m.1-45.4h0m0 12h0m0 47.5h0m.1-53.4h0m0 5.2h0m0 .9h0m0 23.9h0m0 18.2h0m0 4.8h0m.1-48.5h0m0 17.7h0m0 .3h0m.1-27.3h0m0 .9h0m0 .8h0m0 5.2h0m0 13.6h0m0 3.1h0m0 3.6h0m.1-27.7h0m0 3.6h0m0 6.1h0m0 4.2h0m0 20.9h0m0 .6h0m0 2.6h0m.1-38.5h0m0 9.8h0m0 12.8h0m0 17.7h0m0 .6h0m.1 13.1h0m.1-39.6h0m0 26.6h0m0 .9h0m.1-2.1h0m0 13.3h0m.1-47.8h0m0 33.7h0m.1-37.8h0m0 4.3h0m0 39h0m0 8.7h0m.1-48h0m0 13.7h0m0 11.1h0m.1-21.1h0m0 12.5h0m0 13.8h0m0 5h0m0 .8h0m.1-38h0m0 22.3h0m0 12.1h0m.1-35.1h0m0 8.5h0m0 12.4h0m0 23.1h0m0 10.6h0m0 1.2h0m.1-48.2h0m0 16.6h0m0 4.5h0m0 10.6h0m0 10.4h0m.1-49.7h0m0 3.2h0m0 6.2h0m0 16.9h0m0 1.8h0m0 .1h0m0 24.3h0m.1-55.1h0m0 .3h0m0 21.1h0m0 9.9h0m0 21.8h0m.1-48.5h0m0 36.4h0m0 15.8h0m.1-47.2h0m0 .1h0m0 1.8h0m0 13.8h0m0 16.3h0m.1-33.6h0m0 3.6h0m0 20.4h0m0 .8h0m0 .7h0m.1-28.8h0m0 7.2h0m0 4.4h0m0 11.3h0m0 29.2h0m0 1.2h0m.1-53.6h0m0 16.4h0m0 .3h0m0 1.2h0m0 6.6h0m0 29.8h0m.1-58.3h0m0 6.8h0m.1-2.5h0m0 19.3h0m0 12.1h0m0 .1h0m0 21.5h0m.1-52.7h0m0 .5h0m0 6.2h0m0 6h0m0 23h0m0 14.8h0m.1-49.5h0m0 25.4h0m0 9.9h0m.1-39.4h0m0 5.2h0m0 10.9h0m0 6.3h0m0 4.2h0m0 3.1h0m0 4h0m0 8h0m.1-40.5h0m0 3.9h0m0 19.2h0m0 9.2h0m0 .9h0m0 .3h0m0 3.6h0m0 12.2h0m.1-23.1h0m0 .8h0m0 8.8h0m0 4.7h0m0 8.1h0m.1-48.6h0m0 33.8h0m0 5.2h0m0 4.9h0m.1-32.8h0m0 12.4h0m0 2.3h0m0 1.8h0m0 8.1h0m0 2.7h0m0 .6h0m0 1.9h0m0 10.1h0m0 1.2h0m.1-47.3h0m0 6.8h0m0 1.9h0m0 13.3h0m0 2.9h0m0 8.9h0m.1-22.8h0m0 10h0m0 7h0m.1-26.7h0m0 35.5h0m0 6.2h0m0 .2h0m.1-50.7h0m0 8h0m0 4.8h0m0 7.5h0m0 9.9h0m0 21.4h0m.1-50.4h0m0 21.6h0m0 12.7h0m.1-34.4h0m0 7.2h0m0 5h0m0 27.4h0m0 .1h0m0 9.1h0m0 4.1h0m.1-35.1h0m0 4h0m0 2.9h0m0 14.9h0m0 13.2h0m.1-54.8h0m0 2.5h0m0 14.9h0m0 6.7h0m0 11h0m0 4.5h0m.1-26.1h0m0 14.8h0m0 20.8h0m0 2.4h0m.1-51.2h0m0 19.8h0m.1-18.9h0m0 14.2h0m0 11.9h0m0 2h0m0 10.1h0m0 17.8h0m.1-37.6h0m0 1.9h0m0 12.9h0m0 15.9h0m.1-33.6h0m0 24.4h0m.1-39.7h0m0 8.8h0m0 2.9h0m0 6.1h0m0 0h0m0 1.2h0m0 18.6h0m.1-32.9h0m0 10.2h0m0 .6h0m0 1h0m.1-10.2h0m0 5.6h0m0 10.7h0m0 17.1h0m.1-17.9h0m0 18.4h0m0 6h0m0 6.9h0m0 1h0m.1-56h0m0 1.5h0m0 2.3h0m0 12.9h0m0 3.3h0m0 12.6h0m0 6.7h0m0 .4h0m0 5.8h0m0 11.6h0m0 .7h0m0 1.2h0m.1-36.7h0m0 8.7h0m0 14.3h0m.1-37.8h0m0 6.4h0m0 13.7h0m0 2.7h0m0 .1h0m0 .8h0m0 4.7h0m0 2.5h0m0 4.7h0m0 8.1h0m.1-41.6h0m0 4.8h0m0 18h0m0 22.1h0m0 2.2h0m.1-45.3h0m0 10.6h0m0 .7h0m0 4.6h0m0 7.3h0m0 7.4h0m0 6.9h0m0 10.2h0m.1-55.7h0m0 11.9h0m0 3.4h0m0 21.8h0m.1-21.9h0m0 .1h0m0 18.9h0m0 .3h0m0 10.9h0m0 6.1h0m.1-51.2h0m0 1.6h0m0 4.3h0m0 1.7h0m0 6.7h0m0 12.9h0m0 12.7h0m0 9.7h0m.1-44.2h0m0 4.6h0m0 11.1h0m0 4.1h0m0 1h0m0 6.9h0m.1-35.7h0m0 .5h0m0 4.2h0m.1-6h0m0 13.1h0m0 2.1h0m0 .7h0m0 19.2h0m0 6.5h0m0 7.1h0m0 3.8h0m.1-33.7h0m0 30.2h0m.1-38.6h0m0 10.1h0m0 .9h0m0 13.6h0m0 7.4h0m0 5.8h0m0 7.5h0m0 .4h0m.1-50.1h0m0 .4h0m0 37.4h0m0 14.1h0m.1-52.9h0m0 11.2h0m0 .3h0m0 1.6h0m0 .8h0m0 24.4h0m0 12.3h0m.1-54.8h0m0 7.8h0m0 4.4h0m0 6.7h0m0 5.2h0m0 15.3h0m0 2.1h0m0 9.4h0m.2-44.6h0m0 1.9h0m0 12.4h0m0 5.5h0m0 15.7h0m0 13.2h0m.1-45.8h0m0 22.1h0m0 2.1h0m0 6.7h0m0 3.4h0m.1-25.1h0m0 12.7h0m.1-29.5h0m0 6.3h0m0 20.7h0m0 16.5h0m.1-30.4h0m0 3.3h0m0 .8h0m0 7.6h0m0 15.4h0m0 12.9h0m.1-41.2h0m0 6.5h0m0 6.3h0m0 16.4h0m.1-36.4h0m0 5h0m0 17.1h0m0 25.1h0m.1-53.1h0m0 8.5h0m0 6.4h0m0 .8h0m0 13.9h0m0 3.7h0m0 3.6h0m0 10.9h0m0 .9h0m0 2.3h0m.1-47h0m0 3.3h0m0 3h0m0 10h0m0 17.6h0m0 3h0m0 .6h0m0 .2h0m0 2.9h0m0 8.1h0m.1-19.8h0m0 4.4h0m0 1.7h0m0 14.1h0m.1-53.8h0m0 37.1h0m0 11.5h0m.1-39.8h0m0 5.4h0m0 10.6h0m0 13.1h0m0 6.9h0m.1-22.3h0m0 9.8h0m0 5.3h0m0 7.8h0m0 1.9h0m0 4.2h0m0 1.6h0m.1-36.1h0m0 7.7h0m0 8.9h0m0 2.4h0m.1-21.4h0m0 1.9h0m0 3.4h0m0 2.6h0m0 18.6h0m0 1.5h0m0 4h0m0 7.9h0m.1-15.7h0m0 15.3h0m0 .3h0m0 1.8h0m.1-37h0m0 2.9h0m0 2.1h0m0 11.8h0m0 13.6h0m.1-45.9h0m0 11.7h0m0 4.3h0m0 16h0m0 1.6h0m0 7.2h0m.1-43.5h0m0 8.8h0m0 28.9h0m0 14.3h0m.1-34.4h0m0 17.9h0m.1-36.4h0m0 8.6h0m0 47.2h0m.1-53.8h0m0 .4h0m0 15.9h0m0 6.8h0m0 16.6h0m.1-3.5h0m0 3.2h0m.1-33.8h0m0 3.5h0m0 20.7h0m0 3.5h0m0 19.9h0m.1-47h0m0 2h0m0 9.6h0m0 8.3h0m0 6h0m.1-28.6h0m0 8.3h0m0 4h0m0 4.9h0m0 13.1h0m0 18.8h0m0 1h0m0 1.1h0m.1-49.2h0m0 .7h0m0 4.1h0m0 .5h0m0 1.5h0m0 15h0m0 5.2h0m0 22.1h0m.1-54.2h0m0 6.1h0m0 .3h0m0 4.6h0m0 14.4h0m0 2.7h0m0 12h0m0 2.4h0m0 10.7h0m.1-39.2h0m0 6.1h0m0 26.2h0m.1-40.7h0m0 23.4h0m0 .9h0m0 17.5h0m0 7.5h0m.1-57.2h0m0 2.6h0m0 11.9h0m0 23.8h0m0 9.8h0m0 3.2h0m.1-29.7h0m0 17.8h0m0 12.7h0m.1-35.2h0m0 5.7h0m0 4.6h0m0 1.8h0m0 14h0m.1-25.3h0m0 2.3h0m0 2.4h0m0 10.1h0m0 21.3h0m.1-50.5h0m0 14.4h0m0 .8h0m0 8h0m0 3.7h0m0 1h0m0 8.4h0m0 14h0m.1-34.5h0m.1-12.6h0m0 26.8h0m0 7.9h0m0 15.8h0m.1-54.3h0m0 3.6h0m0 27.9h0m0 7.7h0m0 4.7h0m0 1.6h0m0 8.5h0m.1-56.8h0m0 17.2h0m0 5.6h0m0 3.8h0m.1-.2h0m0 7.3h0m0 18.9h0m0 1.8h0m.1-53.7h0m0 16.6h0m0 2h0m0 .6h0m0 12.1h0m0 .4h0m0 1.3h0m0 6.5h0m.1-27.8h0m0 40.9h0m0 .4h0m.1-27.4h0m0 26h0m.1-29.5h0m0 5.8h0m0 2.8h0m0 21.7h0m.1-45.9h0m0 8.4h0m0 26.8h0m0 1.8h0m0 9.4h0m0 .8h0m.1-49.4h0m0 3.4h0m0 28.2h0m0 4h0m.1-38.2h0m0 22.2h0m0 3.5h0m0 8.5h0m.1-29h0m0 5.1h0m0 17.6h0m0 8.9h0m0 3.2h0m.1-12.6h0m0 20.2h0m0 .1h0m.1-6.7h0m.1-37.6h0m0 8.6h0m.1-11.3h0m0 3.8h0m0 14.9h0m0 22.9h0m.1-28.5h0m0 12.8h0m0 2.6h0m0 13.1h0m0 6.1h0m.1-41.9h0m0 8h0m0 11h0m0 20.6h0m0 1.4h0m0 1.3h0m.1-48.7h0m0 1.3h0m0 5.9h0m0 17.3h0m0 3.3h0m0 6.6h0m0 11.1h0m0 .1h0m.1-24h0m0 15.1h0m0 16.3h0m0 .2h0m0 1.7h0m.1-37.9h0m.1-14h0m0 32.5h0m.1-31.3h0m0 20h0m0 9.2h0m0 5.8h0m0 7.5h0m0 3.7h0m0 .9h0m0 2.4h0m0 .3h0m.1-54.6h0m0 3.4h0m0 30.8h0m0 .6h0m.1-29.6h0m0 10.7h0m0 2.2h0m0 18.4h0m0 6.6h0m0 .7h0m.1-34.8h0m0 22.1h0m0 .3h0m.1-29.9h0m0 4.1h0m0 1.3h0m0 6.3h0m0 11.9h0m0 15.4h0m0 6.7h0m0 7.4h0m.1-50.6h0m0 7.3h0m0 27.5h0m0 4.6h0m0 6.7h0m.1-46.8h0m0 40.4h0m0 4.2h0m.1-36.8h0m0 26.7h0m.1-20h0m.1-10.7h0m0 3.4h0m0 8.6h0m0 35.1h0m.1-53.6h0m0 13.7h0m0 13.1h0m0 15h0m0 6.1h0m0 3.8h0m0 .5h0m.1-48.7h0m0 5h0m0 7.5h0m0 1.8h0m0 3.7h0m0 21.9h0m0 2.6h0m.1-42.5h0m0 11.2h0m0 3.6h0m0 9.4h0m0 4.3h0m0 8.1h0m0 9.3h0m.1-42.6h0m0 16.4h0m0 1.3h0m0 4.4h0m0 2.4h0m0 3.5h0m0 10.7h0m0 4h0m0 1h0m.1-39.6h0m0 4.1h0m0 .8h0m0 .2h0m0 1.1h0m0 1.3h0m0 3.2h0m0 5.2h0m0 10.8h0m0 3.6h0m0 3.1h0m0 3h0m0 6.7h0m.1-53.2h0m0 10h0m0 3.8h0m0 5.3h0m0 .5h0m0 11.7h0m0 .1h0m0 1h0m0 3.2h0m0 2.7h0m0 3.8h0m0 .9h0m.1-35.3h0m0 .3h0m0 14.3h0m0 14.4h0m0 3h0m.1-32.1h0m0 21.6h0m0 12.2h0m0 .6h0m0 1.7h0m.1-38.3h0m0 4.4h0m0 9.5h0m0 28.3h0m.1-49.5h0m0 26.3h0m0 0h0m0 1.4h0m.1-13.1h0m0 1.2h0m0 18.9h0m.1-16.8h0m0 .9h0m0 .3h0m0 15.5h0m0 4.4h0m0 3.6h0m0 .9h0m0 8.6h0m.1-49.5h0m0 15.3h0m0 19.2h0m0 15h0m0 2.5h0m.1-38.5h0m0 8.2h0m0 3.9h0m0 17.7h0m0 .9h0m.1-19.3h0m0 12h0m0 2.1h0m0 12h0m.1-52.8h0m0 3.3h0m0 .1h0m0 1.8h0m0 6.5h0m0 2h0m0 3.3h0m0 .9h0m0 21.1h0m.1-32.6h0m0 12.7h0m0 10.9h0m0 22.6h0m.1-44.1h0m0 15.6h0m0 13.7h0m0 6.1h0m.1-40.2h0m0 47.4h0m0 .4h0m.1-16h0m0 1.1h0m0 4.6h0m.1-39.6h0m0 8.4h0m0 8.1h0m0 .9h0m0 10.1h0m0 23.2h0m.1-31.4h0m0 12.3h0m0 13.6h0m0 3.4h0m.1-43.2h0m0 27.8h0m0 14.1h0m0 4.4h0m.1-51.4h0m0 28.4h0m0 17.3h0m0 6.5h0m.1-50.3h0m0 1.8h0m0 4.5h0m0 9.7h0m0 6.2h0m0 5.2h0m0 20.9h0m.1-42.7h0m0 2.7h0m0 2.8h0m0 .8h0m0 18.8h0m0 11.7h0m.1-40.3h0m0 16.3h0m0 .9h0m0 1.7h0m0 10.7h0m0 6.9h0m.1-30.7h0m0 9.2h0m.1-16.4h0m0 41.3h0m.1-25.2h0m0 9.3h0m0 16.4h0m.1-26.9h0m0 7.4h0m0 9.7h0m0 .1h0m0 6.7h0m0 7h0m.1-36h0m0 0h0m0 2.4h0m0 1.5h0m0 33.9h0m.1-16.9h0m0 2.5h0m0 7h0m0 8.5h0m0 1.3h0m.1-29.4h0m0 6.6h0m0 9.8h0m.1-28.7h0m0 8.4h0m0 2h0m0 1.9h0m0 4.9h0m0 10.5h0m.1-29.5h0m0 16.5h0m0 3.8h0m0 4.7h0m0 18.7h0m.1-42.7h0m0 3h0m0 2.9h0m0 7.6h0m0 23.6h0m.1-36.7h0m0 31.6h0m.1-29.7h0m0 .9h0m0 15.6h0m0 5.1h0m0 4.9h0m.1-2.9h0m0 2.7h0m.1-5.8h0m0 19.1h0m.1-43.7h0m0 3.3h0m0 3.6h0m0 1.5h0m0 4.3h0m0 13.2h0m0 1.9h0m.1-21.3h0m0 4.3h0m0 4.7h0m0 .2h0m0 2.7h0m0 5.6h0m0 8h0m0 .3h0m.1-14.3h0m0 1.3h0m0 17.2h0m0 6h0m.1-24.9h0m0 23.9h0m.1-32.2h0m.1 .1h0m.1-1.9h0m0 7.6h0m0 11.1h0m.1-2.4h0m0 20h0m0 1.5h0m.1-42h0m0 9.5h0m0 12.4h0m0 7h0m.1-26.1h0m0 1.1h0m0 14.7h0m0 6.9h0m.1-23.4h0m0 3.2h0m0 1.2h0m.1 19.9h0m0 .5h0m0 2h0m0 3.4h0m.1-38.8h0m0 8.4h0m0 1.5h0m0 16.7h0m0 14.9h0m.1-34.2h0m0 32.1h0m0 2.7h0m0 3.3h0m.1-30.1h0m0 7.1h0m0 2.4h0m0 10.3h0m0 4h0m0 .7h0m.1-32.9h0m0 17.5h0m0 4.5h0m0 1.9h0m0 2.3h0m.1-32.1h0m0 11.9h0m0 32.3h0m.1-27.5h0m0 27.5h0m0 2.2h0m0 .1h0m.1-40.1h0m0 24.5h0m0 2.1h0m.1-24.7h0m0 .1h0m0 11h0m0 22.8h0m.1-41.2h0m.1 .4h0m0 4.9h0m0 3.4h0m0 2.7h0m0 1.5h0m0 2.7h0m0 4.1h0m0 1.7h0m0 1.7h0m0 14.7h0m.1-12.1h0m0 5.6h0m0 14.9h0m.1-30h0m0 3.4h0m.1 14.5h0m0 9.2h0m.1-36.3h0m0 3.7h0m0 8.1h0m0 1.3h0m0 1.9h0m0 21h0m.1-40.1h0m0 9.9h0m0 19.5h0m.1-22h0m0 7h0m0 3.8h0m0 7.4h0m0 7.9h0m.1-29.8h0m0 .2h0m0 10.8h0m0 5.7h0m0 13.1h0m0 7.2h0m.1-40.5h0m0 17.4h0m0 7.1h0m0 1.6h0m.1-6.3h0m0 23.2h0m.1-47.7h0m0 13.6h0m0 18.9h0m0 4.9h0m0 8.1h0m.1-40.7h0m0 19.3h0m0 1.4h0m0 3.8h0m0 .1h0m0 14.7h0m.1-35.4h0m.1 4.8h0m0 16h0m0 2.9h0m0 7.5h0m.1-16.2h0m0 12.5h0m.1-22.1h0m0 7.6h0m0 .6h0m0 1.7h0m0 2h0m0 .4h0m0 10.1h0m0 1.7h0m.1-15.9h0m0 3.1h0m0 .7h0m0 3h0m0 4.2h0m.1-22.6h0m0 23.7h0m.1-31.6h0m0 14.3h0m0 2.9h0m0 7.4h0m0 1.6h0m0 5.3h0m.1-19.5h0m0 14.9h0m.1-20.2h0m0 29.6h0m.2-31.9h0m0 7.8h0m0 25h0m.1-28.9h0m0 9.1h0m0 9.5h0m0 14.1h0m0 3.1h0m.1-20.6h0m.1-20.2h0m0 29.4h0m0 .3h0m0 6.1h0m.1-33.9h0m0 34.7h0m0 .4h0m0 1.8h0m.1-7.8h0m0 2.9h0m.1-21.1h0m0 14.2h0m0 6.8h0m0 6.6h0m.1-28.3h0m0 9.6h0m.1-21.3h0m.1-5.8h0m0 3.2h0m0 2.6h0m0 1.2h0m0 3.5h0m0 15.7h0m0 .8h0m0 3.4h0m0 12.1h0m.1-18.6h0m0 4.3h0m0 2.8h0m.1-31h0m0 12.2h0m0 9h0m0 10.1h0m.1-23.7h0m0 .8h0m0 15.4h0m.1-5.6h0m0 8.8h0m.1-22.4h0m0 9.9h0m0 6.4h0m0 16.3h0m0 3.2h0m0 4.9h0m.1-26.8h0m0 15.8h0m0 4.5h0m0 .9h0m0 1.3h0m.1-34.2h0m0 1.2h0m0 3.1h0m0 .1h0m0 .2h0m0 2.6h0m0 3.7h0m0 5.9h0m0 9.6h0m.1-32.6h0m0 6.4h0m0 8.5h0m0 16.3h0m0 6.9h0m.1-31.9h0m0 8.9h0m.1-15.1h0m0 6.8h0m0 18h0m0 3.2h0m0 .6h0m0 2h0m0 6.9h0m.1-22.3h0m0 1.8h0m0 19.1h0m0 .6h0m.1-31.7h0m0 11.2h0m0 .8h0m.1-10.9h0m0 .2h0m.1 3.9h0m0 2h0m0 3h0m0 .3h0m0 11h0m0 3.3h0m0 14.2h0m0 2h0m.1-37h0m0 14h0m0 .7h0m0 12.8h0m0 2.7h0m0 5.9h0m.1-35.8h0m0 16.3h0m0 11.9h0m0 .5h0m.1-38.5h0m0 1h0m0 4.1h0m0 .6h0m0 .7h0m0 .9h0m0 16.4h0m0 16h0m0 3.1h0m.1-41h0m0 10.5h0m0 11.6h0m0 6.1h0m0 8.1h0m.1-31.2h0m.1 18.5h0m0 15.1h0m0 2.1h0m0 1.7h0m0 2.2h0m.1-37h0m0 2.1h0m0 29.4h0m0 3.5h0m.1-38.9h0m0 7.5h0m0 14.4h0m.1-16h0m0 21.8h0m.1-22.9h0m0 6.3h0m0 1.3h0m0 2.2h0m0 5.7h0m0 13.3h0m.1-39.3h0m0 5.5h0m0 16.4h0m0 4.9h0m.1-25.1h0m0 5h0m.1 9.2h0m0 10.4h0m0 3.7h0m0 16h0m.1-42h0m0 .8h0m0 2.3h0m0 33.7h0m0 4.3h0m.1-42.2h0m0 26h0m0 17.1h0m.1-27.2h0m0 6.3h0m.1-18.5h0m0 1.4h0m0 6.3h0m0 7.8h0m0 14.7h0m0 4.4h0m0 1.5h0m.1-40.1h0m0 6.4h0m0 26.7h0m0 6.2h0m.1-39.6h0m0 16.1h0m.1-11.4h0m0 32h0m0 4.3h0m.1-24.4h0m0 15.3h0m0 7.9h0m0 .8h0m.1-26.7h0m0 10.8h0m.1-23.6h0m0 13.1h0m0 20.9h0m0 1.4h0m0 4.7h0m.1-39.3h0m0 9.2h0m0 19.9h0m0 4.5h0m.1-25h0m0 9.9h0m0 9h0m.1-5.5h0m0 2.4h0m0 2.1h0m0 6.1h0m0 5.5h0m.1-23.2h0m0 5.1h0m0 9.8h0m0 10.2h0m.1-41.1h0m0 11.1h0m0 9.2h0m.1-17.7h0m0 9.6h0m.1 21.3h0m0 9.6h0m.1-38h0m0 20.5h0m.1-11.7h0m0 2.9h0m0 8.5h0m0 3.5h0m0 7.1h0m0 1h0m0 .4h0m.1-37.5h0m0 6.2h0m0 13.8h0m0 1.6h0m.1-11.3h0m0 7.3h0m0 5.9h0m.1-23.1h0m0 9.3h0m.1-5.6h0m0 3.1h0m0 8.3h0m0 .3h0m0 5.1h0m0 4.6h0m.1-4.2h0m0 9.4h0m.1-32.7h0m0 20h0m.1 8.6h0m0 14.7h0m0 2.2h0m.1-27.5h0m0 1.8h0m0 8.5h0m0 15.3h0m.1-14.6h0m.1-29.1h0m0 14.8h0m.1-2.1h0m0 21.1h0m0 1.8h0m0 .6h0m.1-34h0m0 8.4h0m.1-11.1h0m0 1.4h0m0 4.5h0m0 2.8h0m0 11.1h0m0 .5h0m0 1.1h0m0 19.4h0m.1-36.4h0m0 2.2h0m0 6.7h0m0 6.1h0m0 20.3h0m.1-33.4h0m0 13.3h0m0 1.4h0m0 6.1h0m0 15.4h0m.1-38h0m0 22.7h0m0 3h0m0 2.5h0m0 1.9h0m0 5.4h0m0 .3h0m0 1.7h0m0 2.6h0m.1-40.1h0m0 12h0m0 2.5h0m0 11.8h0m0 11.4h0m.1-35.6h0m0 20.9h0m0 11h0m0 7.1h0m.1-46.2h0m0 14.9h0m0 18.5h0m0 8.3h0m.1-40.5h0m0 3.8h0m0 1.7h0m0 1.3h0m0 6.9h0m0 20.1h0m0 2.8h0m.1-24.2h0m0 6.7h0m0 7.7h0m0 6.5h0m0 8.6h0m.1-27.4h0m0 17.1h0m.2-19.6h0m0 14.2h0m.1-21.8h0m0 2.6h0m0 2.9h0m0 11.4h0m0 0h0m0 .9h0m.1 4h0m0 12.9h0m.1-29.9h0m0 5.7h0m0 .7h0m0 10h0m0 4h0m0 .2h0m0 10h0m.1-3.8h0m0 1.5h0m0 7h0m.1-28.6h0m0 9h0m.1-8.5h0m0 12h0m0 15h0m.1-40h0m0 14.6h0m0 8h0m0 6.5h0m.1-14.4h0m0 8.9h0m0 .4h0m0 .4h0m.1 5.9h0m.1-11.4h0m0 12.5h0m.1-18.3h0m0 13.7h0m0 2.8h0m.1-29.2h0m0 1.1h0m0 17.2h0m0 .1h0m0 2h0m0 3.6h0m.1-23.3h0m0 10.8h0m0 1.7h0m0 6.6h0m.1-24.1h0m0 17.9h0m.1-12.8h0m0 10.6h0m0 2.8h0m0 12h0m.1-8.9h0m0 10.5h0m0 1.6h0m.1-13.2h0m0 6.5h0m0 5.7h0m.1-21.1h0m0 19.4h0m0 9.4h0m.1-34.4h0m0 6.4h0m0 13.1h0m0 1.3h0m0 10.1h0m0 3.5h0m0 2.6h0m.1-8.1h0m0 6.9h0m.1-16h0m0 2.3h0m0 1.7h0m0 9.3h0m0 .2h0m.1-20.3h0m0 13.6h0m.1-30.3h0m.1-1.2h0m0 2.3h0m0 29.8h0m0 10.7h0m.1-43.5h0m0 17.2h0m.1-7.4h0m0 6.2h0m0 18.5h0m.1-31h0m0 12.6h0m0 22.3h0m.1-38.3h0m0 6.2h0m0 21.2h0m0 2.5h0m0 8.8h0m0 3.5h0m.1-36.6h0m0 .8h0m0 4.4h0m0 22.2h0m0 2.7h0m.1-22.5h0m0 7.5h0m0 1.7h0m0 .6h0m0 3.6h0m0 2.2h0m0 7.9h0m.1-37.8h0m0 3.4h0m0 .9h0m0 3.2h0m0 18.1h0m0 14.5h0m0 2.5h0m0 .2h0m.1-31.9h0m0 8h0m0 4.1h0m0 6.1h0m.1-17.6h0m0 18.8h0m0 3.4h0m.1-29.6h0m0 24h0m0 6.1h0m.1-24.6h0m0 15h0m.1-23.5h0m0 19.6h0m.1-8.8h0m0 12.9h0m0 4.4h0m.1-1.4h0m0 .7h0m.1-27.2h0m0 .2h0m0 12.1h0m0 3.7h0m0 13.1h0m.1-18.5h0m0 18.7h0m.1 2h0m0 6.8h0m0 1.4h0m0 2.9h0m.1-29.4h0m0 .5h0m0 9.1h0m.1-23.8h0m0 5.4h0m0 .5h0m0 2.8h0m0 5.8h0m0 13.7h0m0 2.6h0m.1-14.2h0m0 14.9h0m.1-20.5h0m0 2h0m0 13.7h0m.1-7.1h0m0 10.3h0m0 2.1h0m.1-6.1h0m0 6.7h0m0 3.4h0m.1-31.7h0m0 .4h0m0 9h0m0 12.4h0m0 9.2h0m0 .1h0m0 7.5h0m.1-38.4h0m0 15.6h0m0 1.6h0m0 12.3h0m.1-26h0m0 3.3h0m0 5.7h0m0 22.5h0m0 2.1h0m.1-33.3h0m0 15.2h0m0 16.6h0m.1-26.3h0m0 14.6h0m0 2.5h0m0 9.3h0m.1-25.4h0m0 17.1h0m.1-17.7h0m0 11.6h0m0 4.6h0m0 12.7h0m.1-33.9h0m0 .4h0m0 11.9h0m0 7.4h0m0 1.8h0m0 2.7h0m0 6.1h0m.1-25.3h0m0 9.8h0m0 13.9h0m.1-25h0m0 .7h0m0 21.3h0m.1-13.8h0m0 18.5h0m.1-19.9h0m.1-8.8h0m0 2.9h0m0 18.5h0m0 2.3h0m0 1.2h0m.1-33.4h0m0 1.8h0m0 2.3h0m0 8.7h0m0 9h0m0 2.7h0m.1-5.9h0m0 4.5h0m.1-24.7h0m0 15.1h0m0 9.7h0m0 16.6h0m.1-34h0m0 8.4h0m0 17.3h0m0 7.1h0m.1-19.2h0m0 .9h0m0 6.1h0m0 14.1h0m.1-25.9h0m0 23.5h0m.1-22.9h0m.1 7.2h0m0 16.2h0m.1-11h0m.1-25.4h0m0 12.3h0m0 4.9h0m.1 2.3h0m0 2.7h0m0 9.7h0m.1-34h0m0 3.9h0m0 16.4h0m0 .5h0m0 7.1h0m0 6.4h0m.1-10.4h0m0 1.3h0m0 2.2h0m.1-4.7h0m0 9.9h0m.1-33.2h0m0 7.8h0m0 2.8h0m0 1.5h0m0 15.2h0m0 4h0m0 5.1h0m0 4h0m.1-26.8h0m0 23.6h0m.1-11.9h0m0 10.5h0m.1-32.5h0m0 3.8h0m0 26.9h0m.1-30.1h0m0 27.4h0m0 7.5h0m.1-38.7h0m0 15.8h0m0 7.9h0m0 0h0m0 9.4h0m.1-33.1h0m0 18.4h0m0 4.1h0m.2-13.2h0m0 1.8h0m0 .4h0m0 1.6h0m0 17.4h0m.1-15.6h0m0 2.2h0m0 0h0m0 5.6h0m0 4.9h0m0 9.4h0m0 2.4h0m.1-27.8h0m0 5.9h0m0 4.2h0m0 6.8h0m0 2.8h0m0 2.4h0m.1-31.1h0m0 3.3h0m0 19.4h0m0 1.9h0m.1-26.3h0m0 11.4h0m0 10.1h0m0 1.4h0m0 9.9h0m0 2.3h0m0 3.7h0m.1-38.4h0m.1 .5h0m0 19.2h0m0 3.9h0m0 11.1h0m.1-26.1h0m0 11h0m0 17h0m.1-26.2h0m0 4.6h0m0 19.1h0m.1-34h0m0 19.3h0m0 4.1h0m0 3.6h0m.1-15.2h0m0 8.5h0m0 4h0m0 2h0m0 6.6h0m0 .2h0m0 .9h0m0 .3h0m.1-18.3h0m0 16.2h0m.1-17.3h0m0 1.9h0m0 .5h0m0 5.1h0m.1-14.8h0m0 3.3h0m0 4h0m0 3.5h0m0 7.5h0m0 6.4h0m0 .9h0m.1-31.1h0m0 13.4h0m0 9.3h0m.1-17.9h0m0 .2h0m0 8.7h0m0 9h0m.1-26.2h0m0 7.1h0m0 2.4h0m0 5.1h0m0 1.4h0m0 .8h0m0 13.6h0m.1-17.7h0m0 2.8h0m0 5.6h0m.1-19.6h0m0 9.7h0m0 5.8h0m0 9.8h0m.1-14.5h0m0 5.8h0m0 1.8h0m0 6.1h0m0 4.3h0m0 2h0m0 2.3h0m.1-31.4h0m0 3.6h0m0 6.8h0m0 12.1h0m0 6.8h0m.1-17.1h0m0 1h0m0 6.7h0m0 7.1h0m.1-17.6h0m0 8.7h0m0 5.8h0m0 2.7h0m.1-24.5h0m0 11.6h0m0 17h0m.1-25.7h0m0 10.8h0m0 5.7h0m0 6.6h0m0 2.9h0m0 .3h0m.1-26.5h0m0 9.9h0m0 12h0m.1-3.4h0m0 3.3h0m0 3.8h0m.1-29.9h0m0 29.6h0m0 .5h0m0 2.2h0m.1-29.3h0m0 1.1h0m0 5.6h0m0 4.9h0m0 1h0m0 3.1h0m.1-21.2h0m0 1.5h0m0 .6h0m0 14.6h0m.1-12.8h0m0 21.1h0m0 .7h0m0 1.7h0m.1 0h0m0 .5h0m.1-28.2h0m0 11.4h0m0 4.4h0m.1-10.7h0m0 3.8h0m0 9.5h0m.1-16.3h0m.1 9.1h0m0 13.1h0m.1-19.3h0m0 1.3h0m0 22.6h0m.1-25.4h0m0 5.6h0m0 .2h0m0 10.2h0m0 2.5h0m0 4.5h0m.1-25.7h0m0 12.2h0m0 11.7h0m.1-17.1h0m.2-2.9h0m0 11.6h0m.1-12.6h0m.2 27.6h0m.2-28.5h0m0 6.3h0m0 3.3h0m0 5h0m0 6h0m0 7.7h0m.2-28.8h0m0 12.8h0m0 .8h0m0 1.2h0m0 .9h0m0 5.5h0m0 1.1h0m.1-9.3h0m0 5.7h0m0 3.7h0m.1-4.1h0m0 10.2h0m.1-15.8h0m0 16.8h0m.2-16.7h0m.1 10.9h0m0 4h0m.2-19.1h0m.1-6.8h0m0 7.2h0m0 20.9h0m.1-27.5h0m0 12.5h0m0 14.1h0m.1-23.7h0m0 8.8h0m0 1.4h0m0 1.7h0m.4-.5h0m0 6.5h0m.2-4.3h0m0 .8h0m0 2.4h0m.2 2.3h0m.6-2.7h0m.1 2.3h0m.1-1.3h0" fill="none" stroke="#c0c0c0" stroke-width="1.75" stroke-linecap="round"/>
</g></defs>
<use href="#grayC" transform="translate(0 16.6)"/>
<path d="M601.1 50.7h0m.4 2.2h0m.3-2.6h0m.3-2.8h0m.5-.6h0m.2-3.9h0m.9-6.2h0m.3 23h0m.3 1h0m.1-16.7h0m.1 17.3h0m.2-16.3h0m.4 .9h0m.6-6.8h0m0 6.1h0m.1-11.1h0m0 5.4h0m.1 3.8h0m0 6h0m.1-26.4h0m0 44h0m.3-48.1h0m0 37.1h0m.5-33.9h0m0 11.3h0m.2 29.3h0m.1 4.2h0m.5-43.2h0m.5 14h0m.1 7.7h0m.2 3.9h0m.2-3.1h0m.4 22.7h0m.2-11.2h0m.1 .9h0m.5-2.7h0m.3-20.1h0m.2-4.1h0m.2 21.9h0m.2-25h0m0 4.6h0m.3 31h0m0 1.1h0m.1-27.1h0m.1 21.9h0m.2-34.9h0m.1 44.5h0m.2-10.2h0m.2-14h0m.2-19.3h0m0 18.1h0m0 27.5h0m.1-11.4h0m.3-4.2h0m.1-31.6h0m0 20h0m.1-9.9h0m0 38.9h0m.3-4.1h0m.2-27.8h0m.1 28.2h0m.1-12.3h0m0 1.8h0m0 1.5h0m.5 11.5h0m.2-41.9h0m.3 3.2h0m.1 12.8h0m0 9.5h0m.1-21.8h0m.1 15.3h0m.3 21.5h0m.1 1.2h0m.2-43.9h0m.2 30.5h0m0 12.9h0m.2-23.3h0m.1 26.6h0m.2-40.5h0m0 .2h0m0 21.8h0m.1-33h0m0 25.9h0m.1-.8h0m0 .3h0m0 24.4h0m.4-9.1h0m0 2.4h0m.2 4h0m.3-46.3h0m0 31.3h0m.2 18.6h0m.1-37.2h0m0 .9h0m0 38h0m.3-54h0m0 8.9h0m.1 8.7h0m.1-6.1h0m.1 16.7h0m0 4.7h0m.1-7.5h0m0 .6h0m.2 5.2h0m.1 .9h0m.1-10.1h0m.1-17.3h0m.1 17.1h0m.4-20h0m.5 11h0m0 19.6h0m0 7.8h0m.2-3.7h0m.6-15.1h0m.1-9.9h0m.3 1.5h0m.1-4.1h0m0 26.2h0m.1-17.6h0m.3-12.1h0m.1 35.5h0m.1-22.6h0m.1 4.4h0m.2-20.4h0m.2 15.5h0m0 20.1h0m.1-35.1h0m.1 38.4h0m.3 11.1h0m.1-21.6h0m.6-20.3h0m.1 31.1h0m.3-10.1h0m.2 5h0m.4-28h0m.1 45.2h0m.2-13.2h0m.2-22.4h0m.2 5.4h0m1.1-5h0m0 20.8h0m.7-3.4h0m.2 6.8h0m.1-36.6h0m0 27.3h0m.2 20.2h0m.3-39.5h0m.1 27h0m0 7.3h0m.9-3.3h0m.1-41.6h0m.3 1.2h0m.1 27.8h0m.6-16.7h0m0 15.1h0m.2 13.1h0m.1-42.7h0m.7 19.2h0m.2-20.4h0m.3 9.9h0m0 3.8h0m.4 22.2h0m0 5.3h0m.1-12.8h0m.8-9.1h0m.1-9.6h0m0 16.4h0m.3-10.7h0m.3 32.8h0m.1-17.3h0m.4 10h0m.1-27.9h0m.1 26.5h0m.6 8.4h0m.2-19.2h0m.1-21.9h0m.2 14.1h0m0 8.8h0m0 11.1h0m.1 10.9h0m.1-49.9h0m.2-.6h0m.1 17h0m.3 13.8h0m.2 1.2h0m.1 23.2h0m.1-46.1h0m.1 19.9h0m0 5.1h0m.3 .8h0m.3-4.2h0m0 1h0m.2 13h0m.1-44.6h0m.3 24.9h0m.1 .9h0m.1 6.6h0m.1-37.6h0m.3 28.1h0m0 17.4h0m.4-16.9h0m.2-18.4h0m.1 44.2h0m.1-39.6h0m0 26.6h0m.9-38.7h0m.4 9h0m.4 46.1h0m.1-40h0m.2 .3h0m.1 18.3h0m.3-7.4h0m.1 1.1h0m.3-9.2h0m.1 2.5h0m0 12.7h0m.4 12.7h0m.4-8h0m.1-20.7h0m.4-4.2h0m0 22.6h0m.1-17h0m0 23h0m.1-14.9h0m0 5.5h0m0 15.3h0m.5-45.9h0m.4 43.5h0m.4-8.8h0m.2-13.3h0m.1 17.4h0m.2-14.9h0m.1-9.8h0m.1 1.2h0m.2-11.1h0m0 7.2h0m0 17.6h0m0 17.7h0m.1-13.1h0m0 3.6h0m.4-9.9h0m.1 3.7h0m.1 5.1h0m.1 13.3h0m.2-17.1h0m.1 15.7h0m.1-16.5h0m.1 19.4h0m.2-17.6h0m0 3.2h0m.1-6.1h0m0 19.9h0m.1-45h0m.1-4.7h0m0 12.3h0m.1-9.6h0m0 4.1h0m.1 15.5h0m.1-11.4h0m.2-1.8h0m0 36.8h0m.1-11.9h0m.1-10.4h0m.1-11.3h0m.1 12.5h0m0 1h0m.1-12.1h0m.1-12.6h0m0 34.7h0m.1-7h0m.3 5.9h0m.4 14.2h0m.1-13.8h0m.1-12.5h0m0 8.5h0m.1 2.6h0m.1-9.4h0m.2-15.4h0m.1 7.4h0m.1 7.2h0m0 15.7h0m.1 3.8h0m.1-38.8h0m0 27.2h0m.4-30.2h0m0 35h0m0 11.2h0m.1-47.6h0m0 31.4h0m.1 8.3h0m0 .7h0m.1-12.7h0m0 .3h0m.1-29.9h0m0 45.7h0m.1-8.4h0m.1 4.9h0m.4-16.3h0m0 24.9h0m0 .5h0m.1-30.7h0m.1 10.5h0m0 17.4h0m.1-24.9h0m0 6.8h0m0 3.5h0m.1-19.8h0m0 3.4h0m0 8.4h0m0 14.4h0m0 12.8h0m.1-21.9h0m0 .1h0m0 4.2h0m0 2.7h0m0 3.8h0m.2 1.6h0m.3-10.9h0m.1-.1h0m0 4.4h0m0 4.5h0m.1-25.6h0m0 36.7h0m.2-13h0m.1-27.1h0m0 3.3h0m.2 20.8h0m.1-34.1h0m0 47.8h0m.1-10.3h0m.2-20.3h0m.2-19h0m0 28.4h0m.1-24.7h0m0 25.6h0m.1-16.3h0m0 .8h0m.1 7.4h0m0 12.4h0m0 6.9h0m.4-5.8h0m.2 1.1h0m.1-12.6h0m.1-1.9h0m0 17.3h0m.2 8.6h0m.2-33.9h0m.2 19.6h0m.2-6.2h0m0 5.6h0m.3-14.7h0m.2-1.8h0m0 7.6h0m0 11.1h0m.2-13.4h0m.1-6.7h0m.5 15.5h0m0 10.3h0m0 4h0m.1-14.7h0m0 6.4h0m0 2.3h0m.1-20.2h0m.1 32.3h0m.4-30.3h0m0 2.7h0m0 7.5h0m.1 8.2h0m.1-11.7h0m.1 23.7h0m.1-23.2h0m0 1.9h0m.1 10.3h0m.1-15h0m0 3.8h0m.1-3.5h0m0 5.7h0m.1-20.2h0m0 17.4h0m0 7.1h0m0 1.6h0m.1-6.3h0m0 23.2h0m.1-47.7h0m0 32.5h0m.1-27.7h0m0 24.5h0m0 .1h0m.1-20.7h0m.1 4.8h0m0 16h0m0 2.9h0m.2-18.3h0m0 7.6h0m.1 .6h0m.1 12.1h0m.1-14.4h0m.2 19.1h0m.3-18.9h0m0 23.6h0m.4-6.7h0m.1-18.2h0m0 14.2h0m0 6.8h0m.3-39.2h0m0 26.2h0m0 .8h0m0 3.4h0m.1-6.5h0m0 7.1h0m.1-31h0m0 12.2h0m0 9h0m0 10.1h0m.1-23.7h0m.2 29.6h0m.2-29.2h0m0 6h0m0 3.7h0m0 5.9h0m.1 8.2h0m.2-2.6h0m0 2h0m.1 5.5h0m.2-29.8h0m.1 20.2h0m0 3.3h0m.1-6.8h0m0 .7h0m0 21.4h0m.2-44.6h0m0 22.7h0m0 19.1h0m.1-30.5h0m.2 30.3h0m0 3.9h0m.1-5.5h0m.1-13.5h0m.1-16h0m.2-11.6h0m.2 26.3h0m0 3.7h0m.1-22.9h0m.2 18h0m.1-10.8h0m0 26.9h0m.3-2.2h0m.1-20.1h0m0 15.3h0m.1-18h0m.1-12.8h0m0 13.1h0m.1-12.3h0m0 9.2h0m0 19.9h0m0 4.5h0m.2-9.2h0m.1-9.5h0m0 5.1h0m0 20h0m.1-20.8h0m.1-8.1h0m.1 21.3h0m.2-19.6h0m0 2.9h0m0 19.1h0m0 1h0m.1-17.1h0m0 1.6h0m.1-4h0m0 5.9h0m.1-13.8h0m.1-5.6h0m0 16.8h0m.2-22.9h0m.2 19.8h0m0 23.8h0m.1-14.6h0m.2-16.4h0m.2 6.6h0m.1-.4h0m.1 1.6h0m.1 6.2h0m0 3h0m0 11.8h0m.2-14.5h0m0 11h0m.1-39.1h0m0 33.4h0m.1-18.5h0m.1 5.4h0m.6 6.5h0m.1 10.4h0m.1-20.1h0m.1 12.5h0m.1-10.4h0m0 14.5h0m.1-14.4h0m0 8.9h0m0 .4h0m0 .4h0m.1 5.9h0m.3-11.5h0m.1-6.9h0m.2-10.7h0m.3 6.5h0m.1 .8h0m0 28h0m.2-10.6h0m.1 2.8h0m.3-32.2h0m0 17.2h0m.1-7.4h0m.4 11h0m0 1.7h0m0 4.2h0m0 2.2h0m0 7.9h0m.1 2.3h0m.1-21.2h0m.4-17.8h0m0 19.6h0m.1-8.8h0m.5 2.9h0m.2 1.9h0m0 14.9h0m.1-4.8h0m.3-22.4h0m0 9.4h0m0 12.4h0m0 9.2h0m0 .1h0m.1-13.7h0m.1-13.7h0m.3 23.9h0m.1-6.1h0m.1-4.3h0m0 7.4h0m0 1.8h0m.3-9.6h0m.2 11.2h0m0 2.3h0m.2-13.6h0m.1-5.1h0m.1-7.7h0m0 25.7h0m.2 6.6h0m.5-4h0m.1-13.7h0m0 14h0m.1-10.4h0m0 3.5h0m.1-4.7h0m.1-15.5h0m.5-7.7h0m0 23.7h0m0 0h0m0 9.4h0m.1-14.7h0m.2-7.3h0m.1 25.9h0m.1-3.3h0m.1-8.4h0m0 1.9h0m.1-4.8h0m.2-1.4h0m0 15h0m.1 1.9h0m.1-2.5h0m.1-10.6h0m.5 1.4h0m.2-9.4h0m0 13.6h0m.1-17.7h0m0 8.4h0m.1 5.7h0m.1-14.5h0m.1-9.1h0m.1 13.2h0m.1-3.8h0m0 8.7h0m.2-2.3h0m0 5.7h0m0 9.8h0m.1-4.6h0m.1 3.7h0m.1 2.4h0m.1-22.6h0m0 4.9h0m0 1h0m.3 9.3h0m.1-11.9h0m.4-10.8h0m.1 14.5h0m.1-6.5h0m.3 3.3h0m1 15.5h0m.7-14.6h0m0 14.1h0m.7-6.9h0m.2 2.3h0" fill="none" stroke="#c2daf0" stroke-width="1.6" stroke-linecap="round"/>
<text x="645.5" y="12.6" font-size="8.39" textLength="58.78" lengthAdjust="spacingAndGlyphs" text-anchor="middle" fill="#1a1a1a">Screening T cells</text>
<use href="#grayC" transform="translate(0 107.5)"/>
<path d="M601.2 142.7h0m.1 1.9h0m.1-1.9h0m.4-3.3h0m0 6.7h0m.4-14.3h0m.1 16.6h0m.1-13.1h0m.1 7.8h0m.1-7.2h0m0 .6h0m.2-2.6h0m.4-2.5h0m0 11h0m0 2.4h0m0 7.5h0m.3-3.3h0m0 2.6h0m.1-14.7h0m.1-4.4h0m.1-5.5h0m0 14.5h0m.1-30h0m0 40.8h0m.2-40.2h0m0 20.2h0m.1-4h0m.1-14.6h0m0 36.1h0m.1-36.7h0m0 21.9h0m.1 6.9h0m0 10.4h0m.1-8.2h0m0 9.1h0m.1-39.6h0m0 22.4h0m0 20.6h0m.1-16.6h0m0 18h0m.2-42.8h0m0 24.8h0m0 11h0m.1-37.4h0m0 17h0m0 28.2h0m.1-32.4h0m0 1.2h0m0 24.7h0m.1-41.9h0m0 13h0m.2-10.3h0m0 39.8h0m.1-43h0m0 6.4h0m.1-3.6h0m0 10.8h0m0 6.6h0m0 10.7h0m.1-15.7h0m0 5.4h0m.1-17.9h0m0 .2h0m0 21.5h0m.1-20.4h0m0 .7h0m0 40h0m0 1.7h0m0 1.6h0m.1 1.4h0m.1-33.8h0m0 33.8h0m.1-45.7h0m.1-1.6h0m0 1.5h0m0 17.3h0m0 22.3h0m.1-41.3h0m0 9.1h0m0 39.4h0m.1-47.7h0m0 .7h0m.1 .8h0m0 1h0m0 8.2h0m0 22.5h0m0 13.7h0m.1-47.6h0m0 1.1h0m0 10.1h0m0 33h0m0 2.7h0m.1-42.4h0m0 7.4h0m0 3.1h0m.1-13.7h0m0 39.6h0m0 9.5h0m.1-42.7h0m0 25.7h0m0 12.5h0m.1-32.7h0m0 17.4h0m0 9.5h0m.1 9.6h0m.1-39h0m0 13h0m0 2.7h0m.1-24.9h0m0 2.2h0m.1-1h0m0 6.1h0m0 28h0m.1-35.3h0m.1-1.6h0m0 .7h0m0 14.5h0m0 27.2h0m.1-41.2h0m0 35h0m.1-32h0m0 45.2h0m.1-7.9h0m.1-25.3h0m0 3.8h0m.3 23.6h0m0 2.3h0m.1-7.8h0m.1-35.8h0m.1 45.7h0m.1-42.4h0m0 .3h0m.1-4.7h0m0 1.4h0m0 13.8h0m0 30.4h0m0 1.2h0m.1-42.8h0m0 34.9h0m.2-40.7h0m0 41h0m.1-29.9h0m0 15.7h0m.2-27.8h0m0 39.7h0m.1 5.8h0m.1-24h0m0 15.1h0m.1-28.9h0m0 7.5h0m.1-2.2h0m0 40.5h0m.1-31h0m0 7.6h0m.3 1.7h0m0 12.2h0m0 7.4h0m.1-27.6h0m.1-12.4h0m.1 42.4h0m.1 .7h0m.1-23.9h0m.1-25.7h0m0 40h0m0 1.1h0m.1-27.1h0m.1-10h0m0 31.9h0m.1-36.4h0m.1 39.4h0m.1-11h0m0 17.6h0m0 3.1h0m.1-45.9h0m.2 34.3h0m.2-34.1h0m0 32.7h0m.1 12h0m.1-14h0m0 2.6h0m.1 9h0m0 3.6h0m.1-27.1h0m.1 10.3h0m.1-31.4h0m0 25.8h0m.1-19.3h0m0 6.9h0m0 33.8h0m0 1.6h0m.1-3h0m.3-48h0m.1 12.3h0m.1 34.9h0m.1-12.2h0m0 12.7h0m.1-21.5h0m.5 14.7h0m.1-33h0m.1 10.2h0m0 28.7h0m.3-22.8h0m.1-12.4h0m.1-12.4h0m0 21.7h0m0 10.7h0m0 16.9h0m.1 3.8h0m.1-2.5h0m.1-47.3h0m.3 10.6h0m0 39.3h0m.1-27.7h0m.4 28.1h0m.1-39.3h0m.1-5.8h0m.1 .5h0m0 33.1h0m.2-35.8h0m.1-1.1h0m0 45.9h0m.1-32.3h0m.1-19.4h0m0 33.3h0m.1 18.8h0m.1-52.1h0m0 5.5h0m0 36.4h0m0 10.5h0m.1-49.9h0m.1 24.5h0m.2-4.7h0m.1-10.4h0m.1-11.9h0m.1 37.9h0m.2-37.2h0m0 8.9h0m0 17.2h0m.1 23.9h0m0 4.1h0m.5-54.8h0m.1 5h0m0 49.2h0m.1-49.7h0m0 3h0m0 2.6h0m0 25.9h0m0 16.4h0m.1-4.1h0m.1-25.8h0m.1-22.2h0m.1 45.3h0m.1-44.2h0m0 53.6h0m.2-53.4h0m0 26.8h0m.1-7.3h0m.1-7.1h0m.2 26.9h0m.1-5.8h0m.1-10.8h0m.2-21.3h0m.1 1.3h0m0 8.2h0m.2 5.7h0m0 37h0m.1-54.6h0m.2 15.6h0m.1 18h0m.1-28h0m.1 4.5h0m0 22.1h0m0 8.2h0m0 13.7h0m.1-2.3h0m.3-48.7h0m.1-2.1h0m.4 1.4h0m.1 52.8h0m.3-13.7h0m.3 4.4h0m0 7.1h0m.1-1.2h0m.1-42.3h0m0 33.3h0m.2-39.9h0m0 51.9h0m.1-39h0m.1-6.2h0m0 41.2h0m.1-34.6h0m0 36.1h0m.1-35.5h0m.1 35.4h0m0 .4h0m.1-48.2h0m0 3.6h0m0 19.7h0m.3-12.9h0m0 35.8h0m0 .5h0m.4-44.3h0m0 45.8h0m.1 1.1h0m.2-53h0m0 19.5h0m.2-19.2h0m.1 26.4h0m0 3.1h0m.5-5.8h0m0 .7h0m0 27.2h0m0 4.3h0m.1-7.2h0m0 3.3h0m.1-45.8h0m0 7.3h0m0 39.5h0m.2-50.9h0m.3 3.8h0m0 32.4h0m.4-5h0m0 8.7h0m.1-1.2h0m.1-38.6h0m.1 53.7h0m.1-34.5h0m0 31h0m.4 .1h0m0 .1h0m.1-50.3h0m.3 52.6h0m0 .6h0m.1-.5h0m.2-53.9h0m.1 37.5h0m0 16.7h0m.1-5.2h0m.1-48.8h0m.1 38h0m.3-17.3h0m.1-19.9h0m.1 51.4h0m.1-49.8h0m.2 6.4h0m0 42.8h0m.1-52.4h0m0 1.4h0m.1 18.2h0m.1 2.2h0m.2-22.2h0m0 51.7h0m0 1.1h0m.1-25h0m0 27.8h0m.1-12.7h0m.4-8.8h0m0 13.9h0m.1-37.5h0m.1 41.9h0m.1 .1h0m.1 3.6h0m.1-44.5h0m0 5.5h0m0 21.4h0m.1-7.1h0m.1 24.3h0m.1-.8h0m.2-51.7h0m0 14.2h0m.2-19h0m0 28.2h0m0 24.7h0m0 .6h0m.3-40.8h0m.2 39.8h0m.1-52.3h0m0 29.1h0m.1-29.6h0m0 43h0m.4-32.4h0m.2-10h0m.2 51.8h0m.2-49.2h0m0 2.2h0m.1-5.9h0m0 32h0m.1 23.6h0m.2 1.2h0m.1-45.1h0m.1-8.7h0m0 54.5h0m.1-57.1h0m.1 40.6h0m.1 8.9h0m.2-26.4h0m.1-24.9h0m.2 3h0m0 16.7h0m.2-13.9h0m0 2.4h0m0 49.1h0m.2-55.9h0m0 4h0m.2-.5h0m.2-.9h0m0 27.4h0m0 7.9h0m0 3.8h0m.1-22.1h0m.1 25.1h0m.1-35.5h0m.2 24.6h0m.1-35.2h0m0 35.4h0m.1 23.8h0m.1-46.2h0m0 .1h0m0 37.5h0m.5-50h0m.3 25.4h0m.2-23.7h0m0 1.8h0m.3 53.4h0m.2-54.4h0m0 33.4h0m.1 2.5h0m.1-35.4h0m0 53.8h0m.4-47.1h0m.2-9.1h0m0 6h0m.1-7.4h0m.3 41.4h0m.3-40.7h0m0 52h0m.2-31.8h0m.2-10.6h0m0 46.1h0m0 1.2h0m.1-48.2h0m0 21.1h0m.1-28.7h0m.1-2.6h0m0 .3h0m.1 4.3h0m.1 5.1h0m.1 23.8h0m.1-5.9h0m0 29.2h0m0 1.2h0m.1-29.1h0m0 29.8h0m.1-51.5h0m.2 48.3h0m.1-24.1h0m.1-29.5h0m.1 50.5h0m.2-49.3h0m.2 11.7h0m.2-5.5h0m.3 31.9h0m0 13.3h0m.2-37.5h0m.2-17.1h0m.1 56.9h0m.4-39.3h0m.1-10.2h0m.1 39.9h0m.1-48.1h0m0 1.5h0m0 2.3h0m0 54h0m0 1.2h0m.4 .1h0m.1-55.7h0m0 15.3h0m.1-.1h0m.1-13.3h0m.1 3.8h0m0 15.7h0m.2-11.9h0m0 39.4h0m.2 3.2h0m.1-49.3h0m0 51.5h0m.1-39.8h0m0 .8h0m.3 23.7h0m0 13.2h0m.1-21.6h0m.2-31.8h0m.3 4.7h0m.1 2.6h0m0 42.5h0m.1-47h0m0 33.9h0m0 3.6h0m.1-4.2h0m0 15.8h0m.1-53.8h0m.9 36.5h0m.1 19.4h0m.1-37.5h0m.3-10.1h0m0 25.9h0m.1-28.6h0m0 12.3h0m0 37.8h0m0 1.1h0m.1-43.9h0m.4-12.7h0m0 2.6h0m.6 54.4h0m.2-57.1h0m0 26.6h0m.1 26h0m.2-40.2h0m.3 3.2h0m.3-8h0m.3-1.8h0m.1 1.1h0m.3-4.4h0m0 24.5h0m.1 28.5h0m.3-2.6h0m0 3.3h0m.1-54.3h0m.1 5.2h0m0 12.9h0m.2-12.5h0m.1-1.6h0m0 46.1h0m.4 4.1h0m.1-39.9h0m0 38.5h0m.2-12.1h0m.2 7.2h0m.1-46.5h0m0 32.4h0m.1-24.7h0m.1 21.5h0m.2-31.1h0m0 27.7h0m.2-8.9h0m0 23.8h0m0 9.5h0m.3-10.5h0m0 12h0m.1-52.8h0m0 3.3h0m0 .1h0m0 14.5h0m.1-11.5h0m.1 2.1h0m.1-4.8h0m.1 31.8h0m.1-17.4h0m.2 35.2h0m.1-5.7h0m.2-31.9h0m.2 5.2h0m.1-16.4h0m.2 14.9h0m0 30.9h0m.1-36h0m.1 38.9h0m0 1.3h0m.4-36.6h0m.5 .7h0m.3 9.2h0m0 23.9h0m.6-35.4h0m0 22.7h0m.3-32h0m.1 7.3h0m0 34.8h0m.1-2.3h0m.1-32.9h0m0 26.2h0m.2 12.1h0m0 2.2h0m0 .1h0m.1-40.1h0m.1 35.8h0m.1-41.2h0m.1 19.7h0m.1 26.5h0m.3-27.4h0m0 3.2h0m.2-4.7h0m.1 6h0m.1 4.3h0m.2-29.2h0m0 37.4h0m.5-11h0m.1-4.1h0m.4 16.8h0m.3 7.8h0m.3-2h0m.2 1.6h0m.3-45.8h0m0 5.8h0m.3 1.8h0m.2-3h0m0 9.9h0m.5-7.1h0m0 18h0m.1-7.8h0m.3 29h0m.1-.9h0m.1-35.8h0m.1-9.8h0m.1 1.8h0m0 36.3h0m.2 2.4h0m0 3.8h0m.1 .2h0m.4-44.6h0m.3 4.8h0m.1 41.2h0m.2-3.3h0m.1-40.1h0m0 39.3h0m.1-39.6h0m.1 4.7h0m0 32h0m.1 3.1h0m.2-4.7h0m.1 .4h0m.2-11.6h0m0 10.6h0m.4 9.4h0m.2-14.3h0m.3-28.6h0m.1 3.7h0m0 3.1h0m0 8.3h0m0 5.4h0m.2-22.9h0m.1 45.5h0m.1-1.9h0m.2-43.7h0m.1 12.7h0m.2 7.1h0m.2 .7h0m.1-16.5h0m0 35.8h0m0 4.3h0m.1-40.1h0m0 12h0m0 14.3h0m.1 14.8h0m.1-31.3h0m.1-13.7h0m0 3.8h0m.1 8.6h0m.4-8h0m.2 35.4h0m.1 4.7h0m.6-9.7h0m.1-18.3h0m.1-12.7h0m0 18.3h0m0 .1h0m0 2h0m.2-24.7h0m.1 18.5h0m.7 14.1h0m.1-30.3h0m.1-1.2h0m0 42.8h0m.4-43.4h0m0 38.7h0m0 3.5h0m.2-13.4h0m.1 12.7h0m.3-8.4h0m.4-5.7h0m.1-27.2h0m.2 38.1h0m.2-33.9h0m0 25.4h0m.2-4.1h0m.3-13h0m0 29.2h0m.1-38.4h0m0 29.5h0m.1 7.6h0m.4-15.8h0m0 17.3h0m.1-33.5h0m0 19.3h0m0 1.8h0m.1-6.7h0m.4-10.2h0m.1 1.4h0m0 9h0m0 2.7h0m.2-26.1h0m.1 33.1h0m.6-12.1h0m.5 20.5h0m.1-26.8h0m.3 25.2h0m.1-38.7h0m0 15.8h0m.1 2.6h0m.3-3.5h0m0 2.2h0m0 5.6h0m0 16.7h0m.1-27.8h0m0 5.9h0m0 4.2h0m.1-19.1h0m.1-1.7h0m0 22.9h0m0 12.2h0m0 3.7h0m.1-38.4h0m.1 .5h0m.2 14.5h0m.2-3.1h0m.3 14.1h0m0 6.4h0m.1-7.5h0m.2-26.2h0m0 7.1h0m0 2.4h0m0 5.1h0m0 2.2h0m0 13.6h0m.2-28.9h0m0 15.5h0m.1-4.7h0m0 7.6h0m0 14.7h0m.1-31.4h0m0 3.6h0m.2 5.8h0m.1-7.3h0m0 11.6h0m0 17h0m.1-25.7h0m0 26h0m.1-26.2h0m.1 18.5h0m.1 7.3h0m0 2.2h0m.1-28.2h0m0 14.6h0m.1-19.1h0m.6 21.9h0m.1-19.3h0m.1-1.5h0m0 16h0m.1-6.5h0m.3-8.3h0m.3 26.6h0m.4-14.2h0m0 7.5h0m.1 .1h0m.1 6.1h0m.1-15.8h0m0 16.8h0m.3-5.8h0m.2-15.1h0m.1 .4h0m.1-6.6h0m.1 2.9h0m0 10.2h0m.6 4.2h0m0 2.4h0m1 .6h0" fill="none" stroke="#91a2d2" stroke-width="1.6" stroke-linecap="round"/>
<text x="649.4" y="102.3" font-size="8.39" textLength="44.65" lengthAdjust="spacingAndGlyphs" text-anchor="middle" fill="#1a1a1a">M2D1 T cells</text>
<use href="#grayC" transform="translate(0 195.8)"/>
<path d="M603.2 241.5h0m1.3-.9h0m.8-13.5h0m.3-27.1h0m.6 47.6h0m.1 2.3h0m.1-34.3h0m.3-13.2h0m.1-1.1h0m0 10.1h0m.2-9.9h0m0 32.5h0m.1-33.7h0m.2 21.7h0m0 27.9h0m.2-48.2h0m.4-2.2h0m1.3 9.5h0m.7 19.3h0m1.1-8.7h0m0 33.4h0m1.3-14.1h0m.8 5.4h0m.3-7.5h0m.1-34.1h0m.1 3.9h0m0 26.2h0m.1-5.6h0m1.8-22.1h0m.1 25.1h0m.1 15.6h0m.4-18.1h0m.5-27.3h0m0 33.4h0m.2-3.8h0m.4-8.2h0m.1-13h0m.1 8.3h0m0 11.9h0m.1 8.2h0m0 8.2h0m.2-18.2h0m.3-.1h0m.1-.6h0m.3 .2h0m.1-7h0m.1 29h0m.1-28h0m.3 25.6h0m.1-34.6h0m.2 9.8h0m.1-6.3h0m.2 .7h0m.1 1.8h0m.5 25.1h0m.1-13.7h0m.2-22.6h0m.1 4.4h0m.1 6.6h0m.1-3.4h0m0 29.2h0m.1-10.1h0m.1-14.6h0m.3-14.5h0m.3 19.7h0m.2-3.1h0m.2 18.3h0m.1-35.1h0m.1 19.1h0m.1-8.2h0m.3 25.3h0m.6-11.7h0m.1-10.6h0m0 .1h0m0 37.9h0m.3-36.1h0m.1 9h0m.1 8.8h0m0 11.1h0m.1-35.5h0m.1 15.5h0m.2-12.8h0m0 1.1h0m.1 1.1h0m.1 11.6h0m.1-17.5h0m.1 26.3h0m.1-16.2h0m.2 12.4h0m.1-17h0m0 9.2h0m.1-8.1h0m.1-6.5h0m0 28h0m.1-15.5h0m.2-8.3h0m0 17.2h0m0 3.7h0m.1-33.9h0m0 13.8h0m.5-.3h0m.1 5.1h0m.1 2.4h0m.1 10.9h0m.2-9.4h0m.1-3.9h0m.1 5h0m0 3.4h0m0 24h0m.2-47.3h0m0 5.7h0m.1 21.9h0m.1-21.4h0m0 14.7h0m0 26.6h0m.2-39.2h0m0 20.7h0m.1-27.1h0m0 14.8h0m.1 1.9h0m0 3.6h0m0 7h0m0 20.6h0m.1-40.2h0m0 3.7h0m0 27.1h0m.3-15.2h0m.3 9h0m.1-19.3h0m0 18.8h0m.1-28.3h0m.1 11.5h0m.2 .8h0m0 4.8h0m.1-8h0m.1-10h0m.1 11.2h0m0 8.7h0m.4-14.6h0m0 3.6h0m.2 5.1h0m0 4.3h0m.4-13.4h0m0 2.9h0m0 4.6h0m.1-9.7h0m0 6.8h0m0 15.1h0m.1-1.4h0m.2 9h0m.1-29.4h0m0 4.8h0m0 18h0m.1-18h0m.3 26.9h0m.1-21h0m.1-10.3h0m.2 21.2h0m.2-18.1h0m.1-4.7h0m0 18.2h0m.2-3.3h0m0 24.9h0m.1-39.2h0m0 16h0m.1-23.3h0m0 36.7h0m.1-31h0m0 20.8h0m0 8.6h0m.2-33.5h0m0 10.4h0m0 10.3h0m.1-1.6h0m.2-15h0m.1 4.3h0m0 15.9h0m.2-24.7h0m.1 16.1h0m0 19.6h0m.1-11.4h0m.4 12.2h0m.1-18.3h0m.2-1.6h0m0 3.3h0m.1-9.2h0m.3 1.5h0m.1 5.8h0m.1 15.2h0m.1-33.4h0m.1 .4h0m0 2.3h0m0 19.2h0m.2-7.4h0m0 8.7h0m0 .1h0m.1 8.8h0m.2-3.4h0m.1-13.4h0m0 18.6h0m.1-22.1h0m.1 .3h0m.1 2.7h0m0 28.2h0m.3-45.3h0m0 13.9h0m.1 7h0m.1-11.3h0m0 9.3h0m.2 0h0m.1 3.7h0m0 3.1h0m0 13.6h0m.1-7.3h0m.1-33.9h0m.1 16.2h0m0 8.6h0m.1 4.9h0m.1-23.9h0m0 18.6h0m.2-2.6h0m0 31.8h0m.1-19.5h0m.1-10.3h0m.1 .2h0m0 28.5h0m.2-21h0m.3 5h0m.1-27.3h0m0 7.6h0m0 5.2h0m0 7.9h0m.2-29.8h0m.1 22.5h0m.1-3.7h0m0 3.6h0m.1 7.7h0m.1 4.4h0m.5 4.2h0m.1-25.6h0m.1 21.3h0m.1-14.9h0m0 12.1h0m.1-14.2h0m.1 3.3h0m.2-5.4h0m0 9.9h0m.1-26.7h0m.2 28.2h0m0 .7h0m.1-5.9h0m.1-6.8h0m0 .3h0m0 1.2h0m0 6.6h0m.2 7.3h0m.2-4.8h0m.1 .2h0m.1-28.5h0m0 23.1h0m0 9.2h0m.1-5.3h0m.2 .6h0m.1-.7h0m0 2.9h0m0 8.9h0m.1-12.8h0m.4-20.2h0m.1 17.5h0m.1-9.3h0m0 6.7h0m0 15.5h0m.3 17.6h0m.1-22.8h0m.2-15.2h0m.1-1.3h0m.2 5.3h0m.1 8.9h0m0 7.1h0m.2-12.1h0m0 3.6h0m.2-3.9h0m0 14.7h0m0 17.1h0m.2-21.2h0m.1 5.7h0m.1-13.7h0m.2-14.2h0m.1 2.9h0m.3-2.6h0m.1-3.2h0m0 11.9h0m0 17.4h0m.2-33.3h0m.1 23.1h0m.2-2.7h0m0 16.5h0m.1-26.3h0m.1-5.3h0m.1-7.2h0m.1 9.8h0m0 17.6h0m0 3.6h0m.2 16.2h0m.3-21.5h0m0 13.1h0m0 6.1h0m.3-12.7h0m.1-16.7h0m0 13.9h0m.2-26.2h0m0 28.9h0m.2-30h0m.3 23.2h0m.1-12h0m0 8.3h0m.1-10.3h0m0 18h0m.1-23h0m.3 19.5h0m.2-10.6h0m.1 5.6h0m0 15.8h0m.2-25.3h0m0 12.5h0m0 9.4h0m.2 1.6h0m.2-18.5h0m.1 3.6h0m.1-9.1h0m0 2.6h0m.2 6.4h0m.2 16.1h0m0 1.8h0m.2-16.1h0m0 8.5h0m.2-6.8h0m0 20.3h0m.2-35.7h0m.2 1.8h0m.1 .7h0m.2 7.2h0m0 15.1h0m.1-19.7h0m.4-1.7h0m.1 15.2h0m0 .3h0m.1-25.8h0m.1 37.8h0m.5-1h0m0 6.1h0m.1-31.9h0m0 30h0m.1-31.3h0m.1 14.2h0m.2 3.2h0m0 4.3h0m.1-27.9h0m0 29h0m.3-12.3h0m.2-7.5h0m.1-.9h0m0 19.2h0m.4-17.2h0m.1 5h0m0 13.7h0m.4-16.9h0m.2-19h0m.1 8.2h0m0 21.1h0m.2-8.1h0m0 1.7h0m1.3 13.1h0m.1-3.1h0m.1-24.6h0m0 27.8h0m.1-17h0m1.5-13h0m0 44.2h0m.4-43.2h0m.1 .4h0m0 4.9h0m0 10.3h0m.8-12.5h0m.1 43h0m.2-18.4h0m.1-20.6h0m.1 20.8h0m.5-26.7h0m0 31.5h0m.2 4.8h0m.5-33h0m.6-5.4h0m0 10.5h0m0 19.9h0m.2-30.4h0m.1 8.4h0m.7-1h0m.3-.7h0m.1 23.7h0m.1-20.8h0m.3-7.7h0m.6 8.6h0m.1 11.4h0m.1-15.2h0m.8 .3h0m.3-3.6h0m.1 34.4h0m.2-7.1h0m0 11.6h0m.2-39.2h0m0 11.1h0m0 9.2h0m.3-15.2h0m.1 11.7h0m.9 10h0m.1-29.1h0m.3 .9h0m.2 4.9h0m.4 26.5h0m.1 4.4h0m.1-9.8h0m.4-22.4h0m.2 21.2h0m.1 10.4h0m0 1.5h0m.2-9.1h0m.2-10.3h0m0 9.7h0m.4-5.6h0m0 2h0m.3 5.8h0m.2-3.5h0m0 5.7h0m.4-6.9h0m0 2.3h0m.8-21.2h0m.1 16.6h0m.7-12.2h0m.1 15.9h0m.3 15.9h0m.2-15.4h0m0 2.6h0m.3-.9h0m0 2.1h0m.1-6.1h0m.3 13.6h0m0 2.1h0m.1-33.3h0m0 15.2h0m.2 8.4h0m.2-3h0m.1-4.9h0m.2 15.6h0m.2-25.8h0m0 18.5h0m0 3.5h0m.1-8.9h0m.1-1.4h0m.3 3.3h0m.1-11.8h0m.3 13h0m.1-8.2h0m.1 2.3h0m.1-.8h0m.1 3.1h0m.1-1.2h0m0 9.9h0m.1-1.9h0m0 9.1h0m.3-6.4h0m.1-2.7h0m.1 1.9h0m.1-33.1h0m0 22.5h0m.2-13.2h0m0 21.2h0m.1-13.4h0m0 10.5h0m.1 .9h0m0 5.2h0m.1-8.4h0m.3-4.3h0m0 15h0m.1-26.1h0m.2 14.9h0m0 3.6h0m.1-.7h0m.1 5.9h0m.2-24.6h0m0 10.8h0m0 13.9h0m0 .9h0m.2-8.4h0m.1 4.2h0m.3-.1h0m0 2h0m.1 .2h0m.1-17.1h0m.1 11.7h0m.1 6.8h0m.1-2.6h0m.2 2.3h0m.4-7.4h0m0 .7h0m0 1.7h0m.1 .5h0m.1-12.4h0m.3 8.5h0m.1 4.6h0m1-5.5h0m.2-5.4h0m.1 3h0m0 3.7h0m.5 1.3h0m.9-7h0m0 6.5h0m.2-4.3h0m0 3.2h0m.9 1.9h0" fill="none" stroke="#8b2d9e" stroke-width="1.6" stroke-linecap="round"/>
<text x="644.9" y="189.1" font-size="8.39" textLength="44.65" lengthAdjust="spacingAndGlyphs" text-anchor="middle" fill="#1a1a1a">M7D1 T cells</text>
<use href="#grayC" transform="translate(0 282.5)"/>
<path d="M601.1 316.6h0m.1 1.1h0m.1 1.9h0m.3-6.5h0m.2 3.1h0m0 4.9h0m.3 .9h0m.1-16h0m0 .8h0m0 6.1h0m0 1.9h0m.1-7.1h0m0 15.7h0m.2-5.3h0m.1-7.2h0m0 .6h0m0 3.6h0m.2-6.2h0m.3 .8h0m0 9.9h0m.1-2.2h0m0 2.4h0m0 7.5h0m0 .9h0m.2-17h0m.1 12.8h0m0 2.5h0m0 .1h0m.2-23.9h0m0 4.8h0m.1-5.5h0m0 8.4h0m0 .3h0m0 4.9h0m0 .9h0m.1 7.1h0m0 5.7h0m.1-3.6h0m.1-34.1h0m0 25.7h0m.1-14h0m.1-15.5h0m0 .9h0m0 36.1h0m0 1.9h0m.1-16.7h0m.1 6.9h0m0 10.4h0m.1-41.3h0m0 4.2h0m.1 .3h0m0 12.8h0m0 7.7h0m0 13.4h0m0 5.8h0m0 1.4h0m.1-27.8h0m0 29.2h0m.2-42.8h0m0 20.7h0m0 4.1h0m.1-27h0m0 17.6h0m0 7h0m.1-30.5h0m0 19.3h0m0 3.7h0m0 15.1h0m0 4.7h0m0 2.4h0m.1-41.9h0m0 13h0m0 7.4h0m0 8h0m.2-25.7h0m.1-3.2h0m0 1.8h0m0 4.6h0m.1 19.9h0m0 4.6h0m.1-15.7h0m0 5.4h0m.1-17.9h0m0 .2h0m0 20.5h0m0 7h0m.1-27.2h0m0 1.5h0m0 41.7h0m.1-16.6h0m0 19.6h0m.1-33.8h0m0 33.8h0m.1-49.5h0m0 2.7h0m0 34.4h0m.1-33.4h0m0 13.8h0m0 .2h0m0 19.1h0m.1-35.4h0m0 .6h0m0 2.3h0m0 6.8h0m0 8.2h0m0 7.9h0m.1-24.4h0m.1 1.5h0m0 9.2h0m0 10.2h0m0 26h0m.1-47.6h0m0 11.2h0m0 1.2h0m0 31.8h0m.1-32.3h0m0 3.1h0m0 5.7h0m0 8.4h0m0 7.6h0m.1-2.9h0m0 .2h0m0 7.7h0m.1-41.6h0m0 7.6h0m0 18.5h0m0 1.4h0m0 5.8h0m0 12.5h0m.1-32.7h0m0 17.4h0m0 9.5h0m0 .2h0m.1-30.6h0m.1 1h0m0 39.1h0m.1-48.3h0m0 10h0m0 30.4h0m.1-33.1h0m0 38.6h0m.1-45.9h0m0 40.8h0m.1-42.7h0m0 1h0m0 .6h0m0 13.9h0m0 10.3h0m0 13.2h0m.1-37.5h0m0 13.6h0m0 21.4h0m.1-19.9h0m.1-17.4h0m0 8.3h0m0 18.9h0m0 21.9h0m.1-31.8h0m0 9.3h0m.1-7.1h0m.1 10h0m.1-6.3h0m0 21.5h0m0 1.2h0m0 1.1h0m.1-25h0m0 4.4h0m0 12.8h0m0 7.8h0m.1-27.1h0m0 27.1h0m.1-27h0m0 29.1h0m.1-43.7h0m0 1.3h0m0 .3h0m.1-3.3h0m0 13.8h0m0 30.4h0m.1-41.6h0m0 13.2h0m0 6h0m0 3.8h0m0 11.9h0m.1 1.1h0m.1-41.8h0m0 5.5h0m0 10.6h0m0 11.7h0m0 9.9h0m0 .6h0m0 3.7h0m0 2.3h0m.1-33.2h0m.2-12.1h0m.1 45.5h0m.1-24h0m0 15.1h0m.1-6.8h0m.1-4.2h0m0 27.9h0m.1-37h0m0 6h0m0 14.3h0m.1-25.8h0m0 33.8h0m.1-34.6h0m0 2.2h0m.1 18.5h0m0 .9h0m0 12.2h0m0 7.4h0m.1-27.6h0m0 10.5h0m0 10.7h0m0 5.8h0m0 2.6h0m.1-42h0m.1-2.1h0m0 10.5h0m0 24.7h0m0 0h0m0 9.3h0m.1-15.3h0m0 5.2h0m0 10.8h0m.1-46.7h0m0 4.6h0m0 1.8h0m0 16.4h0m0 20.3h0m0 2.1h0m.1-31.9h0m0 24.9h0m.1-40h0m0 18.3h0m.1-18.9h0m0 3.5h0m0 18h0m.1-16.5h0m0 12.7h0m0 11.1h0m0 8.7h0m0 1.7h0m.1-38.7h0m0 47.2h0m.1-20.3h0m0 18.8h0m.1-44h0m0 28.2h0m0 7.4h0m0 8.8h0m0 .2h0m.1-14.3h0m0 2.1h0m0 .2h0m0 8.7h0m0 1.7h0m.1-35.3h0m0 5.7h0m0 15.1h0m0 5.8h0m.1-37.9h0m0 22.2h0m0 13.6h0m.1-32h0m0 32.7h0m0 .4h0m.1-34h0m0 36.4h0m0 1.2h0m0 8h0m.1-14h0m0 2.6h0m.1-37.3h0m0 36.6h0m0 13.3h0m.1-39h0m0 9.6h0m0 2.3h0m.1 0h0m0 17.5h0m.1-38.6h0m0 19.8h0m0 6h0m0 3h0m0 7h0m0 4.3h0m.1-33.6h0m0 3.4h0m0 6.4h0m0 17.9h0m0 10h0m0 3h0m0 1.6h0m.1-44.3h0m0 2.8h0m0 36h0m.1-33.2h0m0 8.4h0m.1 19.7h0m0 6.5h0m.1-46.9h0m0 6.1h0m0 31.4h0m0 5h0m.1-23.4h0m0 10.7h0m0 2.1h0m0 15.9h0m.1-38.2h0m0 3.2h0m0 3h0m0 21h0m0 10.4h0m0 .1h0m.1-12.3h0m0 1.8h0m0 1.5h0m0 14.5h0m.1-46h0m0 2.7h0m0 20h0m.1-24.7h0m0 11.4h0m0 6.4h0m0 8.4h0m.1-22h0m0 16.4h0m.2-25.2h0m0 31.1h0m0 2h0m.1-8.5h0m0 14.9h0m0 1.2h0m.1-33h0m.1-3.4h0m0 13.6h0m0 28.7h0m0 4.7h0m.1-28h0m0 6.3h0m0 14.1h0m0 .3h0m0 1.8h0m.1-35.9h0m0 1h0m0 1.9h0m0 8h0m.1-16.9h0m0 10.8h0m0 9h0m0 .1h0m0 24.9h0m.1-37.4h0m0 16.4h0m0 1.4h0m.1-30.1h0m0 8h0m0 13.7h0m0 4h0m0 2h0m0 4.7h0m0 2.7h0m.1-32.9h0m0 12.4h0m0 38.4h0m0 .1h0m0 .8h0m.1-45.1h0m0 7.9h0m0 18.9h0m0 15h0m.2-17.7h0m0 17.5h0m.1 3h0m.1-46.9h0m0 1h0m0 9.7h0m0 36h0m.1-27.7h0m0 3.8h0m0 14.5h0m.1-6.8h0m0 7h0m0 5.9h0m.1-30.4h0m0 6.8h0m0 24h0m.1-46.3h0m0 22.6h0m0 8.6h0m0 12.9h0m.1 5.1h0m0 .4h0m.1-10.8h0m.1-30.8h0m0 .9h0m0 21.2h0m0 3.9h0m.1-29h0m0 18.6h0m0 14.5h0m0 3.9h0m.1 5.5h0m.1-45.2h0m0 37.8h0m.2-37.4h0m0 5.8h0m0 4.7h0m0 1.6h0m0 20.1h0m.1-39.5h0m0 33.3h0m0 .1h0m0 12h0m.1-34.2h0m0 13h0m0 6.9h0m0 6.3h0m0 14.7h0m.1-52.1h0m0 29.6h0m0 .3h0m0 22.5h0m0 1.8h0m.1-12.1h0m.1-30.7h0m0 15.6h0m.1-24.4h0m0 .5h0m0 23.8h0m0 3.7h0m0 16.7h0m.1-25.9h0m0 11.1h0m0 17.6h0m.1-41.7h0m0 3.5h0m0 37.5h0m.1-49.4h0m0 2.2h0m0 13.6h0m0 .9h0m0 11.9h0m0 1.4h0m0 22.4h0m0 2.3h0m.1-52.9h0m0 21.5h0m0 13.5h0m0 1.1h0m0 3.1h0m.1-14.6h0m0 12.3h0m.1-38h0m0 23.5h0m0 17.2h0m.1-33.7h0m0 10.6h0m0 21.6h0m0 3.9h0m0 .5h0m0 6.4h0m0 4.1h0m.1-31.1h0m.1 5.2h0m0 4.7h0m.1-7.5h0m0 22.7h0m.1-47h0m.1-1.8h0m0 31.9h0m0 24.2h0m.1-51.1h0m0 21.3h0m0 27.9h0m.1-49.7h0m0 3h0m0 2.6h0m0 9.2h0m0 3.4h0m0 13.3h0m0 8.5h0m0 3.2h0m0 4.7h0m.1-47h0m0 30.2h0m0 4.2h0m.1-22.2h0m0 .3h0m0 2.4h0m0 2.2h0m0 22.6h0m.1-33.3h0m0 34.1h0m.1-.3h0m.1 .3h0m.1-43.4h0m0 8.8h0m0 21.8h0m.1-32.6h0m0 1.1h0m0 26.8h0m.1-7.3h0m0 27.1h0m.1-34.2h0m0 .8h0m0 8.6h0m0 15.1h0m0 7.8h0m0 2.4h0m.1-25.4h0m0 23h0m.1-45.6h0m0 10.9h0m0 21.5h0m0 7.8h0m0 10.1h0m.1-45.5h0m0 11.8h0m0 10.6h0m0 7.2h0m0 5.2h0m.1-20.1h0m0 17h0m0 18.5h0m.1-40h0m0 13.4h0m0 9.3h0m0 3.2h0m0 3h0m.2-40.3h0m0 2.2h0m0 6h0m0 11.4h0m.1-18.1h0m0 10.5h0m0 22.6h0m0 .1h0m0 3.4h0m.1-24.2h0m0 6.8h0m0 3.7h0m0 26h0m0 .5h0m.1-33.1h0m.1-17.1h0m0 1.1h0m0 6.1h0m0 14.9h0m0 19.8h0m0 8.2h0m.1-44.6h0m0 34.4h0m0 2.8h0m.1-43.7h0m0 41.2h0m.1-43.1h0m0 11.6h0m.1-4.1h0m0 1.1h0m0 15.1h0m0 7h0m0 3h0m0 5.2h0m0 11.3h0m0 2.4h0m.1-45.5h0m0 8.9h0m0 .1h0m0 21h0m0 4.1h0m0 9.1h0m.1-43.4h0m0 9.1h0m0 35.9h0m.1-11.3h0m.1-39h0m0 2.4h0m0 44.6h0m.1-41.2h0m0 32.1h0m0 5.1h0m.1-27.7h0m.1-17.9h0m0 22.3h0m0 9.1h0m0 18.7h0m.1-38.6h0m0 7.6h0m.1-17.2h0m0 13.9h0m0 3.4h0m0 12h0m0 .2h0m0 22.7h0m.1-19.4h0m0 .5h0m0 15.6h0m.1-23.1h0m0 9.8h0m.1-18.8h0m0 27h0m.1-24.2h0m0 6.6h0m0 12.9h0m0 10.2h0m.1-44.5h0m0 1.9h0m0 4.7h0m0 40h0m.1-11.7h0m.1 3.8h0m0 6.5h0m.1-51.6h0m0 51h0m.1-22.4h0m0 13.4h0m.1-37.1h0m0 41.6h0m.1-28.8h0m0 26.3h0m0 10h0m.1-40.1h0m0 22.6h0m.1-29.9h0m0 2.2h0m0 19h0m0 22.2h0m.1-34.6h0m0 11.2h0m0 24.3h0m0 .6h0m.1-35.4h0m0 24.7h0m0 12.9h0m0 .3h0m.1-47.5h0m0 25.1h0m0 19.8h0m0 .4h0m.1-48.2h0m0 3.6h0m0 19.7h0m0 14.7h0m0 8.7h0m.1-32.4h0m0 12.8h0m.1-3.8h0m0 12.8h0m0 4.1h0m.1-41.6h0m0 11.8h0m0 35.8h0m0 .5h0m0 .7h0m.1-39.7h0m.1-11.4h0m0 24.3h0m0 2.6h0m.1 19.9h0m.1-42h0m0 1.3h0m0 1.7h0m0 6.3h0m.1-12.1h0m0 7.3h0m0 7h0m0 17.5h0m0 11.2h0m0 8h0m.1-1.4h0m.1-41.2h0m0 9.1h0m.1 17.2h0m0 2.1h0m.2-26.2h0m0 7.3h0m0 1.3h0m0 5.5h0m0 12.9h0m0 7.7h0m.1-24.5h0m0 10.1h0m0 19.6h0m.1-50.5h0m0 13.9h0m0 11.1h0m0 15.9h0m0 1.9h0m.1 5.6h0m.1-39.8h0m0 2.4h0m0 5.1h0m0 20.4h0m.1-15.5h0m0 1h0m0 .7h0m0 27.2h0m0 4.3h0m.1-7.2h0m.1-42.5h0m0 6h0m0 19.4h0m0 .4h0m0 21h0m.1-51.6h0m0 29.8h0m0 23.2h0m.1-52.3h0m0 6.4h0m.1-3.5h0m0 26.7h0m0 14.1h0m.2-41.2h0m0 1.3h0m0 .5h0m0 8.4h0m0 34.3h0m0 3.1h0m.1-45h0m0 31.7h0m.2-26.5h0m.1 20.9h0m0 7.8h0m0 .9h0m.1-34.2h0m0 33h0m.1-38.6h0m0 21.7h0m0 4.5h0m0 20.8h0m.1-29.2h0m0 14.9h0m.1-23h0m0 9.5h0m0 3.6h0m0 3.4h0m0 24h0m0 2.6h0m.1-40.5h0m0 12h0m0 15.2h0m.1-36.6h0m0 5.7h0m0 2.3h0m0 19.3h0m.1-29.4h0m0 19.2h0m.1-20.4h0m0 2.3h0m0 7.2h0m0 7h0m0 23h0m0 11.2h0m.1-51.5h0m0 37.5h0m0 7.1h0m.1-39.7h0m0 7.5h0m0 20.7h0m0 8.8h0m.1-35.9h0m0 6.1h0m0 1.4h0m0 7.3h0m.1 1.2h0m0 4.3h0m0 12.8h0m0 6.1h0m0 1.2h0m0 7.5h0m.1-40.2h0m0 2h0m0 19.9h0m0 8.9h0m.1-4.1h0m.1-28.2h0m0 2.2h0m0 10.7h0m0 18.3h0m0 1.7h0m0 1.5h0m.1-17.3h0m0 10.1h0m.1 11.7h0m.1-50.8h0m0 4.5h0m0 3.7h0m0 2.6h0m.1-5.8h0m0 4.1h0m0 7.3h0m0 7.8h0m0 13.8h0m0 4.5h0m.1-5h0m.1-28.3h0m0 13.7h0m0 1.5h0m0 3.3h0m0 15.1h0m.1-22.1h0m0 15h0m0 4.3h0m.1-40.3h0m0 1.1h0m0 6.4h0m0 13.4h0m.1 .9h0m0 4.8h0m0 5.6h0m0 8.3h0m0 6.9h0m0 5.1h0m.1-49.8h0m0 15.9h0m0 9.6h0m.1-19.6h0m0 21.9h0m.1-21.4h0m0 10.7h0m0 3h0m0 5.7h0m0 7.9h0m0 15.5h0m.1-52.4h0m0 1.4h0m0 8.1h0m0 27.3h0m.1-29.5h0m0 2.6h0m0 2.1h0m0 15.3h0m.1-18.5h0m0 13h0m0 13.7h0m.1-12.3h0m0 22.6h0m.1-46.2h0m0 9.5h0m0 .5h0m0 4.7h0m0 32.9h0m0 5.2h0m.1-29.3h0m0 2.8h0m0 1.5h0m0 21.7h0m0 6.1h0m.1-50.9h0m0 37.6h0m0 3h0m0 2.7h0m.2-40.3h0m0 6.8h0m0 6h0m.1-6.3h0m0 3.1h0m0 1.2h0m.1-6.3h0m0 .6h0m0 6.2h0m0 15.1h0m0 13.9h0m0 4.6h0m.1-23.3h0m0 3.4h0m.1-23.8h0m0 43.5h0m.1-47.4h0m0 36.7h0m.1-29.4h0m.1-.7h0m0 5.5h0m0 38.2h0m.1-56.3h0m0 32.4h0m.1-19.7h0m0 25.4h0m0 15.8h0m0 2.8h0m.1-28h0m0 16.3h0m0 .9h0m.1-36h0m0 .1h0m0 3.7h0m0 10.3h0m.1-13.9h0m0 3.6h0m0 4.7h0m0 18.7h0m.1-29.2h0m.1-8.5h0m0 8.4h0m0 19.8h0m0 7.3h0m0 1.9h0m0 4.6h0m.1-36.4h0m0 4.5h0m0 2.9h0m0 23.5h0m0 5.3h0m0 5.4h0m.1-29.8h0m.1-14.1h0m0 9.4h0m.1 32.3h0m0 7.3h0m.2-39h0m0 16h0m0 15.5h0m.1-38.8h0m0 1.3h0m0 6.8h0m.1-2.4h0m0 24.2h0m0 5.2h0m0 5.3h0m0 7.5h0m.1-13.4h0m0 6.9h0m.1-39.8h0m0 12.3h0m0 30h0m.1-27.4h0m0 .4h0m0 3.4h0m0 .4h0m0 23.3h0m.1-8h0m0 8.9h0m.1-50.6h0m0 11.4h0m.1-11.1h0m0 15.4h0m0 15.9h0m0 19.9h0m0 2.4h0m0 3h0m.1-19h0m.1-31h0m.1-4.3h0m0 2.2h0m0 4.4h0m0 39.3h0m.1-10h0m.1-3h0m0 4.6h0m0 14.4h0m.1-18.1h0m0 11.4h0m0 3.3h0m.1-28.1h0m0 17.2h0m0 15.5h0m0 .2h0m.1-45.3h0m0 24.9h0m0 5.7h0m0 2.2h0m0 4.1h0m.1-34.2h0m0 11.8h0m0 6.1h0m0 .4h0m0 24.4h0m.1-56.7h0m0 29.6h0m0 4.5h0m0 6.4h0m0 16.2h0m.1-34.7h0m0 2.2h0m0 3.3h0m0 13.1h0m0 14.7h0m.1-45.5h0m0 8.5h0m.1-8.3h0m0 27.2h0m0 13.8h0m.1-45.2h0m0 .4h0m.1-8h0m0 14.1h0m0 17.7h0m.1-4.4h0m0 23.3h0m0 3.2h0m.1-50.9h0m0 5.4h0m0 11.3h0m0 19.1h0m0 3.8h0m0 10.7h0m.1-44.1h0m0 19.2h0m0 3.1h0m0 15.8h0m0 2.4h0m0 3.2h0m.1-44.7h0m0 2.9h0m0 .8h0m0 2.2h0m0 25.1h0m0 3.8h0m0 14.3h0m.1-36.9h0m0 21.2h0m.1-40.2h0m0 4h0m0 18.3h0m0 19.9h0m.1-32.1h0m0 27.5h0m0 12.7h0m.1-47.1h0m0 .3h0m.1-5h0m0 1.8h0m0 55.6h0m.1-32.8h0m0 6.9h0m.1 22.7h0m0 3.1h0m.1-49.9h0m0 38.8h0m.1-35.5h0m0 12h0m0 29.6h0m.1-17.4h0m0 18.3h0m.1-17.9h0m.1-35.2h0m0 6.9h0m0 13.9h0m0 14.6h0m.1-24h0m0 16.4h0m0 21.9h0m0 9.5h0m.1-42.7h0m0 5.6h0m0 7.8h0m0 3.1h0m0 17.6h0m0 1.7h0m.1-19.3h0m.1 17.7h0m.1-6.6h0m0 3.1h0m.1 6.5h0m.1-53.1h0m0 4.4h0m0 0h0m0 1.7h0m.1 23.1h0m.2-19h0m0 15.2h0m.1-16.2h0m.1-7.5h0m0 1.8h0m0 22.7h0m0 15.6h0m0 16.2h0m.1-35.3h0m0 15.8h0m0 3.2h0m0 13.5h0m.1-6.7h0m.1-47.1h0m0 5.7h0m0 24h0m0 25.8h0m.1-56.3h0m0 11.9h0m0 16.8h0m.1 6.6h0m0 16.1h0m.1-53.7h0m0 14.7h0m0 26.8h0m.1-36.8h0m0 4.3h0m0 49.5h0m.1-56.1h0m0 .4h0m0 4.6h0m0 37.7h0m.1-29.8h0m0 12.8h0m0 17.4h0m.1-33.4h0m.1-5.9h0m0 5.2h0m0 .9h0m0 23.9h0m0 18.2h0m.1-43.7h0m0 17.7h0m.1-27h0m0 .9h0m0 .8h0m0 5.2h0m0 13.6h0m.1-21h0m0 3.6h0m0 6.1h0m0 4.2h0m.1-4.6h0m0 12.8h0m0 17.7h0m0 .6h0m.1 13.1h0m.1-39.6h0m0 26.6h0m0 .9h0m.1-2.1h0m.2-34.3h0m0 47.7h0m.1-48h0m0 13.7h0m0 11.1h0m.1-8.6h0m0 18.8h0m0 .8h0m.1-38h0m0 22.3h0m.1-23h0m0 8.5h0m0 46.1h0m0 1.2h0m.1-27.1h0m0 10.6h0m.1-39.3h0m0 3.2h0m0 23.1h0m0 1.8h0m.1-9.3h0m0 9.9h0m0 21.8h0m.1-48.5h0m0 36.4h0m.1-31.4h0m0 1.9h0m0 30.1h0m.1-30h0m0 21.2h0m.1-28.1h0m0 7.2h0m0 4.4h0m0 11.3h0m0 30.4h0m.1-37.2h0m0 .3h0m0 1.2h0m0 6.6h0m0 29.8h0m.1-58.3h0m0 6.8h0m.1-2.5h0m0 31.5h0m0 21.5h0m.1-52.7h0m0 .5h0m0 6.2h0m0 6h0m0 23h0m0 14.8h0m.2-48.4h0m0 10.9h0m0 10.5h0m0 7.1h0m0 8h0m.1-40.5h0m0 32.3h0m0 .9h0m0 3.9h0m0 12.2h0m.1-23.1h0m0 .8h0m0 21.6h0m.1-4.7h0m.1-32.8h0m0 12.4h0m0 2.3h0m0 1.8h0m0 8.1h0m0 3.3h0m0 13.2h0m.1-47.3h0m0 6.8h0m0 1.9h0m0 13.3h0m0 2.9h0m.2-23.6h0m0 35.5h0m0 6.4h0m.1-50.7h0m0 8h0m0 4.8h0m0 17.4h0m.1-29h0m0 21.6h0m.1-21.7h0m0 7.2h0m0 5h0m0 27.4h0m0 .1h0m0 9.1h0m0 4.1h0m.1-31.1h0m0 17.8h0m0 13.2h0m.1-52.3h0m0 32.6h0m0 4.5h0m.1-26.1h0m0 35.6h0m0 2.4h0m.1-51.2h0m.1 .9h0m0 14.2h0m0 11.9h0m0 12.1h0m0 17.8h0m.1-37.6h0m0 1.9h0m0 12.9h0m.1-17.7h0m0 24.4h0m.1-39.7h0m0 8.8h0m0 9h0m0 0h0m0 19.8h0m.1-32.9h0m0 10.8h0m0 1h0m.2 29.7h0m0 6.9h0m.1-55h0m0 3.8h0m0 12.9h0m0 3.3h0m0 19.3h0m0 .4h0m0 5.8h0m0 11.6h0m0 .7h0m0 1.2h0m.1-36.7h0m0 23h0m.1-17.7h0m0 2.7h0m0 .1h0m0 .8h0m0 7.2h0m0 4.7h0m0 8.1h0m.1-41.6h0m0 22.8h0m0 22.1h0m0 2.2h0m.1-45.3h0m0 10.6h0m0 .7h0m0 11.9h0m0 7.4h0m0 6.9h0m0 10.2h0m.1-55.7h0m0 15.3h0m.1-.1h0m0 19h0m0 .3h0m0 10.9h0m.1-43.5h0m0 6h0m0 32.3h0m0 9.7h0m.1-44.2h0m0 15.7h0m0 5.1h0m0 6.9h0m.1-35.2h0m0 4.2h0m.1 7.1h0m0 2.8h0m0 19.2h0m0 13.6h0m.1-29.9h0m0 30.2h0m.1 6.7h0m0 .4h0m.2-51.1h0m0 13.1h0m0 .8h0m0 24.4h0m0 12.3h0m.1-54.8h0m0 7.8h0m0 4.4h0m0 27.2h0m0 2.1h0m.2-15.4h0m0 15.7h0m.1-10.5h0m0 2.1h0m0 6.7h0m.1-21.7h0m.1 26.7h0m.1-30.4h0m0 3.3h0m0 23.8h0m0 12.9h0m.1-41.2h0m0 6.5h0m.2-19.6h0m0 8.5h0m0 6.4h0m0 18.4h0m0 14.5h0m0 .9h0m.1-44.7h0m0 3.3h0m0 3h0m0 10h0m0 17.6h0m0 3h0m0 3.7h0m0 8.1h0m.1-19.8h0m0 6.1h0m.1-39.7h0m0 48.6h0m.1-23.8h0m0 13.1h0m.1-.3h0m0 15.5h0m.1-36.1h0m0 7.7h0m.1-8.2h0m0 3.4h0m0 2.6h0m0 24.1h0m0 7.9h0m.1-15.7h0m0 17.4h0m.1-34.1h0m0 2.1h0m0 11.8h0m.1-32.3h0m0 16h0m0 16h0m0 1.6h0m0 7.2h0m.1-43.5h0m0 37.7h0m0 14.3h0m.1-16.5h0m.1-36.4h0m0 8.6h0m.1-6.6h0m0 .4h0m0 15.9h0m0 6.8h0m0 16.6h0m.2-34.1h0m0 24.2h0m.1-23.6h0m0 2h0m0 9.6h0m0 14.3h0m.1-28.6h0m0 8.3h0m0 4h0m0 4.9h0m0 31.9h0m0 1h0m.1-48.1h0m0 .7h0m0 4.1h0m0 2h0m0 20.2h0m0 22.1h0m.1-43.2h0m0 29.1h0m0 2.4h0m0 10.7h0m.2-47.6h0m0 23.4h0m0 18.4h0m.1-49.7h0m0 2.6h0m0 11.9h0m0 23.8h0m0 9.8h0m0 3.2h0m.1 .8h0m.1-35.2h0m0 5.7h0m0 4.6h0m0 1.8h0m0 14h0m.1-25.3h0m0 14.8h0m0 21.3h0m.1-36.1h0m0 12.5h0m0 1h0m0 8.4h0m0 14h0m.2-47.1h0m0 26.8h0m0 7.9h0m.1-38.5h0m0 31.5h0m0 7.7h0m0 14.8h0m.1-39.6h0m0 5.6h0m0 3.8h0m.1-.2h0m0 7.3h0m.1-33h0m0 16.6h0m0 14.7h0m0 1.7h0m.1-21.3h0m0 41.3h0m.1-1.4h0m.1-29.5h0m0 5.8h0m0 2.8h0m0 21.7h0m.1-45.9h0m0 35.2h0m0 12h0m.1-49.4h0m0 3.4h0m.1-6h0m0 25.7h0m.1-15.4h0m0 17.6h0m.1 19.7h0m0 .1h0m.1-6.7h0m.1-37.6h0m0 8.6h0m.1-11.3h0m0 18.7h0m.1-5.6h0m0 12.8h0m0 2.6h0m0 13.1h0m0 6.1h0m.1-33.9h0m0 31.6h0m0 2.7h0m.1-47.4h0m0 5.9h0m0 17.3h0m0 9.9h0m.1 18.6h0m0 .2h0m.1-36.2h0m.2 16.4h0m0 5.8h0m0 12.1h0m.1-51.9h0m0 3.4h0m0 30.8h0m.1-16.1h0m0 25.7h0m.1-34.8h0m0 22.1h0m0 .3h0m.1-25.8h0m0 1.3h0m0 18.2h0m0 15.4h0m.1-36.5h0m0 7.3h0m0 32.1h0m0 6.7h0m.1-46.8h0m.1 34.5h0m.1-20h0m.1-10.7h0m0 3.4h0m0 8.6h0m.1 23.3h0m0 9.9h0m0 .5h0m.1-48.7h0m0 14.3h0m0 28.2h0m.1-42.5h0m0 11.2h0m0 13h0m0 4.3h0m0 8.1h0m.1-16.9h0m0 8.1h0m0 14.2h0m0 4h0m.1-34.5h0m0 .8h0m0 .2h0m0 5.6h0m0 16h0m.1-26.8h0m0 9.6h0m0 11.8h0m0 11.6h0m.1-20.7h0m0 14.4h0m0 3h0m.1-32.1h0m0 21.6h0m0 12.2h0m0 .6h0m0 1.7h0m.1-24.4h0m0 28.3h0m.1-49.5h0m0 27.7h0m.1-13.1h0m.1 4.2h0m0 .3h0m0 15.5h0m0 8h0m0 9.5h0m.1-15h0m0 15h0m.1-36h0m0 29.8h0m.1-18.4h0m0 12h0m.1-38.7h0m0 5.2h0m0 12.7h0m.1 12.1h0m.1-21.5h0m0 29.3h0m.1-34.1h0m0 47.4h0m0 .4h0m.1-16h0m0 1.1h0m.1-17.6h0m.1 1.9h0m0 29.3h0m.2-48.3h0m0 28.4h0m0 17.3h0m0 6.5h0m.2-19.6h0m.1 1h0m.2 10.3h0m.1-25.2h0m0 25.7h0m.1-19.5h0m0 9.7h0m0 .1h0m0 6.7h0m.1-26.6h0m0 35.4h0m.2-27h0m0 16.4h0m.1-16.4h0m0 4.9h0m0 10.5h0m.1-4.5h0m0 18.7h0m.1-36.8h0m0 31.2h0m.1-36.7h0m.1 1.9h0m0 .9h0m.3-1.7h0m0 22.6h0m.1-15.1h0m0 4.7h0m.1 27h0m.2-33.2h0m.2 16.9h0m.1 17.6h0m.2-21.9h0m.1-13.3h0m.2 14.8h0m.1 12.8h0m.1-4.3h0m0 4h0m.1-8.3h0m0 2.3h0m.2 14.3h0m0 .1h0m.2-27.1h0m.1-18.4h0m.2 25.7h0m.1-6.1h0m.1 14.5h0m0 9.2h0m.1-21.3h0m0 21h0m.2-32.7h0m0 10.8h0m.1 2.2h0m.3 7.6h0m.2-23.8h0m.1 20.8h0m.1 6.7h0m.1-13.9h0m.1 3.1h0m.2 3.6h0m.4 11h0m.1-10.3h0m.4 10.3h0m.6-18.1h0m.3 24.1h0m.1-4.3h0m.1-33h0m.1 7.5h0m.2 9.9h0m0 5.8h0m.3-24.5h0m.1 23.7h0m.1 15.3h0m.1-19.5h0m.3-19.2h0m.1 39.6h0m.6-39.9h0m.4 18.4h0m.2 10.6h0m.3 6.4h0m0 .8h0m.1-26.7h0m.1-12.8h0m.3 22.8h0m0 10.6h0m.3-21.5h0m.3 4.6h0m0 19.1h0m.1-14.5h0m.1-4h0m.3 3.7h0m.4 5.7h0m.2 7.1h0m.1-25.6h0m.1 29.7h0m.4-36.3h0m0 37.7h0m.4-8.3h0m.1-18.8h0m.4 11.7h0m.2 18.3h0m.2-16.1h0m.2-10.3h0m0 8.9h0m.2-4.7h0m.3-17.8h0m.3 28.7h0m.5-3.9h0m.5 5.1h0m.2 4.3h0m.2-15.7h0m0 5.8h0m.1-29.9h0m.2 33.7h0m.1 .5h0m.5-16.9h0m.4 11h0m0 2.6h0m.1 .7h0m1 11.6h0m.1-12.4h0m.5 5.1h0m.7-18.2h0m.8-15.7h0m0 31.3h0m0 5.1h0m.2-.6h0m.1-1.8h0m.2-10.2h0m.3-14.4h0m0 2.2h0m.2 17h0m.4-3.6h0m.1-15h0m.1 1.8h0m.1 16.7h0m.1 7h0m.1-1.8h0m.1-9.8h0m.4-7h0m.2 10h0m.2-23.6h0m.2 23.9h0m.1-21.8h0m.2 12.6h0m.1 11.9h0m.1 4h0m.2-15.9h0m.1 9h0m.2-26h0m.5 22h0m0 4.5h0m.7 4.8h0m.4-29h0m0 13.6h0m.2 4.7h0m.8 10.7h0m.1-11.8h0m1.5 6.8h0" fill="none" stroke="#9ed7d6" stroke-width="1.6" stroke-linecap="round"/>
<text x="647.3" y="278.7" font-size="8.39" textLength="40.93" lengthAdjust="spacingAndGlyphs" text-anchor="middle" fill="#1a1a1a">CAR-T cells</text>
<text x="-0.2" y="212.2" font-size="11.07" textLength="7.08" lengthAdjust="spacingAndGlyphs" font-weight="bold">D</text>
<text x="127.1" y="227.4" font-size="8.41" textLength="65.36" lengthAdjust="spacingAndGlyphs" text-anchor="end" fill="#1a1a1a">5: naive-like T cells</text>
<line x1="130.6" y1="226.5" x2="132.2" y2="226.5" stroke="#333" stroke-width="0.6"/>
<circle cx="137.4" cy="226.5" r="1.46" fill="#e0a7be"/>
<circle cx="145.2" cy="226.5" r="0.58" fill="#ebc2d3"/>
<circle cx="152.9" cy="226.5" r="0.97" fill="#f1d4e0"/>
<circle cx="160.6" cy="226.5" r="2.13" fill="#ebc2d3"/>
<circle cx="168.2" cy="226.5" r="0.68" fill="#dd9eb8"/>
<circle cx="176" cy="226.5" r="1.46" fill="#e0a7be"/>
<circle cx="183.5" cy="226.5" r="1.94" fill="#c55f88"/>
<circle cx="191.3" cy="226.5" r="1.65" fill="#d383a3"/>
<circle cx="199.2" cy="226.5" r="1.26" fill="#ebc2d3"/>
<circle cx="206.8" cy="226.5" r="2.23" fill="#dd9eb8"/>
<circle cx="214.5" cy="226.5" r="0.87" fill="#e7b9cc"/>
<circle cx="222.3" cy="226.5" r="0.97" fill="#d07a9c"/>
<circle cx="230" cy="226.5" r="1.94" fill="#bf4d7b"/>
<circle cx="237.7" cy="226.5" r="1.46" fill="#c55f88"/>
<text x="127.1" y="241.9" font-size="8.41" textLength="81.1" lengthAdjust="spacingAndGlyphs" text-anchor="end" fill="#1a1a1a">4: transitional T cells T2</text>
<line x1="130.6" y1="239.8" x2="132.2" y2="239.8" stroke="#333" stroke-width="0.6"/>
<circle cx="137.4" cy="239.8" r="1.94" fill="#d68caa"/>
<circle cx="145.2" cy="239.8" r="0.97" fill="#c9688f"/>
<circle cx="152.9" cy="239.8" r="1.94" fill="#d68caa"/>
<circle cx="160.6" cy="239.8" r="2.42" fill="#dd9eb8"/>
<circle cx="168.2" cy="239.8" r="0.68" fill="#ebc2d3"/>
<circle cx="176" cy="239.8" r="1.26" fill="#e4b0c5"/>
<circle cx="183.5" cy="239.8" r="1.26" fill="#e7b9cc"/>
<circle cx="191.3" cy="239.8" r="1.65" fill="#e0a7be"/>
<circle cx="199.2" cy="239.8" r="1.94" fill="#d383a3"/>
<circle cx="206.8" cy="239.8" r="2.42" fill="#dd9eb8"/>
<circle cx="214.5" cy="239.8" r="1.16" fill="#bf4d7b"/>
<circle cx="222.3" cy="239.8" r="0.97" fill="#c55f88"/>
<circle cx="230" cy="239.8" r="0.78" fill="#e7b9cc"/>
<circle cx="237.7" cy="239.8" r="0.78" fill="#ebc2d3"/>
<text x="127.1" y="255.3" font-size="8.41" textLength="81.1" lengthAdjust="spacingAndGlyphs" text-anchor="end" fill="#1a1a1a">3: transitional T cells T1</text>
<line x1="130.6" y1="253.2" x2="132.2" y2="253.2" stroke="#333" stroke-width="0.6"/>
<circle cx="137.4" cy="253.2" r="2.23" fill="#cc7196"/>
<circle cx="145.2" cy="253.2" r="0.68" fill="#ebc2d3"/>
<circle cx="152.9" cy="253.2" r="1.94" fill="#dd9eb8"/>
<circle cx="160.6" cy="253.2" r="2.42" fill="#e4b0c5"/>
<circle cx="168.2" cy="253.2" r="0.58" fill="#ebc2d3"/>
<circle cx="176" cy="253.2" r="1.26" fill="#e4b0c5"/>
<circle cx="183.5" cy="253.2" r="1.36" fill="#e0a7be"/>
<circle cx="191.3" cy="253.2" r="1.75" fill="#d68caa"/>
<circle cx="199.2" cy="253.2" r="2.23" fill="#c9688f"/>
<circle cx="206.8" cy="253.2" r="2.42" fill="#c9688f"/>
<circle cx="214.5" cy="253.2" r="0.97" fill="#e4b0c5"/>
<circle cx="222.3" cy="253.2" r="0.68" fill="#ebc2d3"/>
<circle cx="230" cy="253.2" r="0.68" fill="#ebc2d3"/>
<circle cx="237.7" cy="253.2" r="0.58" fill="#eecbda"/>
<text x="127.1" y="268.8" font-size="8.41" textLength="109.54" lengthAdjust="spacingAndGlyphs" text-anchor="end" fill="#1a1a1a">1: memory-like precursor T cells</text>
<line x1="130.6" y1="266.7" x2="132.2" y2="266.7" stroke="#333" stroke-width="0.6"/>
<circle cx="137.4" cy="266.7" r="1.75" fill="#dd9eb8"/>
<circle cx="145.2" cy="266.7" r="0.87" fill="#d68caa"/>
<circle cx="152.9" cy="266.7" r="1.75" fill="#dd9eb8"/>
<circle cx="160.6" cy="266.7" r="2.42" fill="#e4b0c5"/>
<circle cx="168.2" cy="266.7" r="0.58" fill="#ebc2d3"/>
<circle cx="176" cy="266.7" r="1.46" fill="#e4b0c5"/>
<circle cx="183.5" cy="266.7" r="1.94" fill="#c55f88"/>
<circle cx="191.3" cy="266.7" r="1.94" fill="#c55f88"/>
<circle cx="199.2" cy="266.7" r="1.75" fill="#da95b1"/>
<circle cx="206.8" cy="266.7" r="2.33" fill="#da95b1"/>
<circle cx="214.5" cy="266.7" r="0.87" fill="#e4b0c5"/>
<circle cx="222.3" cy="266.7" r="0.78" fill="#e4b0c5"/>
<circle cx="230" cy="266.7" r="0.78" fill="#e0a7be"/>
<circle cx="237.7" cy="266.7" r="0.78" fill="#ebc2d3"/>
<text x="127.1" y="282.1" font-size="8.41" textLength="89.39" lengthAdjust="spacingAndGlyphs" text-anchor="end" fill="#1a1a1a">6: activated cycling T cells</text>
<line x1="130.6" y1="280" x2="132.2" y2="280" stroke="#333" stroke-width="0.6"/>
<circle cx="137.4" cy="280" r="1.65" fill="#f0d0de"/>
<circle cx="145.2" cy="280" r="0.87" fill="#e0a7be"/>
<circle cx="152.9" cy="280" r="1.65" fill="#e0a7be"/>
<circle cx="160.6" cy="280" r="2.33" fill="#da95b1"/>
<circle cx="168.2" cy="280" r="2.23" fill="#bb4474"/>
<circle cx="176" cy="280" r="2.52" fill="#bb4474"/>
<circle cx="183.5" cy="280" r="1.65" fill="#e7b9cc"/>
<circle cx="191.3" cy="280" r="1.55" fill="#f3d8e3"/>
<circle cx="199.2" cy="280" r="1.75" fill="#f0d0de"/>
<circle cx="214.5" cy="280" r="1.26" fill="#c9688f"/>
<circle cx="222.3" cy="280" r="0.48" fill="#f5dde7"/>
<circle cx="230" cy="280" r="0.68" fill="#e7b9cc"/>
<circle cx="237.7" cy="280" r="1.65" fill="#cc7196"/>
<text x="127.1" y="295.4" font-size="8.41" textLength="91.4" lengthAdjust="spacingAndGlyphs" text-anchor="end" fill="#1a1a1a">2: activated effector T cells</text>
<line x1="130.6" y1="293.3" x2="132.2" y2="293.3" stroke="#333" stroke-width="0.6"/>
<circle cx="137.4" cy="293.3" r="1.94" fill="#d383a3"/>
<circle cx="145.2" cy="293.3" r="0.87" fill="#d07a9c"/>
<circle cx="152.9" cy="293.3" r="2.33" fill="#bf4d7b"/>
<circle cx="160.6" cy="293.3" r="2.72" fill="#bb4474"/>
<circle cx="168.2" cy="293.3" r="0.58" fill="#ebc2d3"/>
<circle cx="176" cy="293.3" r="1.26" fill="#e4b0c5"/>
<circle cx="183.5" cy="293.3" r="0.97" fill="#e7b9cc"/>
<circle cx="191.3" cy="293.3" r="1.36" fill="#e7b9cc"/>
<circle cx="199.2" cy="293.3" r="1.46" fill="#e0a7be"/>
<circle cx="206.8" cy="293.3" r="2.33" fill="#e0a7be"/>
<circle cx="214.5" cy="293.3" r="0.48" fill="#ebc2d3"/>
<circle cx="222.3" cy="293.3" r="0.78" fill="#e0a7be"/>
<circle cx="230" cy="293.3" r="0.68" fill="#e7b9cc"/>
<circle cx="237.7" cy="293.3" r="0.78" fill="#e4b0c5"/>
<text x="127.1" y="308.9" font-size="8.41" textLength="96.13" lengthAdjust="spacingAndGlyphs" text-anchor="end" fill="#1a1a1a">0: exhausted effector T cells</text>
<line x1="130.6" y1="306.8" x2="132.2" y2="306.8" stroke="#333" stroke-width="0.6"/>
<circle cx="137.4" cy="306.8" r="2.23" fill="#c55f88"/>
<circle cx="145.2" cy="306.8" r="0.97" fill="#c25681"/>
<circle cx="152.9" cy="306.8" r="2.13" fill="#d383a3"/>
<circle cx="160.6" cy="306.8" r="2.42" fill="#dd9eb8"/>
<circle cx="168.2" cy="306.8" r="0.58" fill="#ebc2d3"/>
<circle cx="176" cy="306.8" r="1.46" fill="#e0a7be"/>
<circle cx="183.5" cy="306.8" r="0.87" fill="#ebc2d3"/>
<circle cx="191.3" cy="306.8" r="1.75" fill="#d68caa"/>
<circle cx="199.2" cy="306.8" r="1.94" fill="#d383a3"/>
<circle cx="206.8" cy="306.8" r="2.23" fill="#e0a7be"/>
<circle cx="214.5" cy="306.8" r="0.87" fill="#e7b9cc"/>
<circle cx="222.3" cy="306.8" r="0.97" fill="#d383a3"/>
<circle cx="230" cy="306.8" r="0.78" fill="#e7b9cc"/>
<circle cx="237.7" cy="306.8" r="0.87" fill="#e7b9cc"/>
<rect x="132.6" y="219.9" width="108.4" height="96.6" fill="none" stroke="#111" stroke-width="1.2"/>
<line x1="179.6" y1="219.9" x2="179.6" y2="316.5" stroke="#111" stroke-width="1.2"/>
<line x1="132.6" y1="274" x2="241" y2="274" stroke="#111" stroke-width="1.2"/>
<rect x="132.4" y="212.3" width="45.9" height="5.6" fill="#7f7f7f" rx="1"/>
<rect x="180.6" y="212.3" width="60.4" height="5.6" fill="#7f7f7f" rx="1"/>
<text x="156.3" y="217.9" font-size="8.94" textLength="37.61" lengthAdjust="spacingAndGlyphs" text-anchor="middle" fill="#fff">activated+</text>
<text x="211.4" y="217.9" font-size="8.94" textLength="35.55" lengthAdjust="spacingAndGlyphs" text-anchor="middle" fill="#fff">activated-</text>
<line x1="137.4" y1="316.5" x2="137.4" y2="318" stroke="#333" stroke-width="0.6"/>
<text x="134.9" y="318.6" font-size="7.79" textLength="23.05" lengthAdjust="spacingAndGlyphs" fill="#1a1a1a" transform="rotate(90 134.9 318.6)">KLRD1</text>
<line x1="145.2" y1="316.5" x2="145.2" y2="318" stroke="#333" stroke-width="0.6"/>
<text x="142.7" y="318.6" font-size="7.79" textLength="28.47" lengthAdjust="spacingAndGlyphs" fill="#1a1a1a" transform="rotate(90 142.7 318.6)">HAVCR2</text>
<line x1="152.9" y1="316.5" x2="152.9" y2="318" stroke="#333" stroke-width="0.6"/>
<text x="150.4" y="318.6" font-size="7.79" textLength="20.65" lengthAdjust="spacingAndGlyphs" fill="#1a1a1a" transform="rotate(90 150.4 318.6)">GZMB</text>
<line x1="160.6" y1="316.5" x2="160.6" y2="318" stroke="#333" stroke-width="0.6"/>
<text x="158.1" y="318.6" font-size="7.79" textLength="18.28" lengthAdjust="spacingAndGlyphs" fill="#1a1a1a" transform="rotate(90 158.1 318.6)">CD62</text>
<line x1="168.2" y1="316.5" x2="168.2" y2="318" stroke="#333" stroke-width="0.6"/>
<text x="165.7" y="318.6" font-size="7.79" textLength="20.66" lengthAdjust="spacingAndGlyphs" fill="#1a1a1a" transform="rotate(90 165.7 318.6)">MKI67</text>
<line x1="176" y1="316.5" x2="176" y2="318" stroke="#333" stroke-width="0.6"/>
<text x="173.5" y="318.6" font-size="7.79" textLength="25.43" lengthAdjust="spacingAndGlyphs" fill="#1a1a1a" transform="rotate(90 173.5 318.6)">HMGB2</text>
<line x1="183.5" y1="316.5" x2="183.5" y2="318" stroke="#333" stroke-width="0.6"/>
<text x="181" y="318.6" font-size="7.79" textLength="24.24" lengthAdjust="spacingAndGlyphs" fill="#1a1a1a" transform="rotate(90 181 318.6)">CXCR4</text>
<line x1="191.3" y1="316.5" x2="191.3" y2="318" stroke="#333" stroke-width="0.6"/>
<text x="188.8" y="318.6" font-size="7.79" textLength="15.49" lengthAdjust="spacingAndGlyphs" fill="#1a1a1a" transform="rotate(90 188.8 318.6)">IRF1</text>
<line x1="199.2" y1="316.5" x2="199.2" y2="318" stroke="#333" stroke-width="0.6"/>
<text x="196.7" y="318.6" font-size="7.79" textLength="17.88" lengthAdjust="spacingAndGlyphs" fill="#1a1a1a" transform="rotate(90 196.7 318.6)">ZEB2</text>
<line x1="206.8" y1="316.5" x2="206.8" y2="318" stroke="#333" stroke-width="0.6"/>
<text x="204.3" y="318.6" font-size="7.79" textLength="27.28" lengthAdjust="spacingAndGlyphs" fill="#1a1a1a" transform="rotate(90 204.3 318.6)">MALAT1</text>
<line x1="214.5" y1="316.5" x2="214.5" y2="318" stroke="#333" stroke-width="0.6"/>
<text x="212" y="318.6" font-size="7.79" textLength="26.63" lengthAdjust="spacingAndGlyphs" fill="#1a1a1a" transform="rotate(90 212 318.6)">CEP152</text>
<line x1="222.3" y1="316.5" x2="222.3" y2="318" stroke="#333" stroke-width="0.6"/>
<text x="219.8" y="318.6" font-size="7.79" textLength="14.7" lengthAdjust="spacingAndGlyphs" fill="#1a1a1a" transform="rotate(90 219.8 318.6)">MX2</text>
<line x1="230" y1="316.5" x2="230" y2="318" stroke="#333" stroke-width="0.6"/>
<text x="227.5" y="318.6" font-size="7.79" textLength="15.1" lengthAdjust="spacingAndGlyphs" fill="#1a1a1a" transform="rotate(90 227.5 318.6)">IL7R</text>
<line x1="237.7" y1="316.5" x2="237.7" y2="318" stroke="#333" stroke-width="0.6"/>
<text x="235.2" y="318.6" font-size="7.79" textLength="17.49" lengthAdjust="spacingAndGlyphs" fill="#1a1a1a" transform="rotate(90 235.2 318.6)">SELL</text>
<circle cx="254.4" cy="225.7" r="0.8" fill="#000"/>
<text x="271" y="229.4" font-size="7.9" textLength="8.45" lengthAdjust="spacingAndGlyphs" text-anchor="end" fill="#1a1a1a">25</text>
<circle cx="254.4" cy="231.2" r="1.3" fill="#000"/>
<text x="271" y="235.6" font-size="7.9" textLength="8.45" lengthAdjust="spacingAndGlyphs" text-anchor="end" fill="#1a1a1a">50</text>
<circle cx="254.4" cy="237.4" r="1.9" fill="#000"/>
<text x="271" y="242" font-size="7.9" textLength="8.45" lengthAdjust="spacingAndGlyphs" text-anchor="end" fill="#1a1a1a">75</text>
<circle cx="254.4" cy="246" r="2.5" fill="#000"/>
<text x="271" y="249" font-size="7.9" textLength="12.68" lengthAdjust="spacingAndGlyphs" text-anchor="end" fill="#1a1a1a">100</text>
<defs><linearGradient id="gD" x1="0" y1="0" x2="0" y2="1"><stop offset="0" stop-color="#bf4a77"/><stop offset="0.5" stop-color="#de9ab4"/><stop offset="1" stop-color="#fbf2f6"/></linearGradient></defs>
<rect x="252.2" y="258.7" width="5.8" height="25.1" fill="url(#gD)"/>
<text x="271" y="261.6" font-size="7.9" textLength="4.23" lengthAdjust="spacingAndGlyphs" text-anchor="end" fill="#1a1a1a">2</text>
<text x="271" y="268.3" font-size="7.9" textLength="4.23" lengthAdjust="spacingAndGlyphs" text-anchor="end" fill="#1a1a1a">1</text>
<text x="271" y="274.1" font-size="7.9" textLength="4.23" lengthAdjust="spacingAndGlyphs" text-anchor="end" fill="#1a1a1a">0</text>
<text x="271" y="280.2" font-size="7.9" textLength="8.67" lengthAdjust="spacingAndGlyphs" text-anchor="end" fill="#1a1a1a">−1</text>
<text x="320.3" y="212.2" font-size="11.07" textLength="6.54" lengthAdjust="spacingAndGlyphs" font-weight="bold">E</text>
<rect x="350.1" y="217.1" width="12.9" height="15.62" fill="#f07a7e" stroke="#999999" stroke-width="1"/>
<rect x="363" y="217.1" width="12.9" height="15.62" fill="#f8b0b6" stroke="#999999" stroke-width="1"/>
<rect x="375.9" y="217.1" width="12.9" height="15.62" fill="#f2868a" stroke="#999999" stroke-width="1"/>
<rect x="391.3" y="217.1" width="12.9" height="15.62" fill="#d4d4ec" stroke="#999999" stroke-width="1"/>
<rect x="404.2" y="217.1" width="12.9" height="15.62" fill="#5050a8" stroke="#999999" stroke-width="1"/>
<rect x="417.1" y="217.1" width="12.9" height="15.62" fill="#fbfbff" stroke="#999999" stroke-width="1"/>
<rect x="430" y="217.1" width="12.9" height="15.62" fill="#9a9ad0" stroke="#999999" stroke-width="1"/>
<rect x="350.1" y="232.72" width="12.9" height="15.62" fill="#f2868a" stroke="#999999" stroke-width="1"/>
<rect x="363" y="232.72" width="12.9" height="15.62" fill="#f28a8e" stroke="#999999" stroke-width="1"/>
<rect x="375.9" y="232.72" width="12.9" height="15.62" fill="#fdeaea" stroke="#999999" stroke-width="1"/>
<rect x="391.3" y="232.72" width="12.9" height="15.62" fill="#b8badd" stroke="#999999" stroke-width="1"/>
<rect x="404.2" y="232.72" width="12.9" height="15.62" fill="#f4f4fa" stroke="#999999" stroke-width="1"/>
<rect x="417.1" y="232.72" width="12.9" height="15.62" fill="#fcdcde" stroke="#999999" stroke-width="1"/>
<rect x="430" y="232.72" width="12.9" height="15.62" fill="#2b2e8c" stroke="#999999" stroke-width="1"/>
<rect x="350.1" y="248.34" width="12.9" height="15.62" fill="#ee5055" stroke="#999999" stroke-width="1"/>
<rect x="363" y="248.34" width="12.9" height="15.62" fill="#a8a8d4" stroke="#999999" stroke-width="1"/>
<rect x="375.9" y="248.34" width="12.9" height="15.62" fill="#fbd0d2" stroke="#999999" stroke-width="1"/>
<rect x="391.3" y="248.34" width="12.9" height="15.62" fill="#f9c0c4" stroke="#999999" stroke-width="1"/>
<rect x="404.2" y="248.34" width="12.9" height="15.62" fill="#6060b0" stroke="#999999" stroke-width="1"/>
<rect x="417.1" y="248.34" width="12.9" height="15.62" fill="#a8a8d4" stroke="#999999" stroke-width="1"/>
<rect x="430" y="248.34" width="12.9" height="15.62" fill="#fbd0d2" stroke="#999999" stroke-width="1"/>
<rect x="350.1" y="263.96" width="12.9" height="15.62" fill="#f0f0f8" stroke="#999999" stroke-width="1"/>
<rect x="363" y="263.96" width="12.9" height="15.62" fill="#d4d4ec" stroke="#999999" stroke-width="1"/>
<rect x="375.9" y="263.96" width="12.9" height="15.62" fill="#e82028" stroke="#999999" stroke-width="1"/>
<rect x="391.3" y="263.96" width="12.9" height="15.62" fill="#d4d4ec" stroke="#999999" stroke-width="1"/>
<rect x="404.2" y="263.96" width="12.9" height="15.62" fill="#b8b8dc" stroke="#999999" stroke-width="1"/>
<rect x="417.1" y="263.96" width="12.9" height="15.62" fill="#d4d4ec" stroke="#999999" stroke-width="1"/>
<rect x="430" y="263.96" width="12.9" height="15.62" fill="#d0d0ea" stroke="#999999" stroke-width="1"/>
<rect x="350.1" y="279.58" width="12.9" height="15.62" fill="#e0e0f0" stroke="#999999" stroke-width="1"/>
<rect x="363" y="279.58" width="12.9" height="15.62" fill="#ececf6" stroke="#999999" stroke-width="1"/>
<rect x="375.9" y="279.58" width="12.9" height="15.62" fill="#f59ca0" stroke="#999999" stroke-width="1"/>
<rect x="391.3" y="279.58" width="12.9" height="15.62" fill="#f28a8e" stroke="#999999" stroke-width="1"/>
<rect x="404.2" y="279.58" width="12.9" height="15.62" fill="#2b2e8c" stroke="#999999" stroke-width="1"/>
<rect x="417.1" y="279.58" width="12.9" height="15.62" fill="#ccccea" stroke="#999999" stroke-width="1"/>
<rect x="430" y="279.58" width="12.9" height="15.62" fill="#f59ca0" stroke="#999999" stroke-width="1"/>
<rect x="350.1" y="295.2" width="12.9" height="15.62" fill="#f28086" stroke="#999999" stroke-width="1"/>
<rect x="363" y="295.2" width="12.9" height="15.62" fill="#fccacc" stroke="#999999" stroke-width="1"/>
<rect x="375.9" y="295.2" width="12.9" height="15.62" fill="#dcdcf0" stroke="#999999" stroke-width="1"/>
<rect x="391.3" y="295.2" width="12.9" height="15.62" fill="#ee5a5e" stroke="#999999" stroke-width="1"/>
<rect x="404.2" y="295.2" width="12.9" height="15.62" fill="#a8a8d4" stroke="#999999" stroke-width="1"/>
<rect x="417.1" y="295.2" width="12.9" height="15.62" fill="#b4b4da" stroke="#999999" stroke-width="1"/>
<rect x="430" y="295.2" width="12.9" height="15.62" fill="#7070b4" stroke="#999999" stroke-width="1"/>
<rect x="350.1" y="310.82" width="12.9" height="15.62" fill="#9c9cd0" stroke="#999999" stroke-width="1"/>
<rect x="363" y="310.82" width="12.9" height="15.62" fill="#b4b4dc" stroke="#999999" stroke-width="1"/>
<rect x="375.9" y="310.82" width="12.9" height="15.62" fill="#e0e0f0" stroke="#999999" stroke-width="1"/>
<rect x="391.3" y="310.82" width="12.9" height="15.62" fill="#ee5a5e" stroke="#999999" stroke-width="1"/>
<rect x="404.2" y="310.82" width="12.9" height="15.62" fill="#c0c0e0" stroke="#999999" stroke-width="1"/>
<rect x="417.1" y="310.82" width="12.9" height="15.62" fill="#b8b8dc" stroke="#999999" stroke-width="1"/>
<rect x="430" y="310.82" width="12.9" height="15.62" fill="#ee5a5e" stroke="#999999" stroke-width="1"/>
<rect x="350.1" y="326.44" width="12.9" height="15.62" fill="#f0f0f8" stroke="#999999" stroke-width="1"/>
<rect x="363" y="326.44" width="12.9" height="15.62" fill="#2b2e8c" stroke="#999999" stroke-width="1"/>
<rect x="375.9" y="326.44" width="12.9" height="15.62" fill="#e8e8f4" stroke="#999999" stroke-width="1"/>
<rect x="391.3" y="326.44" width="12.9" height="15.62" fill="#fcfcff" stroke="#999999" stroke-width="1"/>
<rect x="404.2" y="326.44" width="12.9" height="15.62" fill="#f4f4fa" stroke="#999999" stroke-width="1"/>
<rect x="417.1" y="326.44" width="12.9" height="15.62" fill="#f59ca0" stroke="#999999" stroke-width="1"/>
<rect x="430" y="326.44" width="12.9" height="15.62" fill="#ee6a6e" stroke="#999999" stroke-width="1"/>
<rect x="350.1" y="205.3" width="38.7" height="9.6" fill="#7f7f7f" rx="1.5"/>
<rect x="391.3" y="205.3" width="51.6" height="9.6" fill="#7f7f7f" rx="1.5"/>
<text x="369.9" y="213.4" font-size="8.94" textLength="37.61" lengthAdjust="spacingAndGlyphs" text-anchor="middle" fill="#fff">activated+</text>
<text x="416.4" y="213.4" font-size="8.94" textLength="35.55" lengthAdjust="spacingAndGlyphs" text-anchor="middle" fill="#fff">activated-</text>
<text x="445.7" y="225.9" font-size="8.23" textLength="49.52" lengthAdjust="spacingAndGlyphs" fill="#1a1a1a">CD8 Activation</text>
<text x="445.7" y="241.8" font-size="8.23" textLength="28.53" lengthAdjust="spacingAndGlyphs" fill="#1a1a1a">Cytolytic</text>
<text x="445.7" y="257.6" font-size="8.23" textLength="84.21" lengthAdjust="spacingAndGlyphs" fill="#1a1a1a">CD8 Terminal exhaustion</text>
<text x="445.7" y="273" font-size="8.23" textLength="40.29" lengthAdjust="spacingAndGlyphs" fill="#1a1a1a">Proliferation</text>
<text x="445.7" y="288.5" font-size="8.23" textLength="68.82" lengthAdjust="spacingAndGlyphs" fill="#1a1a1a">CD8 Early Activation</text>
<text x="445.7" y="304.3" font-size="8.23" textLength="90.65" lengthAdjust="spacingAndGlyphs" fill="#1a1a1a">CD8 Progenitor exhaustion</text>
<text x="445.7" y="319.9" font-size="8.23" textLength="102.58" lengthAdjust="spacingAndGlyphs" fill="#1a1a1a">GZMK+ memory-like signature</text>
<text x="445.7" y="336.6" font-size="8.23" textLength="19.3" lengthAdjust="spacingAndGlyphs" fill="#1a1a1a">Naive</text>
<rect x="350.7" y="344.2" width="11.7" height="4.8" fill="#f9a9a9"/>
<text x="353.95" y="352.2" font-size="7.85" textLength="4" lengthAdjust="spacingAndGlyphs" fill="#1a1a1a" transform="rotate(90 353.95 352.2)">0</text>
<rect x="363.6" y="344.2" width="11.7" height="4.8" fill="#f5837b"/>
<text x="366.85" y="352.2" font-size="7.85" textLength="4" lengthAdjust="spacingAndGlyphs" fill="#1a1a1a" transform="rotate(90 366.85 352.2)">2</text>
<rect x="376.5" y="344.2" width="11.7" height="4.8" fill="#9e1f5a"/>
<text x="379.75" y="352.2" font-size="7.85" textLength="4" lengthAdjust="spacingAndGlyphs" fill="#1a1a1a" transform="rotate(90 379.75 352.2)">6</text>
<rect x="391.9" y="344.2" width="11.7" height="4.8" fill="#c0dcee"/>
<text x="395.15" y="352.2" font-size="7.85" textLength="4" lengthAdjust="spacingAndGlyphs" fill="#1a1a1a" transform="rotate(90 395.15 352.2)">1</text>
<rect x="404.8" y="344.2" width="11.7" height="4.8" fill="#2a7ab8"/>
<text x="408.05" y="352.2" font-size="7.85" textLength="4" lengthAdjust="spacingAndGlyphs" fill="#1a1a1a" transform="rotate(90 408.05 352.2)">3</text>
<rect x="417.7" y="344.2" width="11.7" height="4.8" fill="#2b2e8c"/>
<text x="420.95" y="352.2" font-size="7.85" textLength="4" lengthAdjust="spacingAndGlyphs" fill="#1a1a1a" transform="rotate(90 420.95 352.2)">4</text>
<rect x="430.6" y="344.2" width="11.7" height="4.8" fill="#9d91c6"/>
<text x="433.85" y="352.2" font-size="7.85" textLength="4" lengthAdjust="spacingAndGlyphs" fill="#1a1a1a" transform="rotate(90 433.85 352.2)">5</text>
<defs><linearGradient id="gE" x1="0" y1="0" x2="0" y2="1"><stop offset="0" stop-color="#e8262e"/><stop offset="0.5" stop-color="#ffffff"/><stop offset="1" stop-color="#2b2e8c"/></linearGradient></defs>
<rect x="552.3" y="217.2" width="3.8" height="45.5" fill="url(#gE)"/>
<text x="566" y="220.8" font-size="8.28" textLength="4.23" lengthAdjust="spacingAndGlyphs" text-anchor="end" fill="#1a1a1a">2</text>
<text x="566" y="231" font-size="8.28" textLength="4.23" lengthAdjust="spacingAndGlyphs" text-anchor="end" fill="#1a1a1a">1</text>
<text x="566" y="242.1" font-size="8.28" textLength="4.23" lengthAdjust="spacingAndGlyphs" text-anchor="end" fill="#1a1a1a">0</text>
<text x="566" y="252.4" font-size="8.28" textLength="8.67" lengthAdjust="spacingAndGlyphs" text-anchor="end" fill="#1a1a1a">−1</text>
<text x="566" y="263.9" font-size="8.28" textLength="8.67" lengthAdjust="spacingAndGlyphs" text-anchor="end" fill="#1a1a1a">−2</text>
<text x="0" y="380.4" font-size="11.07" textLength="5.99" lengthAdjust="spacingAndGlyphs" font-weight="bold">F</text>
<text x="10.6" y="455.3" font-size="8.67" textLength="93.16" lengthAdjust="spacingAndGlyphs" text-anchor="middle" fill="#1a1a1a" transform="rotate(-90 10.6 455.3)">Proportion of CD8+ T cells</text>
<rect x="15.6" y="373.8" width="8.4" height="75.8" fill="#7f7f7f" rx="1.5"/>
<rect x="15.6" y="454" width="8.4" height="74.6" fill="#7f7f7f" rx="1.5"/>
<text x="22.5" y="411.7" font-size="8.39" textLength="37.88" lengthAdjust="spacingAndGlyphs" text-anchor="middle" font-weight="bold" fill="#fff" transform="rotate(-90 22.5 411.7)">activated+</text>
<text x="22.5" y="491.3" font-size="8.39" textLength="35.95" lengthAdjust="spacingAndGlyphs" text-anchor="middle" font-weight="bold" fill="#fff" transform="rotate(-90 22.5 491.3)">activated-</text>
<text x="44.3" y="386.25" font-size="8.28" textLength="14.79" lengthAdjust="spacingAndGlyphs" text-anchor="end" fill="#4d4d4d">1.00</text>
<line x1="45.6" y1="383.5" x2="47.4" y2="383.5" stroke="#333" stroke-width="0.6"/>
<text x="44.3" y="401.95" font-size="8.28" textLength="14.79" lengthAdjust="spacingAndGlyphs" text-anchor="end" fill="#4d4d4d">0.75</text>
<line x1="45.6" y1="399.2" x2="47.4" y2="399.2" stroke="#333" stroke-width="0.6"/>
<text x="44.3" y="417.65" font-size="8.28" textLength="14.79" lengthAdjust="spacingAndGlyphs" text-anchor="end" fill="#4d4d4d">0.50</text>
<line x1="45.6" y1="414.9" x2="47.4" y2="414.9" stroke="#333" stroke-width="0.6"/>
<text x="44.3" y="433.35" font-size="8.28" textLength="14.79" lengthAdjust="spacingAndGlyphs" text-anchor="end" fill="#4d4d4d">0.25</text>
<line x1="45.6" y1="430.6" x2="47.4" y2="430.6" stroke="#333" stroke-width="0.6"/>
<text x="44.3" y="449.05" font-size="8.28" textLength="4.23" lengthAdjust="spacingAndGlyphs" text-anchor="end" fill="#4d4d4d">0</text>
<line x1="45.6" y1="446.3" x2="47.4" y2="446.3" stroke="#333" stroke-width="0.6"/>
<line x1="47.4" y1="381.5" x2="47.4" y2="449.9" stroke="#111" stroke-width="0.9"/>
<line x1="47" y1="449.5" x2="201.7" y2="449.5" stroke="#111" stroke-width="0.9"/>
<rect x="47.4" y="372.7" width="49" height="6.8" fill="#f9a7a7" stroke="#222" stroke-width="0.8"/>
<text x="71.9" y="378.4" font-size="8.07" textLength="4.12" lengthAdjust="spacingAndGlyphs" text-anchor="middle" fill="#fff">0</text>
<rect x="99.2" y="372.7" width="48.5" height="6.8" fill="#f5837a" stroke="#222" stroke-width="0.8"/>
<text x="123.45" y="378.4" font-size="8.07" textLength="4.12" lengthAdjust="spacingAndGlyphs" text-anchor="middle" fill="#fff">2</text>
<rect x="150.3" y="372.7" width="49.6" height="6.8" fill="#9e1f5a" stroke="#222" stroke-width="0.8"/>
<text x="175.1" y="378.4" font-size="8.07" textLength="4.12" lengthAdjust="spacingAndGlyphs" text-anchor="middle" fill="#fff">6</text>
<line x1="60.9" y1="409.1" x2="60.9" y2="418.4" stroke="#555" stroke-width="0.6"/>
<line x1="60.9" y1="435" x2="60.9" y2="446.3" stroke="#555" stroke-width="0.6"/>
<rect x="52.3" y="418.4" width="17.2" height="16.6" fill="#9d9fdf" stroke="#333333" stroke-width="0.8"/>
<line x1="52.3" y1="428.4" x2="69.5" y2="428.4" stroke="#333333" stroke-width="1.1"/>
<line x1="83.2" y1="383.5" x2="83.2" y2="406.7" stroke="#555" stroke-width="0.6"/>
<line x1="83.2" y1="433.8" x2="83.2" y2="446.3" stroke="#555" stroke-width="0.6"/>
<rect x="74.7" y="406.7" width="17" height="27.1" fill="#97d5d1" stroke="#333333" stroke-width="0.8"/>
<line x1="74.7" y1="415.4" x2="91.7" y2="415.4" stroke="#333333" stroke-width="1.1"/>
<line x1="112.2" y1="422.3" x2="112.2" y2="430.7" stroke="#555" stroke-width="0.6"/>
<line x1="112.2" y1="440.7" x2="112.2" y2="446.3" stroke="#555" stroke-width="0.6"/>
<rect x="103.8" y="430.7" width="16.8" height="10" fill="#9d9fdf" stroke="#333333" stroke-width="0.8"/>
<line x1="103.8" y1="436.3" x2="120.6" y2="436.3" stroke="#333333" stroke-width="1.1"/>
<circle cx="112.2" cy="407.9" r="0.9" fill="#222"/>
<circle cx="112.2" cy="411.9" r="0.9" fill="#222"/>
<line x1="134.6" y1="424" x2="134.6" y2="433" stroke="#555" stroke-width="0.6"/>
<line x1="134.6" y1="442.4" x2="134.6" y2="446.3" stroke="#555" stroke-width="0.6"/>
<rect x="126.2" y="433" width="16.8" height="9.4" fill="#97d5d1" stroke="#333333" stroke-width="0.8"/>
<line x1="126.2" y1="439.4" x2="143" y2="439.4" stroke="#333333" stroke-width="1.1"/>
<circle cx="134.6" cy="405" r="0.9" fill="#222"/>
<circle cx="134.6" cy="418.4" r="0.9" fill="#222"/>
<line x1="163.8" y1="436.1" x2="163.8" y2="440.3" stroke="#555" stroke-width="0.6"/>
<line x1="163.8" y1="446.3" x2="163.8" y2="446.3" stroke="#555" stroke-width="0.6"/>
<rect x="155.25" y="440.3" width="17.1" height="6" fill="#9d9fdf" stroke="#333333" stroke-width="0.8"/>
<line x1="155.25" y1="443.3" x2="172.35" y2="443.3" stroke="#333333" stroke-width="1.1"/>
<line x1="186.1" y1="446" x2="186.1" y2="446" stroke="#555" stroke-width="0.6"/>
<line x1="186.1" y1="446.4" x2="186.1" y2="446.4" stroke="#555" stroke-width="0.6"/>
<rect x="177.45" y="446" width="17.3" height="0.4" fill="#97d5d1" stroke="#333333" stroke-width="0.8"/>
<line x1="177.45" y1="446.2" x2="194.75" y2="446.2" stroke="#333333" stroke-width="1.1"/>
<circle cx="186.1" cy="435.9" r="0.9" fill="#222"/>
<circle cx="186.1" cy="442.4" r="0.9" fill="#222"/>
<path d="M61.4 392.1V389.5H83.4V392.1" fill="none" stroke="#222" stroke-width="0.8"/>
<text x="72.4" y="387.6" font-size="8.07" textLength="11.93" lengthAdjust="spacingAndGlyphs" text-anchor="middle" fill="#1a1a1a">n.s.</text>
<path d="M113.2 391.4V388.8H135.4V391.4" fill="none" stroke="#222" stroke-width="0.8"/>
<text x="124.3" y="386.9" font-size="8.07" textLength="11.93" lengthAdjust="spacingAndGlyphs" text-anchor="middle" fill="#1a1a1a">n.s.</text>
<path d="M164.2 390.6V388H187.3V390.6" fill="none" stroke="#222" stroke-width="0.8"/>
<text x="175.75" y="387" font-size="8.07" textLength="2.88" lengthAdjust="spacingAndGlyphs" text-anchor="middle" fill="#1a1a1a">*</text>
<text x="44.3" y="464.75" font-size="8.28" textLength="14.79" lengthAdjust="spacingAndGlyphs" text-anchor="end" fill="#4d4d4d">1.00</text>
<line x1="45.6" y1="462" x2="47.4" y2="462" stroke="#333" stroke-width="0.6"/>
<text x="44.3" y="480.45" font-size="8.28" textLength="14.79" lengthAdjust="spacingAndGlyphs" text-anchor="end" fill="#4d4d4d">0.75</text>
<line x1="45.6" y1="477.7" x2="47.4" y2="477.7" stroke="#333" stroke-width="0.6"/>
<text x="44.3" y="496.15" font-size="8.28" textLength="14.79" lengthAdjust="spacingAndGlyphs" text-anchor="end" fill="#4d4d4d">0.50</text>
<line x1="45.6" y1="493.4" x2="47.4" y2="493.4" stroke="#333" stroke-width="0.6"/>
<text x="44.3" y="511.85" font-size="8.28" textLength="14.79" lengthAdjust="spacingAndGlyphs" text-anchor="end" fill="#4d4d4d">0.25</text>
<line x1="45.6" y1="509.1" x2="47.4" y2="509.1" stroke="#333" stroke-width="0.6"/>
<text x="44.3" y="527.55" font-size="8.28" textLength="4.23" lengthAdjust="spacingAndGlyphs" text-anchor="end" fill="#4d4d4d">0</text>
<line x1="45.6" y1="524.8" x2="47.4" y2="524.8" stroke="#333" stroke-width="0.6"/>
<line x1="47.4" y1="461" x2="47.4" y2="528.8" stroke="#111" stroke-width="0.9"/>
<line x1="47" y1="528.4" x2="250" y2="528.4" stroke="#111" stroke-width="0.9"/>
<rect x="47.2" y="452.2" width="48.3" height="7.1" fill="#c0dcee" stroke="#222" stroke-width="0.8"/>
<text x="71.35" y="458.2" font-size="8.07" textLength="4.12" lengthAdjust="spacingAndGlyphs" text-anchor="middle" fill="#fff">1</text>
<rect x="98.3" y="452.2" width="49" height="7.1" fill="#2a7ab8" stroke="#222" stroke-width="0.8"/>
<text x="122.8" y="458.2" font-size="8.07" textLength="4.12" lengthAdjust="spacingAndGlyphs" text-anchor="middle" fill="#fff">3</text>
<rect x="149.7" y="452.2" width="49" height="7.1" fill="#2b2e8c" stroke="#222" stroke-width="0.8"/>
<text x="174.2" y="458.2" font-size="8.07" textLength="4.12" lengthAdjust="spacingAndGlyphs" text-anchor="middle" fill="#fff">4</text>
<rect x="200.5" y="452.2" width="49.1" height="7.1" fill="#9d91c6" stroke="#222" stroke-width="0.8"/>
<text x="225.05" y="458.2" font-size="8.07" textLength="4.12" lengthAdjust="spacingAndGlyphs" text-anchor="middle" fill="#fff">5</text>
<line x1="60" y1="494.5" x2="60" y2="510.6" stroke="#555" stroke-width="0.6"/>
<line x1="60" y1="524" x2="60" y2="524.8" stroke="#555" stroke-width="0.6"/>
<rect x="51.4" y="510.6" width="17.2" height="13.4" fill="#9d9fdf" stroke="#333333" stroke-width="0.8"/>
<line x1="51.4" y1="521.5" x2="68.6" y2="521.5" stroke="#333333" stroke-width="1.1"/>
<circle cx="60" cy="472.9" r="0.9" fill="#222"/>
<circle cx="60" cy="478.4" r="0.9" fill="#222"/>
<line x1="82.4" y1="498.1" x2="82.4" y2="508.6" stroke="#555" stroke-width="0.6"/>
<line x1="82.4" y1="524" x2="82.4" y2="524.8" stroke="#555" stroke-width="0.6"/>
<rect x="74" y="508.6" width="16.8" height="15.4" fill="#97d5d1" stroke="#333333" stroke-width="0.8"/>
<line x1="74" y1="517.7" x2="90.8" y2="517.7" stroke="#333333" stroke-width="1.1"/>
<circle cx="82.4" cy="472.9" r="0.9" fill="#222"/>
<circle cx="82.4" cy="481" r="0.9" fill="#222"/>
<line x1="113.1" y1="513.8" x2="113.1" y2="519" stroke="#555" stroke-width="0.6"/>
<line x1="113.1" y1="524.6" x2="113.1" y2="524.8" stroke="#555" stroke-width="0.6"/>
<rect x="104.55" y="519" width="17.1" height="5.6" fill="#9d9fdf" stroke="#333333" stroke-width="0.8"/>
<line x1="104.55" y1="520.6" x2="121.65" y2="520.6" stroke="#333333" stroke-width="1.1"/>
<line x1="134.9" y1="515.6" x2="134.9" y2="519.9" stroke="#555" stroke-width="0.6"/>
<line x1="134.9" y1="524.3" x2="134.9" y2="524.8" stroke="#555" stroke-width="0.6"/>
<rect x="126.2" y="519.9" width="17.4" height="4.4" fill="#97d5d1" stroke="#333333" stroke-width="0.8"/>
<line x1="126.2" y1="522.1" x2="143.6" y2="522.1" stroke="#333333" stroke-width="1.1"/>
<circle cx="134.9" cy="510.1" r="0.9" fill="#222"/>
<line x1="162.8" y1="513.8" x2="162.8" y2="516.8" stroke="#555" stroke-width="0.6"/>
<line x1="162.8" y1="523" x2="162.8" y2="524.8" stroke="#555" stroke-width="0.6"/>
<rect x="154.05" y="516.8" width="17.5" height="6.2" fill="#9d9fdf" stroke="#333333" stroke-width="0.8"/>
<line x1="154.05" y1="518.9" x2="171.55" y2="518.9" stroke="#333333" stroke-width="1.1"/>
<circle cx="162.8" cy="507.9" r="0.9" fill="#222"/>
<line x1="185.4" y1="505" x2="185.4" y2="512.3" stroke="#555" stroke-width="0.6"/>
<line x1="185.4" y1="520.2" x2="185.4" y2="524.8" stroke="#555" stroke-width="0.6"/>
<rect x="176.75" y="512.3" width="17.3" height="7.9" fill="#97d5d1" stroke="#333333" stroke-width="0.8"/>
<line x1="176.75" y1="518.4" x2="194.05" y2="518.4" stroke="#333333" stroke-width="1.1"/>
<circle cx="185.4" cy="494.2" r="0.9" fill="#222"/>
<line x1="213.9" y1="517.5" x2="213.9" y2="519.3" stroke="#555" stroke-width="0.6"/>
<line x1="213.9" y1="524.6" x2="213.9" y2="524.8" stroke="#555" stroke-width="0.6"/>
<rect x="205.05" y="519.3" width="17.7" height="5.3" fill="#9d9fdf" stroke="#333333" stroke-width="0.8"/>
<line x1="205.05" y1="521.4" x2="222.75" y2="521.4" stroke="#333333" stroke-width="1.1"/>
<circle cx="213.9" cy="490" r="0.9" fill="#222"/>
<circle cx="213.9" cy="493" r="0.9" fill="#222"/>
<line x1="236.2" y1="524.4" x2="236.2" y2="524.4" stroke="#555" stroke-width="0.6"/>
<line x1="236.2" y1="524.8" x2="236.2" y2="524.8" stroke="#555" stroke-width="0.6"/>
<rect x="227.65" y="524.4" width="17.1" height="0.4" fill="#97d5d1" stroke="#333333" stroke-width="0.8"/>
<line x1="227.65" y1="524.6" x2="244.75" y2="524.6" stroke="#333333" stroke-width="1.1"/>
<circle cx="236.2" cy="523.6" r="0.9" fill="#222"/>
<path d="M59.9 469.3V466.7H82.3V469.3" fill="none" stroke="#222" stroke-width="0.8"/>
<text x="71.1" y="464.9" font-size="8.07" textLength="11.93" lengthAdjust="spacingAndGlyphs" text-anchor="middle" fill="#1a1a1a">n.s.</text>
<path d="M113 470.2V467.6H135.4V470.2" fill="none" stroke="#222" stroke-width="0.8"/>
<text x="124.2" y="465.6" font-size="8.07" textLength="11.93" lengthAdjust="spacingAndGlyphs" text-anchor="middle" fill="#1a1a1a">n.s.</text>
<path d="M165.3 470.2V467.6H187.3V470.2" fill="none" stroke="#222" stroke-width="0.8"/>
<text x="176.3" y="465.6" font-size="8.07" textLength="11.93" lengthAdjust="spacingAndGlyphs" text-anchor="middle" fill="#1a1a1a">n.s.</text>
<path d="M213.3 471.3V468.7H235.5V471.3" fill="none" stroke="#222" stroke-width="0.8"/>
<text x="224.4" y="467.4" font-size="8.07" textLength="8.64" lengthAdjust="spacingAndGlyphs" text-anchor="middle" fill="#1a1a1a">***</text>
<line x1="60" y1="528.4" x2="60" y2="530" stroke="#333" stroke-width="0.6"/>
<line x1="82.4" y1="528.4" x2="82.4" y2="530" stroke="#333" stroke-width="0.6"/>
<line x1="113.1" y1="528.4" x2="113.1" y2="530" stroke="#333" stroke-width="0.6"/>
<line x1="134.9" y1="528.4" x2="134.9" y2="530" stroke="#333" stroke-width="0.6"/>
<line x1="162.8" y1="528.4" x2="162.8" y2="530" stroke="#333" stroke-width="0.6"/>
<line x1="185.4" y1="528.4" x2="185.4" y2="530" stroke="#333" stroke-width="0.6"/>
<line x1="213.9" y1="528.4" x2="213.9" y2="530" stroke="#333" stroke-width="0.6"/>
<line x1="236.2" y1="528.4" x2="236.2" y2="530" stroke="#333" stroke-width="0.6"/>
<text x="58.8" y="537.9" font-size="8.28" textLength="17.75" lengthAdjust="spacingAndGlyphs" text-anchor="middle" fill="#1a1a1a">Endo</text>
<text x="58.4" y="543.3" font-size="8.28" textLength="24.93" lengthAdjust="spacingAndGlyphs" text-anchor="middle" fill="#1a1a1a">genous</text>
<text x="83.2" y="537.9" font-size="8.28" textLength="20.55" lengthAdjust="spacingAndGlyphs" text-anchor="middle" fill="#1a1a1a">CART</text>
<text x="111.9" y="537.9" font-size="8.28" textLength="17.75" lengthAdjust="spacingAndGlyphs" text-anchor="middle" fill="#1a1a1a">Endo</text>
<text x="111.5" y="543.3" font-size="8.28" textLength="24.93" lengthAdjust="spacingAndGlyphs" text-anchor="middle" fill="#1a1a1a">genous</text>
<text x="135.7" y="537.9" font-size="8.28" textLength="20.55" lengthAdjust="spacingAndGlyphs" text-anchor="middle" fill="#1a1a1a">CART</text>
<text x="161.6" y="537.9" font-size="8.28" textLength="17.75" lengthAdjust="spacingAndGlyphs" text-anchor="middle" fill="#1a1a1a">Endo</text>
<text x="161.2" y="543.3" font-size="8.28" textLength="24.93" lengthAdjust="spacingAndGlyphs" text-anchor="middle" fill="#1a1a1a">genous</text>
<text x="186.2" y="537.9" font-size="8.28" textLength="20.55" lengthAdjust="spacingAndGlyphs" text-anchor="middle" fill="#1a1a1a">CART</text>
<text x="212.7" y="537.9" font-size="8.28" textLength="17.75" lengthAdjust="spacingAndGlyphs" text-anchor="middle" fill="#1a1a1a">Endo</text>
<text x="212.3" y="543.3" font-size="8.28" textLength="24.93" lengthAdjust="spacingAndGlyphs" text-anchor="middle" fill="#1a1a1a">genous</text>
<text x="237" y="537.9" font-size="8.28" textLength="20.55" lengthAdjust="spacingAndGlyphs" text-anchor="middle" fill="#1a1a1a">CART</text>
<text x="221.7" y="391" font-size="8.28" textLength="34.86" lengthAdjust="spacingAndGlyphs" text-anchor="middle" fill="#1a1a1a" transform="rotate(-90 221.7 391)">activated+</text>
<text x="221.7" y="431" font-size="8.28" textLength="32.95" lengthAdjust="spacingAndGlyphs" text-anchor="middle" fill="#1a1a1a" transform="rotate(-90 221.7 431)">activated-</text>
<text x="226.4" y="386" font-size="8.39" textLength="28.24" lengthAdjust="spacingAndGlyphs" fill="#1a1a1a">Clusters</text>
<rect x="231" y="389.3" width="6.2" height="6.75" fill="#f9aeae"/>
<text x="238.4" y="394.7" font-size="8.39" textLength="95.88" lengthAdjust="spacingAndGlyphs" fill="#1a1a1a">0: exhausted effector T cells</text>
<rect x="231" y="396" width="6.2" height="6.75" fill="#f5837a"/>
<text x="238.4" y="401.4" font-size="8.39" textLength="91.17" lengthAdjust="spacingAndGlyphs" fill="#1a1a1a">2: activated effector T cells</text>
<rect x="231" y="402.7" width="6.2" height="6.75" fill="#9e1f5a"/>
<text x="238.4" y="408.1" font-size="8.39" textLength="89.16" lengthAdjust="spacingAndGlyphs" fill="#1a1a1a">6: activated cycling T cells</text>
<rect x="231" y="415.4" width="6.2" height="6.75" fill="#c0dcee"/>
<text x="238.4" y="420.8" font-size="8.39" textLength="109.26" lengthAdjust="spacingAndGlyphs" fill="#1a1a1a">1: memory-like precursor T cells</text>
<rect x="231" y="422.1" width="6.2" height="6.75" fill="#2a7ab8"/>
<text x="238.4" y="427.5" font-size="8.39" textLength="80.89" lengthAdjust="spacingAndGlyphs" fill="#1a1a1a">3: transitional T cells T1</text>
<rect x="231" y="428.8" width="6.2" height="6.75" fill="#2b2e8c"/>
<text x="238.4" y="434.2" font-size="8.39" textLength="80.89" lengthAdjust="spacingAndGlyphs" fill="#1a1a1a">4: transitional T cells T2</text>
<rect x="231" y="435.5" width="6.2" height="6.75" fill="#9d94c8"/>
<text x="238.4" y="440.9" font-size="8.39" textLength="65.19" lengthAdjust="spacingAndGlyphs" fill="#1a1a1a">5: naive-like T cells</text>
<text x="266.8" y="476.7" font-size="8.28" textLength="20.27" lengthAdjust="spacingAndGlyphs" fill="#1a1a1a">M2D1</text>
<rect x="266.2" y="483.6" width="12.3" height="10.6" fill="#b1b3e8" stroke="#333" stroke-width="0.9"/>
<rect x="266.2" y="498.3" width="12.3" height="10.4" fill="#a9dcd9" stroke="#333" stroke-width="0.9"/>
<text x="282.6" y="486.3" font-size="8.41" textLength="43.36" lengthAdjust="spacingAndGlyphs" fill="#1a1a1a">Endogenous</text>
<text x="282.6" y="494.8" font-size="8.41" textLength="22.16" lengthAdjust="spacingAndGlyphs" fill="#1a1a1a">T cells</text>
<text x="283.3" y="507" font-size="8.31" textLength="40.5" lengthAdjust="spacingAndGlyphs" fill="#1a1a1a">CAR-T cells</text>
<text x="372.6" y="381.9" font-size="11.07" textLength="7.62" lengthAdjust="spacingAndGlyphs" font-weight="bold">G</text>
<line x1="403.25" y1="411.6" x2="403.25" y2="512" stroke="#f2f2f2" stroke-width="0.5"/>
<line x1="433.95" y1="411.6" x2="433.95" y2="512" stroke="#f2f2f2" stroke-width="0.5"/>
<line x1="464.65" y1="411.6" x2="464.65" y2="512" stroke="#f2f2f2" stroke-width="0.5"/>
<line x1="495.35" y1="411.6" x2="495.35" y2="512" stroke="#f2f2f2" stroke-width="0.5"/>
<line x1="401.7" y1="491.95" x2="527" y2="491.95" stroke="#f2f2f2" stroke-width="0.5"/>
<line x1="401.7" y1="462.85" x2="527" y2="462.85" stroke="#f2f2f2" stroke-width="0.5"/>
<line x1="401.7" y1="433.75" x2="527" y2="433.75" stroke="#f2f2f2" stroke-width="0.5"/>
<line x1="418.6" y1="411.6" x2="418.6" y2="512" stroke="#e6e6e6" stroke-width="0.8"/>
<line x1="449.3" y1="411.6" x2="449.3" y2="512" stroke="#e6e6e6" stroke-width="0.8"/>
<line x1="480" y1="411.6" x2="480" y2="512" stroke="#e6e6e6" stroke-width="0.8"/>
<line x1="510.7" y1="411.6" x2="510.7" y2="512" stroke="#e6e6e6" stroke-width="0.8"/>
<line x1="401.7" y1="506.5" x2="527" y2="506.5" stroke="#e6e6e6" stroke-width="0.8"/>
<line x1="401.7" y1="477.4" x2="527" y2="477.4" stroke="#e6e6e6" stroke-width="0.8"/>
<line x1="401.7" y1="448.3" x2="527" y2="448.3" stroke="#e6e6e6" stroke-width="0.8"/>
<line x1="401.7" y1="419.2" x2="527" y2="419.2" stroke="#e6e6e6" stroke-width="0.8"/>
<line x1="445.4" y1="411.6" x2="445.4" y2="512" stroke="#666" stroke-width="0.6" stroke-dasharray="2 1.5"/>
<line x1="453" y1="411.6" x2="453" y2="512" stroke="#666" stroke-width="0.6" stroke-dasharray="2 1.5"/>
<line x1="401.7" y1="505.8" x2="527" y2="505.8" stroke="#666" stroke-width="0.6" stroke-dasharray="2 1.5"/>
<line x1="401.7" y1="411.6" x2="401.7" y2="512" stroke="#222" stroke-width="0.9"/>
<line x1="401.7" y1="512" x2="527" y2="512" stroke="#222" stroke-width="0.9"/>
<text x="399" y="421.9" font-size="8.28" textLength="12.68" lengthAdjust="spacingAndGlyphs" text-anchor="end" fill="#4d4d4d">150</text>
<line x1="399.9" y1="419.2" x2="401.7" y2="419.2" stroke="#333" stroke-width="0.6"/>
<text x="399" y="451" font-size="8.28" textLength="12.68" lengthAdjust="spacingAndGlyphs" text-anchor="end" fill="#4d4d4d">100</text>
<line x1="399.9" y1="448.3" x2="401.7" y2="448.3" stroke="#333" stroke-width="0.6"/>
<text x="399" y="480.1" font-size="8.28" textLength="8.45" lengthAdjust="spacingAndGlyphs" text-anchor="end" fill="#4d4d4d">50</text>
<line x1="399.9" y1="477.4" x2="401.7" y2="477.4" stroke="#333" stroke-width="0.6"/>
<text x="399" y="509.2" font-size="8.28" textLength="4.23" lengthAdjust="spacingAndGlyphs" text-anchor="end" fill="#4d4d4d">0</text>
<line x1="399.9" y1="506.5" x2="401.7" y2="506.5" stroke="#333" stroke-width="0.6"/>
<text x="418.6" y="519.4" font-size="8.28" textLength="8.67" lengthAdjust="spacingAndGlyphs" text-anchor="middle" fill="#4d4d4d">−2</text>
<line x1="418.6" y1="512" x2="418.6" y2="513.6" stroke="#333" stroke-width="0.6"/>
<text x="449.3" y="519.4" font-size="8.28" textLength="4.23" lengthAdjust="spacingAndGlyphs" text-anchor="middle" fill="#4d4d4d">0</text>
<line x1="449.3" y1="512" x2="449.3" y2="513.6" stroke="#333" stroke-width="0.6"/>
<text x="480" y="519.4" font-size="8.28" textLength="4.23" lengthAdjust="spacingAndGlyphs" text-anchor="middle" fill="#4d4d4d">2</text>
<line x1="480" y1="512" x2="480" y2="513.6" stroke="#333" stroke-width="0.6"/>
<text x="510.7" y="519.4" font-size="8.28" textLength="4.23" lengthAdjust="spacingAndGlyphs" text-anchor="middle" fill="#4d4d4d">4</text>
<line x1="510.7" y1="512" x2="510.7" y2="513.6" stroke="#333" stroke-width="0.6"/>
<text x="472.6" y="526.3" font-size="7.6" text-anchor="middle" fill="#1a1a1a">Log<tspan font-size="5.6" dy="1.6">2</tspan><tspan dy="-1.6"> fold change</tspan></text>
<text x="383.3" y="459.3" font-size="7.6" text-anchor="middle" fill="#1a1a1a" transform="rotate(-90 383.3 459.3)">−Log10<tspan font-size="5.8" dy="-3">P</tspan></text>
<rect x="376.1" y="398.4" width="73.1" height="10.4" fill="#808080" rx="2"/>
<rect x="451.6" y="398.4" width="48.8" height="10.4" fill="#808080" rx="2"/>
<text x="412.6" y="406.4" font-size="8.44" textLength="73.11" lengthAdjust="spacingAndGlyphs" text-anchor="middle" font-weight="bold" fill="#fff">Endogenous T cells</text>
<text x="476" y="406.4" font-size="8.44" textLength="43.44" lengthAdjust="spacingAndGlyphs" text-anchor="middle" font-weight="bold" fill="#fff">CAR-T cells</text>
<g fill="#ad2c6d"><circle cx="440.5" cy="500.6" r="1.5"/><circle cx="438.3" cy="500.0" r="1.5"/><circle cx="439.8" cy="497.2" r="1.5"/><circle cx="444.3" cy="498.1" r="1.5"/><circle cx="440.2" cy="499.4" r="1.5"/><circle cx="442.7" cy="497.7" r="1.5"/><circle cx="441.5" cy="495.7" r="1.5"/><circle cx="439.5" cy="496.8" r="1.5"/><circle cx="437.5" cy="494.5" r="1.5"/><circle cx="436.9" cy="497.3" r="1.5"/><circle cx="439.9" cy="497.1" r="1.5"/><circle cx="440.4" cy="494.9" r="1.5"/><circle cx="440.1" cy="498.3" r="1.5"/><circle cx="441.9" cy="495.9" r="1.5"/><circle cx="439.5" cy="493.4" r="1.5"/><circle cx="439.2" cy="493.0" r="1.5"/><circle cx="437.3" cy="500.2" r="1.5"/><circle cx="435.7" cy="499.6" r="1.5"/><circle cx="441.0" cy="497.1" r="1.5"/><circle cx="441.3" cy="499.0" r="1.5"/><circle cx="442.5" cy="497.3" r="1.5"/><circle cx="439.1" cy="496.5" r="1.5"/><circle cx="438.2" cy="497.7" r="1.5"/><circle cx="438.6" cy="500.2" r="1.5"/><circle cx="436.4" cy="495.4" r="1.5"/><circle cx="438.3" cy="493.2" r="1.5"/><circle cx="444.3" cy="492.5" r="1.5"/><circle cx="439.7" cy="496.6" r="1.5"/><circle cx="443.8" cy="493.4" r="1.5"/><circle cx="442.6" cy="496.2" r="1.5"/><circle cx="440.0" cy="496.3" r="1.5"/><circle cx="441.6" cy="495.3" r="1.5"/><circle cx="440.1" cy="498.6" r="1.5"/><circle cx="444.2" cy="492.5" r="1.5"/><circle cx="443.5" cy="499.9" r="1.5"/><circle cx="439.3" cy="498.5" r="1.5"/><circle cx="439.3" cy="501.4" r="1.5"/><circle cx="440.7" cy="497.3" r="1.5"/><circle cx="439.8" cy="497.4" r="1.5"/><circle cx="439.9" cy="495.9" r="1.5"/><circle cx="444.6" cy="493.6" r="1.5"/><circle cx="432.7" cy="497.5" r="1.5"/><circle cx="440.0" cy="498.6" r="1.5"/><circle cx="439.9" cy="497.5" r="1.5"/><circle cx="441.0" cy="499.9" r="1.5"/><circle cx="439.4" cy="497.0" r="1.5"/><circle cx="444.4" cy="499.0" r="1.5"/><circle cx="438.2" cy="502.9" r="1.5"/><circle cx="441.9" cy="496.5" r="1.5"/><circle cx="437.8" cy="498.5" r="1.5"/><circle cx="455.5" cy="499.2" r="1.5"/><circle cx="454.9" cy="499.9" r="1.5"/><circle cx="458.3" cy="500.0" r="1.5"/><circle cx="454.7" cy="501.5" r="1.5"/><circle cx="456.8" cy="501.7" r="1.5"/><circle cx="458.4" cy="500.4" r="1.5"/><circle cx="456.5" cy="500.5" r="1.5"/><circle cx="455.1" cy="501.5" r="1.5"/><circle cx="458.6" cy="500.8" r="1.5"/><circle cx="456.4" cy="500.3" r="1.5"/><circle cx="455.6" cy="499.6" r="1.5"/><circle cx="456.1" cy="499.5" r="1.5"/><circle cx="456.1" cy="498.5" r="1.5"/><circle cx="457.2" cy="500.7" r="1.5"/><circle cx="455.1" cy="497.6" r="1.5"/><circle cx="456.7" cy="502.0" r="1.5"/><circle cx="455.7" cy="500.0" r="1.5"/><circle cx="455.9" cy="501.4" r="1.5"/><circle cx="455.4" cy="501.9" r="1.5"/><circle cx="456.3" cy="501.8" r="1.5"/><circle cx="456.7" cy="500.3" r="1.5"/><circle cx="454.6" cy="499.7" r="1.5"/><circle cx="456.3" cy="501.5" r="1.5"/><circle cx="457.0" cy="499.7" r="1.5"/><circle cx="457.3" cy="501.9" r="1.5"/><circle cx="456.5" cy="500.0" r="1.5"/><circle cx="456.1" cy="501.7" r="1.5"/><circle cx="457.5" cy="499.4" r="1.5"/><circle cx="457.2" cy="500.0" r="1.5"/><circle cx="455.6" cy="502.2" r="1.5"/><circle cx="457.8" cy="499.7" r="1.5"/><circle cx="456.8" cy="501.3" r="1.5"/><circle cx="455.8" cy="500.4" r="1.5"/><circle cx="457.6" cy="498.3" r="1.5"/><circle cx="457.2" cy="501.6" r="1.5"/><circle cx="457.4" cy="498.9" r="1.5"/><circle cx="457.1" cy="499.5" r="1.5"/><circle cx="457.5" cy="501.4" r="1.5"/><circle cx="457.0" cy="499.6" r="1.5"/><circle cx="455.9" cy="501.7" r="1.5"/><circle cx="446.2" cy="499.9" r="1.5"/><circle cx="457.3" cy="498.1" r="1.5"/><circle cx="437.1" cy="503.6" r="1.5"/><circle cx="456.4" cy="503.9" r="1.5"/><circle cx="446.6" cy="503.7" r="1.5"/><circle cx="457.4" cy="498.6" r="1.5"/><circle cx="453.4" cy="502.9" r="1.5"/><circle cx="451.6" cy="500.6" r="1.5"/><circle cx="443.4" cy="499.4" r="1.5"/><circle cx="442.0" cy="497.5" r="1.5"/></g>
<circle cx="482" cy="419.4" r="1.3" fill="#ad2c6d"/>
<circle cx="481.3" cy="420.2" r="1.3" fill="#ad2c6d"/>
<circle cx="435" cy="487.8" r="1.3" fill="#ad2c6d"/>
<circle cx="431.3" cy="495.5" r="1.3" fill="#ad2c6d"/>
<circle cx="458.3" cy="488.6" r="1.3" fill="#ad2c6d"/>
<circle cx="463.9" cy="490" r="1.3" fill="#ad2c6d"/>
<line x1="458.2" y1="472.3" x2="458.2" y2="488" stroke="#111" stroke-width="0.75"/>
<line x1="472.8" y1="476" x2="468.9" y2="480.6" stroke="#111" stroke-width="0.75"/>
<line x1="435.9" y1="481.5" x2="435.2" y2="487.3" stroke="#111" stroke-width="0.75"/>
<line x1="426.3" y1="491.4" x2="431" y2="495.2" stroke="#111" stroke-width="0.75"/>
<line x1="425.4" y1="497.8" x2="436.8" y2="500.9" stroke="#111" stroke-width="0.75"/>
<line x1="437.7" y1="490.5" x2="441.2" y2="497.4" stroke="#111" stroke-width="0.75"/>
<line x1="474.6" y1="493.5" x2="472.3" y2="493.5" stroke="#111" stroke-width="0.75"/>
<line x1="480.8" y1="503" x2="458.3" y2="500.9" stroke="#111" stroke-width="0.75"/>
<line x1="449" y1="497.1" x2="447" y2="500.5" stroke="#111" stroke-width="0.75"/>
<line x1="430" y1="504" x2="437" y2="501" stroke="#111" stroke-width="0.75"/>
<line x1="446" y1="504" x2="444" y2="500" stroke="#111" stroke-width="0.75"/>
<line x1="462" y1="504.3" x2="459" y2="502" stroke="#111" stroke-width="0.75"/>
<line x1="440" y1="495" x2="452" y2="502.5" stroke="#111" stroke-width="0.75"/>
<line x1="436" y1="500" x2="453" y2="502" stroke="#111" stroke-width="0.75"/>
<path d="M510.6 505.6L513.4 505.6L512 507.6Z" fill="#111"/>
<circle cx="512" cy="506.3" r="1.1" fill="#111"/>
<rect x="465.8" y="421.6" width="17.4" height="6.4" fill="#fff" stroke="#333" stroke-width="0.55" rx="0.8"/>
<text x="474.5" y="426.55" font-size="6.2" textLength="15.71" lengthAdjust="spacingAndGlyphs" text-anchor="middle" font-weight="bold">GNLY</text>
<rect x="446.8" y="465.9" width="22.5" height="6.4" fill="#fff" stroke="#333" stroke-width="0.55" rx="0.8"/>
<text x="458.05" y="470.85" font-size="6.2" textLength="20.48" lengthAdjust="spacingAndGlyphs" text-anchor="middle" font-weight="bold">PRDM1</text>
<rect x="472.7" y="472" width="25.6" height="5.7" fill="#fff" stroke="#333" stroke-width="0.55" rx="0.8"/>
<text x="485.5" y="476.25" font-size="6.2" textLength="23.62" lengthAdjust="spacingAndGlyphs" text-anchor="middle" font-weight="bold">HAVCR2</text>
<rect x="428.2" y="475.9" width="16.6" height="5.6" fill="#fff" stroke="#333" stroke-width="0.55" rx="0.8"/>
<text x="436.5" y="480.05" font-size="6.2" textLength="14.96" lengthAdjust="spacingAndGlyphs" text-anchor="middle" font-weight="bold">CD74</text>
<rect x="455.8" y="480" width="20.1" height="6.3" fill="#fff" stroke="#333" stroke-width="0.55" rx="0.8"/>
<text x="465.85" y="484.85" font-size="6.2" textLength="17.22" lengthAdjust="spacingAndGlyphs" text-anchor="middle" font-weight="bold">GZMB</text>
<rect x="414" y="485.4" width="16.6" height="5.4" fill="#fff" stroke="#333" stroke-width="0.55" rx="0.8"/>
<text x="422.3" y="489.35" font-size="6.2" textLength="14.95" lengthAdjust="spacingAndGlyphs" text-anchor="middle" font-weight="bold">SELL</text>
<rect x="436.8" y="485.1" width="14.4" height="5.4" fill="#fff" stroke="#333" stroke-width="0.55" rx="0.8"/>
<text x="444" y="489.05" font-size="6.2" textLength="14.3" lengthAdjust="spacingAndGlyphs" text-anchor="middle" font-weight="bold">LEF1</text>
<rect x="446.5" y="491.2" width="25.3" height="5.9" fill="#fff" stroke="#333" stroke-width="0.55" rx="0.8"/>
<text x="459.15" y="495.65" font-size="6.2" textLength="23.08" lengthAdjust="spacingAndGlyphs" text-anchor="middle" font-weight="bold">CX3CR1</text>
<rect x="474.6" y="490.7" width="21.5" height="5.6" fill="#fff" stroke="#333" stroke-width="0.55" rx="0.8"/>
<text x="485.35" y="494.85" font-size="6.2" textLength="19.5" lengthAdjust="spacingAndGlyphs" text-anchor="middle" font-weight="bold">KLRC1</text>
<rect x="403.5" y="494.4" width="21.9" height="5.4" fill="#fff" stroke="#333" stroke-width="0.55" rx="0.8"/>
<text x="414.45" y="498.35" font-size="6.2" textLength="19.83" lengthAdjust="spacingAndGlyphs" text-anchor="middle" font-weight="bold">STMN1</text>
<rect x="480.8" y="499.9" width="28.3" height="5.8" fill="#fff" stroke="#333" stroke-width="0.55" rx="0.8"/>
<text x="494.95" y="504.25" font-size="6.2" textLength="25.03" lengthAdjust="spacingAndGlyphs" text-anchor="middle" font-weight="bold">BCL2L11</text>
<rect x="418.4" y="504" width="18.8" height="5.6" fill="#fff" stroke="#333" stroke-width="0.55" rx="0.8"/>
<text x="427.8" y="508.15" font-size="6.2" textLength="17.66" lengthAdjust="spacingAndGlyphs" text-anchor="middle" font-weight="bold">STAT1</text>
<rect x="438.5" y="504" width="15.8" height="5.6" fill="#fff" stroke="#333" stroke-width="0.55" rx="0.8"/>
<text x="446.4" y="508.15" font-size="6.2" textLength="14.63" lengthAdjust="spacingAndGlyphs" text-anchor="middle" font-weight="bold">TCF7</text>
<rect x="458.3" y="504.3" width="19.4" height="5.8" fill="#fff" stroke="#333" stroke-width="0.55" rx="0.8"/>
<text x="468" y="508.65" font-size="6.2" textLength="17.66" lengthAdjust="spacingAndGlyphs" text-anchor="middle" font-weight="bold">STAT3</text>
<text x="539" y="380.2" font-size="11.07" textLength="7.08" lengthAdjust="spacingAndGlyphs" font-weight="bold">H</text>
<text x="570.3" y="396.7" font-size="8.28" textLength="4.23" lengthAdjust="spacingAndGlyphs" text-anchor="end" fill="#4d4d4d">2</text>
<line x1="571.7" y1="394" x2="573.3" y2="394" stroke="#333" stroke-width="0.6"/>
<text x="570.3" y="412.4" font-size="8.28" textLength="4.23" lengthAdjust="spacingAndGlyphs" text-anchor="end" fill="#4d4d4d">1</text>
<line x1="571.7" y1="409.7" x2="573.3" y2="409.7" stroke="#333" stroke-width="0.6"/>
<text x="570.3" y="427.7" font-size="8.28" textLength="4.23" lengthAdjust="spacingAndGlyphs" text-anchor="end" fill="#4d4d4d">0</text>
<line x1="571.7" y1="425" x2="573.3" y2="425" stroke="#333" stroke-width="0.6"/>
<text x="563.1" y="413.4" font-size="8.23" textLength="49.52" lengthAdjust="spacingAndGlyphs" text-anchor="middle" fill="#1a1a1a" transform="rotate(-90 563.1 413.4)">CD8 Activation</text>
<circle cx="582.93" cy="414" r="0.42" fill="#333"/>
<circle cx="582.84" cy="413.1" r="0.42" fill="#333"/>
<circle cx="582.99" cy="412.12" r="0.42" fill="#333"/>
<circle cx="582.76" cy="411.06" r="0.42" fill="#333"/>
<circle cx="583.02" cy="409.92" r="0.42" fill="#333"/>
<circle cx="582.9" cy="409.7" r="0.5" fill="#333"/>
<circle cx="582.9" cy="436.5" r="0.42" fill="#333"/>
<circle cx="582.9" cy="437.4" r="0.42" fill="#333"/>
<line x1="582.9" y1="415" x2="582.9" y2="425" stroke="#333" stroke-width="0.7"/>
<line x1="582.9" y1="429.5" x2="582.9" y2="435.5" stroke="#333" stroke-width="0.7"/>
<rect x="576.4" y="425" width="13" height="4.5" fill="#9d9fdf" stroke="#333" stroke-width="0.8"/>
<line x1="576.4" y1="427.5" x2="589.4" y2="427.5" stroke="#333" stroke-width="1"/>
<line x1="582.9" y1="440.7" x2="582.9" y2="442.3" stroke="#333" stroke-width="0.6"/>
<circle cx="600.06" cy="411" r="0.42" fill="#333"/>
<circle cx="600.13" cy="410.1" r="0.42" fill="#333"/>
<circle cx="600.12" cy="409.12" r="0.42" fill="#333"/>
<circle cx="600.12" cy="408.06" r="0.42" fill="#333"/>
<circle cx="600.02" cy="406.92" r="0.42" fill="#333"/>
<circle cx="599.85" cy="405.7" r="0.42" fill="#333"/>
<circle cx="600" cy="404.7" r="0.5" fill="#333"/>
<circle cx="600" cy="435.5" r="0.42" fill="#333"/>
<circle cx="600" cy="436.4" r="0.42" fill="#333"/>
<circle cx="600" cy="437.3" r="0.42" fill="#333"/>
<line x1="600" y1="412" x2="600" y2="423.2" stroke="#333" stroke-width="0.7"/>
<line x1="600" y1="427.9" x2="600" y2="434.5" stroke="#333" stroke-width="0.7"/>
<rect x="593.5" y="423.2" width="13" height="4.7" fill="#97d5d1" stroke="#333" stroke-width="0.8"/>
<line x1="593.5" y1="425.4" x2="606.5" y2="425.4" stroke="#333" stroke-width="1"/>
<line x1="600" y1="440.7" x2="600" y2="442.3" stroke="#333" stroke-width="0.6"/>
<line x1="573.3" y1="380.7" x2="573.3" y2="440.7" stroke="#222" stroke-width="0.9"/>
<line x1="573.3" y1="440.7" x2="609.6" y2="440.7" stroke="#222" stroke-width="0.9"/>
<path d="M582.6 387.8V385.2H601.1V387.8" fill="none" stroke="#222" stroke-width="0.8"/>
<text x="591.85" y="384.6" font-size="7.19" textLength="10.27" lengthAdjust="spacingAndGlyphs" text-anchor="middle" font-weight="bold" fill="#1a1a1a">****</text>
<text x="582" y="448.5" font-size="7.96" textLength="17.05" lengthAdjust="spacingAndGlyphs" text-anchor="middle" fill="#1a1a1a">Endo</text>
<text x="581" y="453.5" font-size="8.12" textLength="24.44" lengthAdjust="spacingAndGlyphs" text-anchor="middle" fill="#1a1a1a">genous</text>
<text x="604.1" y="448.5" font-size="7.96" textLength="19.74" lengthAdjust="spacingAndGlyphs" text-anchor="middle" fill="#1a1a1a">CART</text>
<text x="638.6" y="394.2" font-size="8.28" textLength="4.23" lengthAdjust="spacingAndGlyphs" text-anchor="end" fill="#4d4d4d">2</text>
<line x1="640" y1="391.5" x2="641.6" y2="391.5" stroke="#333" stroke-width="0.6"/>
<text x="638.6" y="407.4" font-size="8.28" textLength="4.23" lengthAdjust="spacingAndGlyphs" text-anchor="end" fill="#4d4d4d">1</text>
<line x1="640" y1="404.7" x2="641.6" y2="404.7" stroke="#333" stroke-width="0.6"/>
<text x="638.6" y="420.9" font-size="8.28" textLength="4.23" lengthAdjust="spacingAndGlyphs" text-anchor="end" fill="#4d4d4d">0</text>
<line x1="640" y1="418.2" x2="641.6" y2="418.2" stroke="#333" stroke-width="0.6"/>
<text x="638.6" y="434.1" font-size="8.28" textLength="8.67" lengthAdjust="spacingAndGlyphs" text-anchor="end" fill="#4d4d4d">−1</text>
<line x1="640" y1="431.4" x2="641.6" y2="431.4" stroke="#333" stroke-width="0.6"/>
<text x="631.4" y="413.7" font-size="8.23" textLength="37.36" lengthAdjust="spacingAndGlyphs" text-anchor="middle" fill="#1a1a1a" transform="rotate(-90 631.4 413.7)">Exhaustion</text>
<circle cx="651.6" cy="435" r="0.42" fill="#333"/>
<circle cx="651.6" cy="435.9" r="0.42" fill="#333"/>
<circle cx="651.6" cy="436.8" r="0.42" fill="#333"/>
<circle cx="651.6" cy="437.7" r="0.42" fill="#333"/>
<line x1="651.6" y1="406" x2="651.6" y2="418.3" stroke="#333" stroke-width="0.7"/>
<line x1="651.6" y1="425.3" x2="651.6" y2="434" stroke="#333" stroke-width="0.7"/>
<rect x="645.1" y="418.3" width="13" height="7" fill="#9d9fdf" stroke="#333" stroke-width="0.8"/>
<line x1="645.1" y1="421.7" x2="658.1" y2="421.7" stroke="#333" stroke-width="1"/>
<line x1="651.6" y1="440.6" x2="651.6" y2="442.2" stroke="#333" stroke-width="0.6"/>
<circle cx="667.47" cy="401.5" r="0.42" fill="#333"/>
<circle cx="667.3" cy="400.6" r="0.42" fill="#333"/>
<circle cx="667.4" cy="400.5" r="0.5" fill="#333"/>
<circle cx="667.4" cy="431" r="0.42" fill="#333"/>
<circle cx="667.4" cy="431.9" r="0.42" fill="#333"/>
<circle cx="667.4" cy="432.8" r="0.42" fill="#333"/>
<circle cx="667.4" cy="433.7" r="0.42" fill="#333"/>
<circle cx="667.4" cy="434.6" r="0.42" fill="#333"/>
<circle cx="667.4" cy="435.5" r="0.42" fill="#333"/>
<line x1="667.4" y1="402.5" x2="667.4" y2="414.9" stroke="#333" stroke-width="0.7"/>
<line x1="667.4" y1="421.2" x2="667.4" y2="430" stroke="#333" stroke-width="0.7"/>
<rect x="660.9" y="414.9" width="13" height="6.3" fill="#97d5d1" stroke="#333" stroke-width="0.8"/>
<line x1="660.9" y1="418.2" x2="673.9" y2="418.2" stroke="#333" stroke-width="1"/>
<line x1="667.4" y1="440.6" x2="667.4" y2="442.2" stroke="#333" stroke-width="0.6"/>
<line x1="641.6" y1="380.7" x2="641.6" y2="440.6" stroke="#222" stroke-width="0.9"/>
<line x1="641.6" y1="440.6" x2="676.7" y2="440.6" stroke="#222" stroke-width="0.9"/>
<path d="M651.5 387.8V385.2H669.6V387.8" fill="none" stroke="#222" stroke-width="0.8"/>
<text x="660.55" y="384.6" font-size="7.19" textLength="10.27" lengthAdjust="spacingAndGlyphs" text-anchor="middle" font-weight="bold" fill="#1a1a1a">****</text>
<text x="650.3" y="448.4" font-size="7.96" textLength="17.05" lengthAdjust="spacingAndGlyphs" text-anchor="middle" fill="#1a1a1a">Endo</text>
<text x="649.3" y="453.4" font-size="8.12" textLength="24.44" lengthAdjust="spacingAndGlyphs" text-anchor="middle" fill="#1a1a1a">genous</text>
<text x="672.4" y="448.4" font-size="7.96" textLength="19.74" lengthAdjust="spacingAndGlyphs" text-anchor="middle" fill="#1a1a1a">CART</text>
<text x="569.6" y="485.5" font-size="8.28" textLength="4.23" lengthAdjust="spacingAndGlyphs" text-anchor="end" fill="#4d4d4d">2</text>
<line x1="571" y1="482.8" x2="572.6" y2="482.8" stroke="#333" stroke-width="0.6"/>
<text x="569.6" y="501" font-size="8.28" textLength="4.23" lengthAdjust="spacingAndGlyphs" text-anchor="end" fill="#4d4d4d">1</text>
<line x1="571" y1="498.3" x2="572.6" y2="498.3" stroke="#333" stroke-width="0.6"/>
<text x="569.6" y="516.4" font-size="8.28" textLength="4.23" lengthAdjust="spacingAndGlyphs" text-anchor="end" fill="#4d4d4d">0</text>
<line x1="571" y1="513.7" x2="572.6" y2="513.7" stroke="#333" stroke-width="0.6"/>
<text x="562.4" y="499" font-size="8.23" textLength="34.83" lengthAdjust="spacingAndGlyphs" text-anchor="middle" fill="#1a1a1a" transform="rotate(-90 562.4 499)">Naive_like</text>
<line x1="582.8" y1="501" x2="582.8" y2="512.5" stroke="#333" stroke-width="0.7"/>
<line x1="582.8" y1="517.8" x2="582.8" y2="527" stroke="#333" stroke-width="0.7"/>
<rect x="576.3" y="512.5" width="13" height="5.3" fill="#9d9fdf" stroke="#333" stroke-width="0.8"/>
<line x1="576.3" y1="514.8" x2="589.3" y2="514.8" stroke="#333" stroke-width="1"/>
<line x1="582.8" y1="528.6" x2="582.8" y2="530.2" stroke="#333" stroke-width="0.6"/>
<line x1="599.7" y1="503.8" x2="599.7" y2="513.2" stroke="#333" stroke-width="0.7"/>
<line x1="599.7" y1="518.6" x2="599.7" y2="526.5" stroke="#333" stroke-width="0.7"/>
<rect x="593.2" y="513.2" width="13" height="5.4" fill="#97d5d1" stroke="#333" stroke-width="0.8"/>
<line x1="593.2" y1="516.2" x2="606.2" y2="516.2" stroke="#333" stroke-width="1"/>
<line x1="599.7" y1="528.6" x2="599.7" y2="530.2" stroke="#333" stroke-width="0.6"/>
<line x1="572.6" y1="469.5" x2="572.6" y2="528.6" stroke="#222" stroke-width="0.9"/>
<line x1="572.6" y1="528.6" x2="609.6" y2="528.6" stroke="#222" stroke-width="0.9"/>
<path d="M582.6 469.5V466.9H601.4V469.5" fill="none" stroke="#222" stroke-width="0.8"/>
<text x="592" y="466.3" font-size="7.19" textLength="10.27" lengthAdjust="spacingAndGlyphs" text-anchor="middle" font-weight="bold" fill="#1a1a1a">****</text>
<text x="581.3" y="536.4" font-size="7.96" textLength="17.05" lengthAdjust="spacingAndGlyphs" text-anchor="middle" fill="#1a1a1a">Endo</text>
<text x="580.3" y="541.4" font-size="8.12" textLength="24.44" lengthAdjust="spacingAndGlyphs" text-anchor="middle" fill="#1a1a1a">genous</text>
<text x="603.4" y="536.4" font-size="7.96" textLength="19.74" lengthAdjust="spacingAndGlyphs" text-anchor="middle" fill="#1a1a1a">CART</text>
<text x="638.6" y="484.9" font-size="8.28" textLength="4.23" lengthAdjust="spacingAndGlyphs" text-anchor="end" fill="#4d4d4d">2</text>
<line x1="640" y1="482.2" x2="641.6" y2="482.2" stroke="#333" stroke-width="0.6"/>
<text x="638.6" y="500.9" font-size="8.28" textLength="4.23" lengthAdjust="spacingAndGlyphs" text-anchor="end" fill="#4d4d4d">1</text>
<line x1="640" y1="498.2" x2="641.6" y2="498.2" stroke="#333" stroke-width="0.6"/>
<text x="638.6" y="516.8" font-size="8.28" textLength="4.23" lengthAdjust="spacingAndGlyphs" text-anchor="end" fill="#4d4d4d">0</text>
<line x1="640" y1="514.1" x2="641.6" y2="514.1" stroke="#333" stroke-width="0.6"/>
<text x="631.4" y="499.6" font-size="8.23" textLength="74.27" lengthAdjust="spacingAndGlyphs" text-anchor="middle" fill="#1a1a1a" transform="rotate(-90 631.4 499.6)">Memory-like signature</text>
<circle cx="651.54" cy="493.6" r="0.42" fill="#333"/>
<circle cx="651.65" cy="492.7" r="0.42" fill="#333"/>
<circle cx="651.61" cy="491.72" r="0.42" fill="#333"/>
<circle cx="651.57" cy="490.66" r="0.42" fill="#333"/>
<circle cx="651.73" cy="489.52" r="0.42" fill="#333"/>
<circle cx="651.63" cy="488.3" r="0.42" fill="#333"/>
<circle cx="651.55" cy="487" r="0.42" fill="#333"/>
<circle cx="651.53" cy="485.62" r="0.42" fill="#333"/>
<circle cx="651.71" cy="484.16" r="0.42" fill="#333"/>
<circle cx="651.59" cy="482.62" r="0.42" fill="#333"/>
<circle cx="651.68" cy="481" r="0.42" fill="#333"/>
<circle cx="651.56" cy="479.3" r="0.42" fill="#333"/>
<circle cx="651.51" cy="477.52" r="0.42" fill="#333"/>
<circle cx="651.61" cy="475.66" r="0.42" fill="#333"/>
<circle cx="651.7" cy="473.72" r="0.42" fill="#333"/>
<circle cx="651.6" cy="473.2" r="0.5" fill="#333"/>
<line x1="651.6" y1="494.6" x2="651.6" y2="510.3" stroke="#333" stroke-width="0.7"/>
<line x1="651.6" y1="520.2" x2="651.6" y2="526.3" stroke="#333" stroke-width="0.7"/>
<rect x="645.1" y="510.3" width="13" height="9.9" fill="#9d9fdf" stroke="#333" stroke-width="0.8"/>
<line x1="645.1" y1="515.2" x2="658.1" y2="515.2" stroke="#333" stroke-width="1"/>
<line x1="651.6" y1="528.4" x2="651.6" y2="530" stroke="#333" stroke-width="0.6"/>
<circle cx="668.1" cy="497.7" r="0.42" fill="#333"/>
<circle cx="668.29" cy="496.8" r="0.42" fill="#333"/>
<circle cx="668.33" cy="495.82" r="0.42" fill="#333"/>
<circle cx="668.29" cy="494.76" r="0.42" fill="#333"/>
<circle cx="668.3" cy="493.62" r="0.42" fill="#333"/>
<circle cx="668.05" cy="492.4" r="0.42" fill="#333"/>
<circle cx="668.24" cy="491.1" r="0.42" fill="#333"/>
<circle cx="668.31" cy="489.72" r="0.42" fill="#333"/>
<circle cx="668.06" cy="488.26" r="0.42" fill="#333"/>
<circle cx="668.13" cy="486.72" r="0.42" fill="#333"/>
<circle cx="668.13" cy="485.1" r="0.42" fill="#333"/>
<circle cx="668.21" cy="483.4" r="0.42" fill="#333"/>
<circle cx="668.18" cy="481.62" r="0.42" fill="#333"/>
<circle cx="668.19" cy="479.76" r="0.42" fill="#333"/>
<circle cx="668.28" cy="477.82" r="0.42" fill="#333"/>
<circle cx="668.05" cy="475.8" r="0.42" fill="#333"/>
<circle cx="668.07" cy="473.7" r="0.42" fill="#333"/>
<circle cx="668.09" cy="471.52" r="0.42" fill="#333"/>
<circle cx="668.2" cy="471.5" r="0.5" fill="#333"/>
<line x1="668.2" y1="498.7" x2="668.2" y2="512.4" stroke="#333" stroke-width="0.7"/>
<line x1="668.2" y1="521.3" x2="668.2" y2="526.3" stroke="#333" stroke-width="0.7"/>
<rect x="661.7" y="512.4" width="13" height="8.9" fill="#97d5d1" stroke="#333" stroke-width="0.8"/>
<line x1="661.7" y1="517.4" x2="674.7" y2="517.4" stroke="#333" stroke-width="1"/>
<line x1="668.2" y1="528.4" x2="668.2" y2="530" stroke="#333" stroke-width="0.6"/>
<line x1="641.6" y1="469" x2="641.6" y2="528.4" stroke="#222" stroke-width="0.9"/>
<line x1="641.6" y1="528.4" x2="676.7" y2="528.4" stroke="#222" stroke-width="0.9"/>
<path d="M650.3 467.8V465.2H669.3V467.8" fill="none" stroke="#222" stroke-width="0.8"/>
<text x="659.8" y="464.6" font-size="7.19" textLength="10.27" lengthAdjust="spacingAndGlyphs" text-anchor="middle" font-weight="bold" fill="#1a1a1a">****</text>
<text x="650.3" y="536.2" font-size="7.96" textLength="17.05" lengthAdjust="spacingAndGlyphs" text-anchor="middle" fill="#1a1a1a">Endo</text>
<text x="649.3" y="541.2" font-size="8.12" textLength="24.44" lengthAdjust="spacingAndGlyphs" text-anchor="middle" fill="#1a1a1a">genous</text>
<text x="672.4" y="536.2" font-size="7.96" textLength="19.74" lengthAdjust="spacingAndGlyphs" text-anchor="middle" fill="#1a1a1a">CART</text>
</svg></body></html>
